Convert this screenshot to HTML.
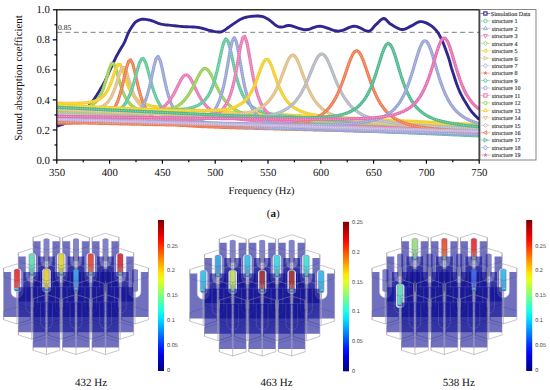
<!DOCTYPE html><html><head><meta charset="utf-8"><style>
html,body{margin:0;padding:0;background:#fff;text-rendering:geometricPrecision;-webkit-font-smoothing:antialiased;width:550px;height:390px;overflow:hidden;position:relative;font-family:"Liberation Serif",serif}
</style></head><body>
<svg width="550" height="390" viewBox="0 0 550 390" style="position:absolute;left:0;top:0">
<defs><clipPath id="cp"><rect x="56.8" y="9.8" width="422.4" height="150.2"/></clipPath></defs>
<line x1="57" y1="32.33" x2="479" y2="32.33" stroke="#808080" stroke-width="1" stroke-dasharray="5,3.4"/>
<text x="58" y="30" font-family="Liberation Serif" font-size="7.6" fill="#222">0.85</text>
<g clip-path="url(#cp)" fill="none" stroke-linejoin="round">
<path d="M56.80,126.20 L57.95,125.82 L59.54,125.31 L61.42,124.70 L63.45,124.01 L65.48,123.25 L67.36,122.45 L69.10,121.65 L70.82,120.84 L72.53,119.96 L74.27,118.97 L76.06,117.82 L77.92,116.44 L79.86,114.87 L81.86,113.16 L83.91,111.28 L85.98,109.21 L88.08,106.93 L90.17,104.43 L92.30,101.62 L94.50,98.53 L96.71,95.23 L98.89,91.80 L100.98,88.33 L102.95,84.90 L104.81,81.36 L106.61,77.61 L108.33,73.82 L109.94,70.16 L111.43,66.79 L112.77,63.87 L113.90,61.51 L114.83,59.59 L115.64,57.96 L116.39,56.47 L117.17,54.99 L118.05,53.36 L119.04,51.61 L120.09,49.85 L121.16,48.10 L122.23,46.35 L123.24,44.60 L124.17,42.84 L125.00,41.07 L125.75,39.26 L126.45,37.45 L127.14,35.67 L127.85,33.95 L128.61,32.33 L129.45,30.76 L130.35,29.21 L131.27,27.73 L132.17,26.35 L133.02,25.12 L133.78,24.07 L134.42,23.25 L134.96,22.63 L135.44,22.16 L135.92,21.78 L136.44,21.44 L137.06,21.06 L137.78,20.67 L138.57,20.30 L139.40,19.96 L140.25,19.66 L141.10,19.43 L141.91,19.26 L142.69,19.18 L143.45,19.17 L144.21,19.23 L144.97,19.32 L145.75,19.44 L146.56,19.56 L147.36,19.69 L148.13,19.82 L148.92,19.98 L149.77,20.17 L150.73,20.43 L151.84,20.76 L153.11,21.21 L154.51,21.78 L156.02,22.40 L157.62,23.02 L159.29,23.60 L161.03,24.07 L162.87,24.43 L164.85,24.72 L166.91,24.96 L168.98,25.17 L171.02,25.37 L172.96,25.57 L174.80,25.78 L176.58,25.98 L178.33,26.16 L180.05,26.33 L181.78,26.49 L183.52,26.62 L185.33,26.73 L187.20,26.81 L189.06,26.87 L190.87,26.92 L192.56,26.99 L194.08,27.07 L195.36,27.16 L196.43,27.24 L197.38,27.33 L198.30,27.44 L199.29,27.60 L200.42,27.82 L201.69,28.14 L203.04,28.52 L204.44,28.96 L205.89,29.41 L207.37,29.84 L208.86,30.23 L210.44,30.60 L212.11,30.99 L213.81,31.36 L215.47,31.68 L217.02,31.92 L218.37,32.03 L219.45,32.04 L220.30,32.00 L221.03,31.86 L221.76,31.61 L222.60,31.23 L223.65,30.68 L224.94,29.90 L226.40,28.91 L227.96,27.79 L229.58,26.60 L231.18,25.43 L232.73,24.37 L234.21,23.36 L235.68,22.34 L237.14,21.35 L238.60,20.40 L240.09,19.55 L241.60,18.81 L243.14,18.20 L244.68,17.69 L246.25,17.26 L247.83,16.92 L249.45,16.63 L251.10,16.41 L252.84,16.23 L254.66,16.10 L256.52,16.04 L258.34,16.06 L260.08,16.18 L261.66,16.41 L263.08,16.76 L264.36,17.22 L265.56,17.77 L266.71,18.41 L267.86,19.11 L269.06,19.86 L270.31,20.75 L271.60,21.80 L272.88,22.92 L274.14,24.01 L275.34,24.98 L276.45,25.72 L277.41,26.24 L278.25,26.61 L279.02,26.86 L279.81,27.00 L280.69,27.07 L281.73,27.07 L282.87,26.92 L284.06,26.57 L285.32,26.14 L286.73,25.75 L288.33,25.52 L290.18,25.57 L292.34,26.03 L294.80,26.84 L297.45,27.81 L300.18,28.74 L302.90,29.46 L305.49,29.78 L307.92,29.53 L310.27,28.84 L312.60,27.93 L314.96,27.03 L317.43,26.37 L320.06,26.17 L322.90,26.62 L325.92,27.56 L329.04,28.73 L332.18,29.89 L335.27,30.78 L338.22,31.13 L341.07,30.76 L343.88,29.84 L346.63,28.64 L349.32,27.45 L351.94,26.53 L354.49,26.17 L356.99,26.57 L359.48,27.56 L361.90,28.82 L364.19,30.06 L366.32,30.98 L368.21,31.28 L369.82,30.87 L371.16,29.98 L372.33,28.76 L373.41,27.39 L374.51,26.02 L375.71,24.82 L377.02,23.62 L378.36,22.27 L379.71,20.91 L381.05,19.73 L382.37,18.87 L383.63,18.51 L384.79,18.75 L385.83,19.49 L386.85,20.56 L387.92,21.79 L389.11,23.01 L390.50,24.07 L392.15,25.08 L394.02,26.21 L396.01,27.33 L398.03,28.32 L399.99,29.08 L401.80,29.48 L403.44,29.44 L404.98,29.06 L406.47,28.44 L407.92,27.68 L409.38,26.89 L410.88,26.17 L412.40,25.41 L413.94,24.49 L415.48,23.54 L417.01,22.68 L418.54,22.01 L420.06,21.67 L421.59,21.66 L423.13,21.90 L424.66,22.34 L426.17,22.93 L427.64,23.63 L429.04,24.37 L430.39,25.18 L431.70,26.10 L432.96,27.12 L434.18,28.23 L435.33,29.42 L436.43,30.68 L437.47,32.04 L438.44,33.53 L439.36,35.09 L440.23,36.69 L441.05,38.29 L441.82,39.84 L442.52,41.33 L443.14,42.80 L443.72,44.26 L444.27,45.74 L444.82,47.26 L445.41,48.85 L446.02,50.51 L446.65,52.22 L447.28,53.98 L447.91,55.76 L448.52,57.56 L449.10,59.37 L449.62,61.07 L450.05,62.68 L450.47,64.29 L450.94,66.05 L451.52,68.07 L452.27,70.48 L453.21,73.41 L454.29,76.79 L455.49,80.44 L456.76,84.16 L458.09,87.76 L459.45,91.06 L460.91,94.14 L462.51,97.18 L464.17,100.11 L465.79,102.84 L467.31,105.31 L468.64,107.43 L469.75,109.13 L470.69,110.45 L471.52,111.50 L472.30,112.40 L473.09,113.26 L473.92,114.19 L474.86,115.21 L475.88,116.25 L476.89,117.24 L477.83,118.14 L478.63,118.89 L479.20,119.45" stroke="#30268e" stroke-width="2.9"/>
<path d="M56.80,109.54 L58.91,109.56 L61.02,109.56 L63.14,109.56 L65.25,109.54 L67.36,109.50 L69.47,109.44 L71.58,109.36 L73.70,109.24 L75.81,109.09 L77.92,108.89 L80.03,108.62 L82.14,108.29 L84.26,107.86 L86.37,107.30 L88.48,106.58 L90.59,105.64 L92.70,104.41 L94.82,102.79 L96.93,100.63 L99.04,97.74 L101.15,93.88 L103.26,88.79 L105.38,82.37 L107.49,74.95 L109.60,67.86 L111.71,63.46 L113.82,63.81 L115.94,68.80 L118.05,76.21 L120.16,83.76 L122.27,90.25 L124.38,95.40 L126.50,99.34 L128.61,102.35 L130.72,104.64 L132.83,106.41 L134.94,107.80 L137.06,108.91 L139.17,109.81 L141.28,110.55 L143.39,111.17 L145.50,111.69 L147.62,112.14 L149.73,112.53 L151.84,112.88 L153.95,113.18 L156.06,113.46 L158.18,113.71 L160.29,113.94 L162.40,114.16 L164.51,114.36 L166.62,114.55 L168.74,114.72 L170.85,114.89 L172.96,115.05 L175.07,115.20 L177.18,115.35 L179.30,115.49 L181.41,115.63 L183.52,115.77 L185.63,115.90 L187.74,116.03 L189.86,116.15 L191.97,116.28 L194.08,116.40 L196.19,116.52 L198.30,116.63 L200.42,116.75 L202.53,116.86 L204.64,116.98 L206.75,117.09 L208.86,117.20 L210.98,117.31 L213.09,117.42 L215.20,117.53 L217.31,117.64 L219.42,117.74 L221.54,117.85 L223.65,117.96 L225.76,118.06 L227.87,118.17 L229.98,118.27 L232.10,118.38 L234.21,118.48 L236.32,118.58 L238.43,118.69 L240.54,118.79 L242.66,118.89 L244.77,119.00 L246.88,119.10 L248.99,119.20 L251.10,119.30 L253.22,119.40 L255.33,119.50 L257.44,119.61 L259.55,119.71 L261.66,119.81 L263.78,119.91 L265.89,120.01 L268.00,120.11 L270.11,120.21 L272.22,120.31 L274.34,120.41 L276.45,120.51 L278.56,120.61 L280.67,120.71 L282.78,120.81 L284.90,120.91 L287.01,121.01 L289.12,121.11 L291.23,121.21 L293.34,121.31 L295.46,121.41 L297.57,121.51 L299.68,121.60 L301.79,121.70 L303.90,121.80 L306.02,121.90 L308.13,122.00 L310.24,122.10 L312.35,122.20 L314.46,122.30 L316.58,122.40 L318.69,122.49 L320.80,122.59 L322.91,122.69 L325.02,122.79 L327.14,122.89 L329.25,122.99 L331.36,123.09 L333.47,123.18 L335.58,123.28 L337.70,123.38 L339.81,123.48 L341.92,123.58 L344.03,123.68 L346.14,123.77 L348.26,123.87 L350.37,123.97 L352.48,124.07 L354.59,124.17 L356.70,124.27 L358.82,124.36 L360.93,124.46 L363.04,124.56 L365.15,124.66 L367.26,124.76 L369.38,124.86 L371.49,124.95 L373.60,125.05 L375.71,125.15 L377.82,125.25 L379.94,125.35 L382.05,125.44 L384.16,125.54 L386.27,125.64 L388.38,125.74 L390.50,125.84 L392.61,125.93 L394.72,126.03 L396.83,126.13 L398.94,126.23 L401.06,126.33 L403.17,126.42 L405.28,126.52 L407.39,126.62 L409.50,126.72 L411.62,126.82 L413.73,126.91 L415.84,127.01 L417.95,127.11 L420.06,127.21 L422.18,127.31 L424.29,127.40 L426.40,127.50 L428.51,127.60 L430.62,127.70 L432.74,127.80 L434.85,127.89 L436.96,127.99 L439.07,128.09 L441.18,128.19 L443.30,128.28 L445.41,128.38 L447.52,128.48 L449.63,128.58 L451.74,128.68 L453.86,128.77 L455.97,128.87 L458.08,128.97 L460.19,129.07 L462.30,129.17 L464.42,129.26 L466.53,129.36 L468.64,129.46 L470.75,129.56 L472.86,129.65 L474.98,129.75 L477.09,129.85 L479.20,129.95" stroke="#9ccf5a" stroke-width="3.2"/>
<path d="M56.80,109.54 L58.91,109.56 L61.02,109.56 L63.14,109.56 L65.25,109.54 L67.36,109.50 L69.47,109.44 L71.58,109.36 L73.70,109.24 L75.81,109.09 L77.92,108.89 L80.03,108.62 L82.14,108.29 L84.26,107.86 L86.37,107.30 L88.48,106.58 L90.59,105.64 L92.70,104.41 L94.82,102.79 L96.93,100.63 L99.04,97.74 L101.15,93.88 L103.26,88.79 L105.38,82.37 L107.49,74.95 L109.60,67.86 L111.71,63.46 L113.82,63.81 L115.94,68.80 L118.05,76.21 L120.16,83.76 L122.27,90.25 L124.38,95.40 L126.50,99.34 L128.61,102.35 L130.72,104.64 L132.83,106.41 L134.94,107.80 L137.06,108.91 L139.17,109.81 L141.28,110.55 L143.39,111.17 L145.50,111.69 L147.62,112.14 L149.73,112.53 L151.84,112.88 L153.95,113.18 L156.06,113.46 L158.18,113.71 L160.29,113.94 L162.40,114.16 L164.51,114.36 L166.62,114.55 L168.74,114.72 L170.85,114.89 L172.96,115.05 L175.07,115.20 L177.18,115.35 L179.30,115.49 L181.41,115.63 L183.52,115.77 L185.63,115.90 L187.74,116.03 L189.86,116.15 L191.97,116.28 L194.08,116.40 L196.19,116.52 L198.30,116.63 L200.42,116.75 L202.53,116.86 L204.64,116.98 L206.75,117.09 L208.86,117.20 L210.98,117.31 L213.09,117.42 L215.20,117.53 L217.31,117.64 L219.42,117.74 L221.54,117.85 L223.65,117.96 L225.76,118.06 L227.87,118.17 L229.98,118.27 L232.10,118.38 L234.21,118.48 L236.32,118.58 L238.43,118.69 L240.54,118.79 L242.66,118.89 L244.77,119.00 L246.88,119.10 L248.99,119.20 L251.10,119.30 L253.22,119.40 L255.33,119.50 L257.44,119.61 L259.55,119.71 L261.66,119.81 L263.78,119.91 L265.89,120.01 L268.00,120.11 L270.11,120.21 L272.22,120.31 L274.34,120.41 L276.45,120.51 L278.56,120.61 L280.67,120.71 L282.78,120.81 L284.90,120.91 L287.01,121.01 L289.12,121.11 L291.23,121.21 L293.34,121.31 L295.46,121.41 L297.57,121.51 L299.68,121.60 L301.79,121.70 L303.90,121.80 L306.02,121.90 L308.13,122.00 L310.24,122.10 L312.35,122.20 L314.46,122.30 L316.58,122.40 L318.69,122.49 L320.80,122.59 L322.91,122.69 L325.02,122.79 L327.14,122.89 L329.25,122.99 L331.36,123.09 L333.47,123.18 L335.58,123.28 L337.70,123.38 L339.81,123.48 L341.92,123.58 L344.03,123.68 L346.14,123.77 L348.26,123.87 L350.37,123.97 L352.48,124.07 L354.59,124.17 L356.70,124.27 L358.82,124.36 L360.93,124.46 L363.04,124.56 L365.15,124.66 L367.26,124.76 L369.38,124.86 L371.49,124.95 L373.60,125.05 L375.71,125.15 L377.82,125.25 L379.94,125.35 L382.05,125.44 L384.16,125.54 L386.27,125.64 L388.38,125.74 L390.50,125.84 L392.61,125.93 L394.72,126.03 L396.83,126.13 L398.94,126.23 L401.06,126.33 L403.17,126.42 L405.28,126.52 L407.39,126.62 L409.50,126.72 L411.62,126.82 L413.73,126.91 L415.84,127.01 L417.95,127.11 L420.06,127.21 L422.18,127.31 L424.29,127.40 L426.40,127.50 L428.51,127.60 L430.62,127.70 L432.74,127.80 L434.85,127.89 L436.96,127.99 L439.07,128.09 L441.18,128.19 L443.30,128.28 L445.41,128.38 L447.52,128.48 L449.63,128.58 L451.74,128.68 L453.86,128.77 L455.97,128.87 L458.08,128.97 L460.19,129.07 L462.30,129.17 L464.42,129.26 L466.53,129.36 L468.64,129.46 L470.75,129.56 L472.86,129.65 L474.98,129.75 L477.09,129.85 L479.20,129.95" stroke="#fff" stroke-width="0.9" stroke-opacity="0.55" stroke-dasharray="1,1.3"/>
<path d="M56.80,103.07 L58.91,103.13 L61.02,103.18 L63.14,103.23 L65.25,103.26 L67.36,103.29 L69.47,103.31 L71.58,103.31 L73.70,103.30 L75.81,103.28 L77.92,103.23 L80.03,103.15 L82.14,103.04 L84.26,102.89 L86.37,102.69 L88.48,102.43 L90.59,102.08 L92.70,101.63 L94.82,101.04 L96.93,100.27 L99.04,99.25 L101.15,97.90 L103.26,96.10 L105.38,93.68 L107.49,90.44 L109.60,86.16 L111.71,80.73 L113.82,74.41 L115.94,68.30 L118.05,64.38 L120.16,64.48 L122.27,68.62 L124.38,74.94 L126.50,81.46 L128.61,87.11 L130.72,91.60 L132.83,95.05 L134.94,97.68 L137.06,99.69 L139.17,101.25 L141.28,102.48 L143.39,103.46 L145.50,104.26 L147.62,104.92 L149.73,105.48 L151.84,105.95 L153.95,106.36 L156.06,106.72 L158.18,107.04 L160.29,107.33 L162.40,107.59 L164.51,107.82 L166.62,108.05 L168.74,108.25 L170.85,108.44 L172.96,108.63 L175.07,108.80 L177.18,108.97 L179.30,109.12 L181.41,109.28 L183.52,109.43 L185.63,109.57 L187.74,109.71 L189.86,109.85 L191.97,109.98 L194.08,110.11 L196.19,110.24 L198.30,110.37 L200.42,110.50 L202.53,110.62 L204.64,110.74 L206.75,110.86 L208.86,110.98 L210.98,111.10 L213.09,111.22 L215.20,111.34 L217.31,111.45 L219.42,111.57 L221.54,111.68 L223.65,111.80 L225.76,111.91 L227.87,112.02 L229.98,112.13 L232.10,112.25 L234.21,112.36 L236.32,112.47 L238.43,112.58 L240.54,112.69 L242.66,112.80 L244.77,112.91 L246.88,113.02 L248.99,113.13 L251.10,113.24 L253.22,113.35 L255.33,113.46 L257.44,113.57 L259.55,113.67 L261.66,113.78 L263.78,113.89 L265.89,114.00 L268.00,114.11 L270.11,114.21 L272.22,114.32 L274.34,114.43 L276.45,114.54 L278.56,114.64 L280.67,114.75 L282.78,114.86 L284.90,114.97 L287.01,115.07 L289.12,115.18 L291.23,115.29 L293.34,115.39 L295.46,115.50 L297.57,115.61 L299.68,115.71 L301.79,115.82 L303.90,115.93 L306.02,116.03 L308.13,116.14 L310.24,116.25 L312.35,116.35 L314.46,116.46 L316.58,116.56 L318.69,116.67 L320.80,116.78 L322.91,116.88 L325.02,116.99 L327.14,117.09 L329.25,117.20 L331.36,117.31 L333.47,117.41 L335.58,117.52 L337.70,117.62 L339.81,117.73 L341.92,117.84 L344.03,117.94 L346.14,118.05 L348.26,118.15 L350.37,118.26 L352.48,118.37 L354.59,118.47 L356.70,118.58 L358.82,118.68 L360.93,118.79 L363.04,118.89 L365.15,119.00 L367.26,119.10 L369.38,119.21 L371.49,119.32 L373.60,119.42 L375.71,119.53 L377.82,119.63 L379.94,119.74 L382.05,119.84 L384.16,119.95 L386.27,120.06 L388.38,120.16 L390.50,120.27 L392.61,120.37 L394.72,120.48 L396.83,120.58 L398.94,120.69 L401.06,120.79 L403.17,120.90 L405.28,121.00 L407.39,121.11 L409.50,121.22 L411.62,121.32 L413.73,121.43 L415.84,121.53 L417.95,121.64 L420.06,121.74 L422.18,121.85 L424.29,121.95 L426.40,122.06 L428.51,122.16 L430.62,122.27 L432.74,122.37 L434.85,122.48 L436.96,122.59 L439.07,122.69 L441.18,122.80 L443.30,122.90 L445.41,123.01 L447.52,123.11 L449.63,123.22 L451.74,123.32 L453.86,123.43 L455.97,123.53 L458.08,123.64 L460.19,123.74 L462.30,123.85 L464.42,123.96 L466.53,124.06 L468.64,124.17 L470.75,124.27 L472.86,124.38 L474.98,124.48 L477.09,124.59 L479.20,124.69" stroke="#f2cf2c" stroke-width="3.2"/>
<path d="M56.80,103.07 L58.91,103.13 L61.02,103.18 L63.14,103.23 L65.25,103.26 L67.36,103.29 L69.47,103.31 L71.58,103.31 L73.70,103.30 L75.81,103.28 L77.92,103.23 L80.03,103.15 L82.14,103.04 L84.26,102.89 L86.37,102.69 L88.48,102.43 L90.59,102.08 L92.70,101.63 L94.82,101.04 L96.93,100.27 L99.04,99.25 L101.15,97.90 L103.26,96.10 L105.38,93.68 L107.49,90.44 L109.60,86.16 L111.71,80.73 L113.82,74.41 L115.94,68.30 L118.05,64.38 L120.16,64.48 L122.27,68.62 L124.38,74.94 L126.50,81.46 L128.61,87.11 L130.72,91.60 L132.83,95.05 L134.94,97.68 L137.06,99.69 L139.17,101.25 L141.28,102.48 L143.39,103.46 L145.50,104.26 L147.62,104.92 L149.73,105.48 L151.84,105.95 L153.95,106.36 L156.06,106.72 L158.18,107.04 L160.29,107.33 L162.40,107.59 L164.51,107.82 L166.62,108.05 L168.74,108.25 L170.85,108.44 L172.96,108.63 L175.07,108.80 L177.18,108.97 L179.30,109.12 L181.41,109.28 L183.52,109.43 L185.63,109.57 L187.74,109.71 L189.86,109.85 L191.97,109.98 L194.08,110.11 L196.19,110.24 L198.30,110.37 L200.42,110.50 L202.53,110.62 L204.64,110.74 L206.75,110.86 L208.86,110.98 L210.98,111.10 L213.09,111.22 L215.20,111.34 L217.31,111.45 L219.42,111.57 L221.54,111.68 L223.65,111.80 L225.76,111.91 L227.87,112.02 L229.98,112.13 L232.10,112.25 L234.21,112.36 L236.32,112.47 L238.43,112.58 L240.54,112.69 L242.66,112.80 L244.77,112.91 L246.88,113.02 L248.99,113.13 L251.10,113.24 L253.22,113.35 L255.33,113.46 L257.44,113.57 L259.55,113.67 L261.66,113.78 L263.78,113.89 L265.89,114.00 L268.00,114.11 L270.11,114.21 L272.22,114.32 L274.34,114.43 L276.45,114.54 L278.56,114.64 L280.67,114.75 L282.78,114.86 L284.90,114.97 L287.01,115.07 L289.12,115.18 L291.23,115.29 L293.34,115.39 L295.46,115.50 L297.57,115.61 L299.68,115.71 L301.79,115.82 L303.90,115.93 L306.02,116.03 L308.13,116.14 L310.24,116.25 L312.35,116.35 L314.46,116.46 L316.58,116.56 L318.69,116.67 L320.80,116.78 L322.91,116.88 L325.02,116.99 L327.14,117.09 L329.25,117.20 L331.36,117.31 L333.47,117.41 L335.58,117.52 L337.70,117.62 L339.81,117.73 L341.92,117.84 L344.03,117.94 L346.14,118.05 L348.26,118.15 L350.37,118.26 L352.48,118.37 L354.59,118.47 L356.70,118.58 L358.82,118.68 L360.93,118.79 L363.04,118.89 L365.15,119.00 L367.26,119.10 L369.38,119.21 L371.49,119.32 L373.60,119.42 L375.71,119.53 L377.82,119.63 L379.94,119.74 L382.05,119.84 L384.16,119.95 L386.27,120.06 L388.38,120.16 L390.50,120.27 L392.61,120.37 L394.72,120.48 L396.83,120.58 L398.94,120.69 L401.06,120.79 L403.17,120.90 L405.28,121.00 L407.39,121.11 L409.50,121.22 L411.62,121.32 L413.73,121.43 L415.84,121.53 L417.95,121.64 L420.06,121.74 L422.18,121.85 L424.29,121.95 L426.40,122.06 L428.51,122.16 L430.62,122.27 L432.74,122.37 L434.85,122.48 L436.96,122.59 L439.07,122.69 L441.18,122.80 L443.30,122.90 L445.41,123.01 L447.52,123.11 L449.63,123.22 L451.74,123.32 L453.86,123.43 L455.97,123.53 L458.08,123.64 L460.19,123.74 L462.30,123.85 L464.42,123.96 L466.53,124.06 L468.64,124.17 L470.75,124.27 L472.86,124.38 L474.98,124.48 L477.09,124.59 L479.20,124.69" stroke="#fff" stroke-width="0.9" stroke-opacity="0.55" stroke-dasharray="1,1.3"/>
<path d="M56.80,110.62 L58.91,110.66 L61.02,110.70 L63.14,110.73 L65.25,110.76 L67.36,110.78 L69.47,110.79 L71.58,110.79 L73.70,110.78 L75.81,110.76 L77.92,110.72 L80.03,110.66 L82.14,110.58 L84.26,110.46 L86.37,110.32 L88.48,110.12 L90.59,109.88 L92.70,109.56 L94.82,109.15 L96.93,108.63 L99.04,107.95 L101.15,107.08 L103.26,105.93 L105.38,104.42 L107.49,102.42 L109.60,99.74 L111.71,96.16 L113.82,91.44 L115.94,85.45 L118.05,78.50 L120.16,71.77 L122.27,67.45 L124.38,67.53 L126.50,72.03 L128.61,78.94 L130.72,86.06 L132.83,92.21 L134.94,97.11 L137.06,100.86 L139.17,103.71 L141.28,105.89 L143.39,107.58 L145.50,108.89 L147.62,109.94 L149.73,110.79 L151.84,111.48 L153.95,112.06 L156.06,112.55 L158.18,112.97 L160.29,113.34 L162.40,113.66 L164.51,113.94 L166.62,114.20 L168.74,114.43 L170.85,114.65 L172.96,114.84 L175.07,115.03 L177.18,115.20 L179.30,115.36 L181.41,115.51 L183.52,115.66 L185.63,115.80 L187.74,115.93 L189.86,116.06 L191.97,116.18 L194.08,116.30 L196.19,116.42 L198.30,116.54 L200.42,116.65 L202.53,116.76 L204.64,116.87 L206.75,116.98 L208.86,117.08 L210.98,117.19 L213.09,117.29 L215.20,117.39 L217.31,117.49 L219.42,117.59 L221.54,117.69 L223.65,117.78 L225.76,117.88 L227.87,117.98 L229.98,118.07 L232.10,118.17 L234.21,118.26 L236.32,118.36 L238.43,118.45 L240.54,118.54 L242.66,118.63 L244.77,118.73 L246.88,118.82 L248.99,118.91 L251.10,119.00 L253.22,119.09 L255.33,119.18 L257.44,119.27 L259.55,119.36 L261.66,119.45 L263.78,119.54 L265.89,119.63 L268.00,119.72 L270.11,119.81 L272.22,119.90 L274.34,119.99 L276.45,120.08 L278.56,120.17 L280.67,120.26 L282.78,120.35 L284.90,120.44 L287.01,120.53 L289.12,120.61 L291.23,120.70 L293.34,120.79 L295.46,120.88 L297.57,120.97 L299.68,121.06 L301.79,121.14 L303.90,121.23 L306.02,121.32 L308.13,121.41 L310.24,121.49 L312.35,121.58 L314.46,121.67 L316.58,121.76 L318.69,121.85 L320.80,121.93 L322.91,122.02 L325.02,122.11 L327.14,122.20 L329.25,122.28 L331.36,122.37 L333.47,122.46 L335.58,122.54 L337.70,122.63 L339.81,122.72 L341.92,122.81 L344.03,122.89 L346.14,122.98 L348.26,123.07 L350.37,123.16 L352.48,123.24 L354.59,123.33 L356.70,123.42 L358.82,123.50 L360.93,123.59 L363.04,123.68 L365.15,123.76 L367.26,123.85 L369.38,123.94 L371.49,124.03 L373.60,124.11 L375.71,124.20 L377.82,124.29 L379.94,124.37 L382.05,124.46 L384.16,124.55 L386.27,124.63 L388.38,124.72 L390.50,124.81 L392.61,124.89 L394.72,124.98 L396.83,125.07 L398.94,125.15 L401.06,125.24 L403.17,125.33 L405.28,125.41 L407.39,125.50 L409.50,125.59 L411.62,125.67 L413.73,125.76 L415.84,125.85 L417.95,125.93 L420.06,126.02 L422.18,126.11 L424.29,126.19 L426.40,126.28 L428.51,126.37 L430.62,126.45 L432.74,126.54 L434.85,126.63 L436.96,126.71 L439.07,126.80 L441.18,126.89 L443.30,126.97 L445.41,127.06 L447.52,127.15 L449.63,127.23 L451.74,127.32 L453.86,127.41 L455.97,127.49 L458.08,127.58 L460.19,127.67 L462.30,127.75 L464.42,127.84 L466.53,127.93 L468.64,128.01 L470.75,128.10 L472.86,128.19 L474.98,128.27 L477.09,128.36 L479.20,128.45" stroke="#dfc08a" stroke-width="3.2"/>
<path d="M56.80,110.62 L58.91,110.66 L61.02,110.70 L63.14,110.73 L65.25,110.76 L67.36,110.78 L69.47,110.79 L71.58,110.79 L73.70,110.78 L75.81,110.76 L77.92,110.72 L80.03,110.66 L82.14,110.58 L84.26,110.46 L86.37,110.32 L88.48,110.12 L90.59,109.88 L92.70,109.56 L94.82,109.15 L96.93,108.63 L99.04,107.95 L101.15,107.08 L103.26,105.93 L105.38,104.42 L107.49,102.42 L109.60,99.74 L111.71,96.16 L113.82,91.44 L115.94,85.45 L118.05,78.50 L120.16,71.77 L122.27,67.45 L124.38,67.53 L126.50,72.03 L128.61,78.94 L130.72,86.06 L132.83,92.21 L134.94,97.11 L137.06,100.86 L139.17,103.71 L141.28,105.89 L143.39,107.58 L145.50,108.89 L147.62,109.94 L149.73,110.79 L151.84,111.48 L153.95,112.06 L156.06,112.55 L158.18,112.97 L160.29,113.34 L162.40,113.66 L164.51,113.94 L166.62,114.20 L168.74,114.43 L170.85,114.65 L172.96,114.84 L175.07,115.03 L177.18,115.20 L179.30,115.36 L181.41,115.51 L183.52,115.66 L185.63,115.80 L187.74,115.93 L189.86,116.06 L191.97,116.18 L194.08,116.30 L196.19,116.42 L198.30,116.54 L200.42,116.65 L202.53,116.76 L204.64,116.87 L206.75,116.98 L208.86,117.08 L210.98,117.19 L213.09,117.29 L215.20,117.39 L217.31,117.49 L219.42,117.59 L221.54,117.69 L223.65,117.78 L225.76,117.88 L227.87,117.98 L229.98,118.07 L232.10,118.17 L234.21,118.26 L236.32,118.36 L238.43,118.45 L240.54,118.54 L242.66,118.63 L244.77,118.73 L246.88,118.82 L248.99,118.91 L251.10,119.00 L253.22,119.09 L255.33,119.18 L257.44,119.27 L259.55,119.36 L261.66,119.45 L263.78,119.54 L265.89,119.63 L268.00,119.72 L270.11,119.81 L272.22,119.90 L274.34,119.99 L276.45,120.08 L278.56,120.17 L280.67,120.26 L282.78,120.35 L284.90,120.44 L287.01,120.53 L289.12,120.61 L291.23,120.70 L293.34,120.79 L295.46,120.88 L297.57,120.97 L299.68,121.06 L301.79,121.14 L303.90,121.23 L306.02,121.32 L308.13,121.41 L310.24,121.49 L312.35,121.58 L314.46,121.67 L316.58,121.76 L318.69,121.85 L320.80,121.93 L322.91,122.02 L325.02,122.11 L327.14,122.20 L329.25,122.28 L331.36,122.37 L333.47,122.46 L335.58,122.54 L337.70,122.63 L339.81,122.72 L341.92,122.81 L344.03,122.89 L346.14,122.98 L348.26,123.07 L350.37,123.16 L352.48,123.24 L354.59,123.33 L356.70,123.42 L358.82,123.50 L360.93,123.59 L363.04,123.68 L365.15,123.76 L367.26,123.85 L369.38,123.94 L371.49,124.03 L373.60,124.11 L375.71,124.20 L377.82,124.29 L379.94,124.37 L382.05,124.46 L384.16,124.55 L386.27,124.63 L388.38,124.72 L390.50,124.81 L392.61,124.89 L394.72,124.98 L396.83,125.07 L398.94,125.15 L401.06,125.24 L403.17,125.33 L405.28,125.41 L407.39,125.50 L409.50,125.59 L411.62,125.67 L413.73,125.76 L415.84,125.85 L417.95,125.93 L420.06,126.02 L422.18,126.11 L424.29,126.19 L426.40,126.28 L428.51,126.37 L430.62,126.45 L432.74,126.54 L434.85,126.63 L436.96,126.71 L439.07,126.80 L441.18,126.89 L443.30,126.97 L445.41,127.06 L447.52,127.15 L449.63,127.23 L451.74,127.32 L453.86,127.41 L455.97,127.49 L458.08,127.58 L460.19,127.67 L462.30,127.75 L464.42,127.84 L466.53,127.93 L468.64,128.01 L470.75,128.10 L472.86,128.19 L474.98,128.27 L477.09,128.36 L479.20,128.45" stroke="#fff" stroke-width="0.9" stroke-opacity="0.55" stroke-dasharray="1,1.3"/>
<path d="M56.80,123.21 L58.91,123.20 L61.02,123.20 L63.14,123.18 L65.25,123.17 L67.36,123.14 L69.47,123.10 L71.58,123.06 L73.70,123.00 L75.81,122.93 L77.92,122.85 L80.03,122.75 L82.14,122.62 L84.26,122.47 L86.37,122.29 L88.48,122.08 L90.59,121.82 L92.70,121.50 L94.82,121.12 L96.93,120.66 L99.04,120.09 L101.15,119.39 L103.26,118.53 L105.38,117.44 L107.49,116.07 L109.60,114.31 L111.71,112.06 L113.82,109.13 L115.94,105.31 L118.05,100.33 L120.16,93.92 L122.27,85.97 L124.38,76.83 L126.50,67.79 L128.61,61.30 L130.72,59.87 L132.83,64.17 L134.94,72.38 L137.06,81.81 L139.17,90.55 L141.28,97.83 L143.39,103.59 L145.50,108.06 L147.62,111.50 L149.73,114.16 L151.84,116.25 L153.95,117.89 L156.06,119.21 L158.18,120.28 L160.29,121.15 L162.40,121.88 L164.51,122.49 L166.62,123.01 L168.74,123.45 L170.85,123.83 L172.96,124.17 L175.07,124.46 L177.18,124.72 L179.30,124.96 L181.41,125.17 L183.52,125.36 L185.63,125.53 L187.74,125.69 L189.86,125.84 L191.97,125.98 L194.08,126.11 L196.19,126.23 L198.30,126.34 L200.42,126.45 L202.53,126.55 L204.64,126.65 L206.75,126.74 L208.86,126.83 L210.98,126.91 L213.09,127.00 L215.20,127.08 L217.31,127.16 L219.42,127.23 L221.54,127.30 L223.65,127.38 L225.76,127.45 L227.87,127.52 L229.98,127.58 L232.10,127.65 L234.21,127.71 L236.32,127.78 L238.43,127.84 L240.54,127.90 L242.66,127.96 L244.77,128.03 L246.88,128.08 L248.99,128.14 L251.10,128.20 L253.22,128.26 L255.33,128.32 L257.44,128.38 L259.55,128.43 L261.66,128.49 L263.78,128.54 L265.89,128.60 L268.00,128.66 L270.11,128.71 L272.22,128.76 L274.34,128.82 L276.45,128.87 L278.56,128.93 L280.67,128.98 L282.78,129.03 L284.90,129.09 L287.01,129.14 L289.12,129.19 L291.23,129.25 L293.34,129.30 L295.46,129.35 L297.57,129.40 L299.68,129.45 L301.79,129.51 L303.90,129.56 L306.02,129.61 L308.13,129.66 L310.24,129.71 L312.35,129.76 L314.46,129.82 L316.58,129.87 L318.69,129.92 L320.80,129.97 L322.91,130.02 L325.02,130.07 L327.14,130.12 L329.25,130.17 L331.36,130.22 L333.47,130.27 L335.58,130.32 L337.70,130.37 L339.81,130.43 L341.92,130.48 L344.03,130.53 L346.14,130.58 L348.26,130.63 L350.37,130.68 L352.48,130.73 L354.59,130.78 L356.70,130.83 L358.82,130.88 L360.93,130.93 L363.04,130.98 L365.15,131.03 L367.26,131.08 L369.38,131.13 L371.49,131.18 L373.60,131.23 L375.71,131.28 L377.82,131.33 L379.94,131.38 L382.05,131.42 L384.16,131.47 L386.27,131.52 L388.38,131.57 L390.50,131.62 L392.61,131.67 L394.72,131.72 L396.83,131.77 L398.94,131.82 L401.06,131.87 L403.17,131.92 L405.28,131.97 L407.39,132.02 L409.50,132.07 L411.62,132.12 L413.73,132.17 L415.84,132.22 L417.95,132.27 L420.06,132.32 L422.18,132.37 L424.29,132.41 L426.40,132.46 L428.51,132.51 L430.62,132.56 L432.74,132.61 L434.85,132.66 L436.96,132.71 L439.07,132.76 L441.18,132.81 L443.30,132.86 L445.41,132.91 L447.52,132.96 L449.63,133.01 L451.74,133.05 L453.86,133.10 L455.97,133.15 L458.08,133.20 L460.19,133.25 L462.30,133.30 L464.42,133.35 L466.53,133.40 L468.64,133.45 L470.75,133.50 L472.86,133.55 L474.98,133.60 L477.09,133.64 L479.20,133.69" stroke="#ee7c52" stroke-width="3.2"/>
<path d="M56.80,123.21 L58.91,123.20 L61.02,123.20 L63.14,123.18 L65.25,123.17 L67.36,123.14 L69.47,123.10 L71.58,123.06 L73.70,123.00 L75.81,122.93 L77.92,122.85 L80.03,122.75 L82.14,122.62 L84.26,122.47 L86.37,122.29 L88.48,122.08 L90.59,121.82 L92.70,121.50 L94.82,121.12 L96.93,120.66 L99.04,120.09 L101.15,119.39 L103.26,118.53 L105.38,117.44 L107.49,116.07 L109.60,114.31 L111.71,112.06 L113.82,109.13 L115.94,105.31 L118.05,100.33 L120.16,93.92 L122.27,85.97 L124.38,76.83 L126.50,67.79 L128.61,61.30 L130.72,59.87 L132.83,64.17 L134.94,72.38 L137.06,81.81 L139.17,90.55 L141.28,97.83 L143.39,103.59 L145.50,108.06 L147.62,111.50 L149.73,114.16 L151.84,116.25 L153.95,117.89 L156.06,119.21 L158.18,120.28 L160.29,121.15 L162.40,121.88 L164.51,122.49 L166.62,123.01 L168.74,123.45 L170.85,123.83 L172.96,124.17 L175.07,124.46 L177.18,124.72 L179.30,124.96 L181.41,125.17 L183.52,125.36 L185.63,125.53 L187.74,125.69 L189.86,125.84 L191.97,125.98 L194.08,126.11 L196.19,126.23 L198.30,126.34 L200.42,126.45 L202.53,126.55 L204.64,126.65 L206.75,126.74 L208.86,126.83 L210.98,126.91 L213.09,127.00 L215.20,127.08 L217.31,127.16 L219.42,127.23 L221.54,127.30 L223.65,127.38 L225.76,127.45 L227.87,127.52 L229.98,127.58 L232.10,127.65 L234.21,127.71 L236.32,127.78 L238.43,127.84 L240.54,127.90 L242.66,127.96 L244.77,128.03 L246.88,128.08 L248.99,128.14 L251.10,128.20 L253.22,128.26 L255.33,128.32 L257.44,128.38 L259.55,128.43 L261.66,128.49 L263.78,128.54 L265.89,128.60 L268.00,128.66 L270.11,128.71 L272.22,128.76 L274.34,128.82 L276.45,128.87 L278.56,128.93 L280.67,128.98 L282.78,129.03 L284.90,129.09 L287.01,129.14 L289.12,129.19 L291.23,129.25 L293.34,129.30 L295.46,129.35 L297.57,129.40 L299.68,129.45 L301.79,129.51 L303.90,129.56 L306.02,129.61 L308.13,129.66 L310.24,129.71 L312.35,129.76 L314.46,129.82 L316.58,129.87 L318.69,129.92 L320.80,129.97 L322.91,130.02 L325.02,130.07 L327.14,130.12 L329.25,130.17 L331.36,130.22 L333.47,130.27 L335.58,130.32 L337.70,130.37 L339.81,130.43 L341.92,130.48 L344.03,130.53 L346.14,130.58 L348.26,130.63 L350.37,130.68 L352.48,130.73 L354.59,130.78 L356.70,130.83 L358.82,130.88 L360.93,130.93 L363.04,130.98 L365.15,131.03 L367.26,131.08 L369.38,131.13 L371.49,131.18 L373.60,131.23 L375.71,131.28 L377.82,131.33 L379.94,131.38 L382.05,131.42 L384.16,131.47 L386.27,131.52 L388.38,131.57 L390.50,131.62 L392.61,131.67 L394.72,131.72 L396.83,131.77 L398.94,131.82 L401.06,131.87 L403.17,131.92 L405.28,131.97 L407.39,132.02 L409.50,132.07 L411.62,132.12 L413.73,132.17 L415.84,132.22 L417.95,132.27 L420.06,132.32 L422.18,132.37 L424.29,132.41 L426.40,132.46 L428.51,132.51 L430.62,132.56 L432.74,132.61 L434.85,132.66 L436.96,132.71 L439.07,132.76 L441.18,132.81 L443.30,132.86 L445.41,132.91 L447.52,132.96 L449.63,133.01 L451.74,133.05 L453.86,133.10 L455.97,133.15 L458.08,133.20 L460.19,133.25 L462.30,133.30 L464.42,133.35 L466.53,133.40 L468.64,133.45 L470.75,133.50 L472.86,133.55 L474.98,133.60 L477.09,133.64 L479.20,133.69" stroke="#fff" stroke-width="0.9" stroke-opacity="0.55" stroke-dasharray="1,1.3"/>
<path d="M56.80,116.55 L58.91,116.61 L61.02,116.66 L63.14,116.71 L65.25,116.76 L67.36,116.80 L69.47,116.83 L71.58,116.87 L73.70,116.89 L75.81,116.91 L77.92,116.92 L80.03,116.92 L82.14,116.91 L84.26,116.89 L86.37,116.85 L88.48,116.80 L90.59,116.73 L92.70,116.64 L94.82,116.52 L96.93,116.38 L99.04,116.19 L101.15,115.96 L103.26,115.68 L105.38,115.34 L107.49,114.91 L109.60,114.39 L111.71,113.75 L113.82,112.96 L115.94,111.97 L118.05,110.74 L120.16,109.19 L122.27,107.23 L124.38,104.74 L126.50,101.57 L128.61,97.53 L130.72,92.45 L132.83,86.19 L134.94,78.84 L137.06,70.95 L139.17,63.75 L141.28,59.06 L143.39,58.48 L145.50,62.24 L147.62,69.08 L149.73,77.12 L151.84,84.90 L153.95,91.70 L156.06,97.32 L158.18,101.84 L160.29,105.44 L162.40,108.30 L164.51,110.59 L166.62,112.44 L168.74,113.95 L170.85,115.19 L172.96,116.22 L175.07,117.10 L177.18,117.84 L179.30,118.48 L181.41,119.03 L183.52,119.52 L185.63,119.95 L187.74,120.33 L189.86,120.68 L191.97,120.99 L194.08,121.28 L196.19,121.54 L198.30,121.79 L200.42,122.01 L202.53,122.23 L204.64,122.43 L206.75,122.62 L208.86,122.80 L210.98,122.97 L213.09,123.13 L215.20,123.29 L217.31,123.45 L219.42,123.59 L221.54,123.74 L223.65,123.87 L225.76,124.01 L227.87,124.14 L229.98,124.27 L232.10,124.40 L234.21,124.52 L236.32,124.64 L238.43,124.76 L240.54,124.88 L242.66,125.00 L244.77,125.11 L246.88,125.23 L248.99,125.34 L251.10,125.45 L253.22,125.56 L255.33,125.67 L257.44,125.78 L259.55,125.89 L261.66,125.99 L263.78,126.10 L265.89,126.20 L268.00,126.31 L270.11,126.41 L272.22,126.52 L274.34,126.62 L276.45,126.72 L278.56,126.82 L280.67,126.92 L282.78,127.03 L284.90,127.13 L287.01,127.23 L289.12,127.33 L291.23,127.43 L293.34,127.53 L295.46,127.63 L297.57,127.73 L299.68,127.83 L301.79,127.92 L303.90,128.02 L306.02,128.12 L308.13,128.22 L310.24,128.32 L312.35,128.42 L314.46,128.51 L316.58,128.61 L318.69,128.71 L320.80,128.81 L322.91,128.90 L325.02,129.00 L327.14,129.10 L329.25,129.19 L331.36,129.29 L333.47,129.39 L335.58,129.48 L337.70,129.58 L339.81,129.68 L341.92,129.77 L344.03,129.87 L346.14,129.96 L348.26,130.06 L350.37,130.16 L352.48,130.25 L354.59,130.35 L356.70,130.44 L358.82,130.54 L360.93,130.63 L363.04,130.73 L365.15,130.83 L367.26,130.92 L369.38,131.02 L371.49,131.11 L373.60,131.21 L375.71,131.30 L377.82,131.40 L379.94,131.49 L382.05,131.59 L384.16,131.68 L386.27,131.78 L388.38,131.87 L390.50,131.97 L392.61,132.06 L394.72,132.16 L396.83,132.25 L398.94,132.35 L401.06,132.44 L403.17,132.54 L405.28,132.63 L407.39,132.73 L409.50,132.82 L411.62,132.92 L413.73,133.01 L415.84,133.11 L417.95,133.20 L420.06,133.30 L422.18,133.39 L424.29,133.48 L426.40,133.58 L428.51,133.67 L430.62,133.77 L432.74,133.86 L434.85,133.96 L436.96,134.05 L439.07,134.15 L441.18,134.24 L443.30,134.34 L445.41,134.43 L447.52,134.52 L449.63,134.62 L451.74,134.71 L453.86,134.81 L455.97,134.90 L458.08,135.00 L460.19,135.09 L462.30,135.19 L464.42,135.28 L466.53,135.37 L468.64,135.47 L470.75,135.56 L472.86,135.66 L474.98,135.75 L477.09,135.85 L479.20,135.94" stroke="#62c79c" stroke-width="3.2"/>
<path d="M56.80,116.55 L58.91,116.61 L61.02,116.66 L63.14,116.71 L65.25,116.76 L67.36,116.80 L69.47,116.83 L71.58,116.87 L73.70,116.89 L75.81,116.91 L77.92,116.92 L80.03,116.92 L82.14,116.91 L84.26,116.89 L86.37,116.85 L88.48,116.80 L90.59,116.73 L92.70,116.64 L94.82,116.52 L96.93,116.38 L99.04,116.19 L101.15,115.96 L103.26,115.68 L105.38,115.34 L107.49,114.91 L109.60,114.39 L111.71,113.75 L113.82,112.96 L115.94,111.97 L118.05,110.74 L120.16,109.19 L122.27,107.23 L124.38,104.74 L126.50,101.57 L128.61,97.53 L130.72,92.45 L132.83,86.19 L134.94,78.84 L137.06,70.95 L139.17,63.75 L141.28,59.06 L143.39,58.48 L145.50,62.24 L147.62,69.08 L149.73,77.12 L151.84,84.90 L153.95,91.70 L156.06,97.32 L158.18,101.84 L160.29,105.44 L162.40,108.30 L164.51,110.59 L166.62,112.44 L168.74,113.95 L170.85,115.19 L172.96,116.22 L175.07,117.10 L177.18,117.84 L179.30,118.48 L181.41,119.03 L183.52,119.52 L185.63,119.95 L187.74,120.33 L189.86,120.68 L191.97,120.99 L194.08,121.28 L196.19,121.54 L198.30,121.79 L200.42,122.01 L202.53,122.23 L204.64,122.43 L206.75,122.62 L208.86,122.80 L210.98,122.97 L213.09,123.13 L215.20,123.29 L217.31,123.45 L219.42,123.59 L221.54,123.74 L223.65,123.87 L225.76,124.01 L227.87,124.14 L229.98,124.27 L232.10,124.40 L234.21,124.52 L236.32,124.64 L238.43,124.76 L240.54,124.88 L242.66,125.00 L244.77,125.11 L246.88,125.23 L248.99,125.34 L251.10,125.45 L253.22,125.56 L255.33,125.67 L257.44,125.78 L259.55,125.89 L261.66,125.99 L263.78,126.10 L265.89,126.20 L268.00,126.31 L270.11,126.41 L272.22,126.52 L274.34,126.62 L276.45,126.72 L278.56,126.82 L280.67,126.92 L282.78,127.03 L284.90,127.13 L287.01,127.23 L289.12,127.33 L291.23,127.43 L293.34,127.53 L295.46,127.63 L297.57,127.73 L299.68,127.83 L301.79,127.92 L303.90,128.02 L306.02,128.12 L308.13,128.22 L310.24,128.32 L312.35,128.42 L314.46,128.51 L316.58,128.61 L318.69,128.71 L320.80,128.81 L322.91,128.90 L325.02,129.00 L327.14,129.10 L329.25,129.19 L331.36,129.29 L333.47,129.39 L335.58,129.48 L337.70,129.58 L339.81,129.68 L341.92,129.77 L344.03,129.87 L346.14,129.96 L348.26,130.06 L350.37,130.16 L352.48,130.25 L354.59,130.35 L356.70,130.44 L358.82,130.54 L360.93,130.63 L363.04,130.73 L365.15,130.83 L367.26,130.92 L369.38,131.02 L371.49,131.11 L373.60,131.21 L375.71,131.30 L377.82,131.40 L379.94,131.49 L382.05,131.59 L384.16,131.68 L386.27,131.78 L388.38,131.87 L390.50,131.97 L392.61,132.06 L394.72,132.16 L396.83,132.25 L398.94,132.35 L401.06,132.44 L403.17,132.54 L405.28,132.63 L407.39,132.73 L409.50,132.82 L411.62,132.92 L413.73,133.01 L415.84,133.11 L417.95,133.20 L420.06,133.30 L422.18,133.39 L424.29,133.48 L426.40,133.58 L428.51,133.67 L430.62,133.77 L432.74,133.86 L434.85,133.96 L436.96,134.05 L439.07,134.15 L441.18,134.24 L443.30,134.34 L445.41,134.43 L447.52,134.52 L449.63,134.62 L451.74,134.71 L453.86,134.81 L455.97,134.90 L458.08,135.00 L460.19,135.09 L462.30,135.19 L464.42,135.28 L466.53,135.37 L468.64,135.47 L470.75,135.56 L472.86,135.66 L474.98,135.75 L477.09,135.85 L479.20,135.94" stroke="#fff" stroke-width="0.9" stroke-opacity="0.55" stroke-dasharray="1,1.3"/>
<path d="M56.80,121.36 L58.91,121.41 L61.02,121.45 L63.14,121.50 L65.25,121.54 L67.36,121.59 L69.47,121.63 L71.58,121.67 L73.70,121.70 L75.81,121.74 L77.92,121.77 L80.03,121.80 L82.14,121.83 L84.26,121.85 L86.37,121.86 L88.48,121.88 L90.59,121.89 L92.70,121.89 L94.82,121.88 L96.93,121.87 L99.04,121.85 L101.15,121.81 L103.26,121.77 L105.38,121.71 L107.49,121.63 L109.60,121.53 L111.71,121.41 L113.82,121.26 L115.94,121.08 L118.05,120.85 L120.16,120.58 L122.27,120.24 L124.38,119.82 L126.50,119.31 L128.61,118.67 L130.72,117.87 L132.83,116.86 L134.94,115.57 L137.06,113.93 L139.17,111.79 L141.28,108.99 L143.39,105.29 L145.50,100.41 L147.62,94.02 L149.73,85.90 L151.84,76.26 L153.95,66.32 L156.06,58.69 L158.18,56.45 L160.29,60.69 L162.40,69.49 L164.51,79.68 L166.62,89.07 L168.74,96.79 L170.85,102.82 L172.96,107.44 L175.07,110.97 L177.18,113.68 L179.30,115.79 L181.41,117.45 L183.52,118.77 L185.63,119.85 L187.74,120.72 L189.86,121.45 L191.97,122.07 L194.08,122.59 L196.19,123.04 L198.30,123.43 L200.42,123.77 L202.53,124.07 L204.64,124.34 L206.75,124.59 L208.86,124.81 L210.98,125.01 L213.09,125.20 L215.20,125.37 L217.31,125.53 L219.42,125.68 L221.54,125.82 L223.65,125.96 L225.76,126.08 L227.87,126.21 L229.98,126.32 L232.10,126.43 L234.21,126.54 L236.32,126.65 L238.43,126.75 L240.54,126.84 L242.66,126.94 L244.77,127.03 L246.88,127.12 L248.99,127.21 L251.10,127.30 L253.22,127.39 L255.33,127.47 L257.44,127.55 L259.55,127.63 L261.66,127.72 L263.78,127.80 L265.89,127.87 L268.00,127.95 L270.11,128.03 L272.22,128.11 L274.34,128.18 L276.45,128.26 L278.56,128.33 L280.67,128.41 L282.78,128.48 L284.90,128.55 L287.01,128.63 L289.12,128.70 L291.23,128.77 L293.34,128.84 L295.46,128.91 L297.57,128.98 L299.68,129.06 L301.79,129.13 L303.90,129.20 L306.02,129.27 L308.13,129.34 L310.24,129.41 L312.35,129.48 L314.46,129.54 L316.58,129.61 L318.69,129.68 L320.80,129.75 L322.91,129.82 L325.02,129.89 L327.14,129.96 L329.25,130.03 L331.36,130.09 L333.47,130.16 L335.58,130.23 L337.70,130.30 L339.81,130.37 L341.92,130.43 L344.03,130.50 L346.14,130.57 L348.26,130.64 L350.37,130.70 L352.48,130.77 L354.59,130.84 L356.70,130.90 L358.82,130.97 L360.93,131.04 L363.04,131.11 L365.15,131.17 L367.26,131.24 L369.38,131.31 L371.49,131.37 L373.60,131.44 L375.71,131.51 L377.82,131.57 L379.94,131.64 L382.05,131.71 L384.16,131.77 L386.27,131.84 L388.38,131.91 L390.50,131.97 L392.61,132.04 L394.72,132.10 L396.83,132.17 L398.94,132.24 L401.06,132.30 L403.17,132.37 L405.28,132.44 L407.39,132.50 L409.50,132.57 L411.62,132.63 L413.73,132.70 L415.84,132.77 L417.95,132.83 L420.06,132.90 L422.18,132.96 L424.29,133.03 L426.40,133.10 L428.51,133.16 L430.62,133.23 L432.74,133.29 L434.85,133.36 L436.96,133.43 L439.07,133.49 L441.18,133.56 L443.30,133.62 L445.41,133.69 L447.52,133.76 L449.63,133.82 L451.74,133.89 L453.86,133.95 L455.97,134.02 L458.08,134.08 L460.19,134.15 L462.30,134.22 L464.42,134.28 L466.53,134.35 L468.64,134.41 L470.75,134.48 L472.86,134.55 L474.98,134.61 L477.09,134.68 L479.20,134.74" stroke="#98a3d6" stroke-width="3.2"/>
<path d="M56.80,121.36 L58.91,121.41 L61.02,121.45 L63.14,121.50 L65.25,121.54 L67.36,121.59 L69.47,121.63 L71.58,121.67 L73.70,121.70 L75.81,121.74 L77.92,121.77 L80.03,121.80 L82.14,121.83 L84.26,121.85 L86.37,121.86 L88.48,121.88 L90.59,121.89 L92.70,121.89 L94.82,121.88 L96.93,121.87 L99.04,121.85 L101.15,121.81 L103.26,121.77 L105.38,121.71 L107.49,121.63 L109.60,121.53 L111.71,121.41 L113.82,121.26 L115.94,121.08 L118.05,120.85 L120.16,120.58 L122.27,120.24 L124.38,119.82 L126.50,119.31 L128.61,118.67 L130.72,117.87 L132.83,116.86 L134.94,115.57 L137.06,113.93 L139.17,111.79 L141.28,108.99 L143.39,105.29 L145.50,100.41 L147.62,94.02 L149.73,85.90 L151.84,76.26 L153.95,66.32 L156.06,58.69 L158.18,56.45 L160.29,60.69 L162.40,69.49 L164.51,79.68 L166.62,89.07 L168.74,96.79 L170.85,102.82 L172.96,107.44 L175.07,110.97 L177.18,113.68 L179.30,115.79 L181.41,117.45 L183.52,118.77 L185.63,119.85 L187.74,120.72 L189.86,121.45 L191.97,122.07 L194.08,122.59 L196.19,123.04 L198.30,123.43 L200.42,123.77 L202.53,124.07 L204.64,124.34 L206.75,124.59 L208.86,124.81 L210.98,125.01 L213.09,125.20 L215.20,125.37 L217.31,125.53 L219.42,125.68 L221.54,125.82 L223.65,125.96 L225.76,126.08 L227.87,126.21 L229.98,126.32 L232.10,126.43 L234.21,126.54 L236.32,126.65 L238.43,126.75 L240.54,126.84 L242.66,126.94 L244.77,127.03 L246.88,127.12 L248.99,127.21 L251.10,127.30 L253.22,127.39 L255.33,127.47 L257.44,127.55 L259.55,127.63 L261.66,127.72 L263.78,127.80 L265.89,127.87 L268.00,127.95 L270.11,128.03 L272.22,128.11 L274.34,128.18 L276.45,128.26 L278.56,128.33 L280.67,128.41 L282.78,128.48 L284.90,128.55 L287.01,128.63 L289.12,128.70 L291.23,128.77 L293.34,128.84 L295.46,128.91 L297.57,128.98 L299.68,129.06 L301.79,129.13 L303.90,129.20 L306.02,129.27 L308.13,129.34 L310.24,129.41 L312.35,129.48 L314.46,129.54 L316.58,129.61 L318.69,129.68 L320.80,129.75 L322.91,129.82 L325.02,129.89 L327.14,129.96 L329.25,130.03 L331.36,130.09 L333.47,130.16 L335.58,130.23 L337.70,130.30 L339.81,130.37 L341.92,130.43 L344.03,130.50 L346.14,130.57 L348.26,130.64 L350.37,130.70 L352.48,130.77 L354.59,130.84 L356.70,130.90 L358.82,130.97 L360.93,131.04 L363.04,131.11 L365.15,131.17 L367.26,131.24 L369.38,131.31 L371.49,131.37 L373.60,131.44 L375.71,131.51 L377.82,131.57 L379.94,131.64 L382.05,131.71 L384.16,131.77 L386.27,131.84 L388.38,131.91 L390.50,131.97 L392.61,132.04 L394.72,132.10 L396.83,132.17 L398.94,132.24 L401.06,132.30 L403.17,132.37 L405.28,132.44 L407.39,132.50 L409.50,132.57 L411.62,132.63 L413.73,132.70 L415.84,132.77 L417.95,132.83 L420.06,132.90 L422.18,132.96 L424.29,133.03 L426.40,133.10 L428.51,133.16 L430.62,133.23 L432.74,133.29 L434.85,133.36 L436.96,133.43 L439.07,133.49 L441.18,133.56 L443.30,133.62 L445.41,133.69 L447.52,133.76 L449.63,133.82 L451.74,133.89 L453.86,133.95 L455.97,134.02 L458.08,134.08 L460.19,134.15 L462.30,134.22 L464.42,134.28 L466.53,134.35 L468.64,134.41 L470.75,134.48 L472.86,134.55 L474.98,134.61 L477.09,134.68 L479.20,134.74" stroke="#fff" stroke-width="0.9" stroke-opacity="0.55" stroke-dasharray="1,1.3"/>
<path d="M56.80,114.61 L58.91,114.67 L61.02,114.74 L63.14,114.80 L65.25,114.86 L67.36,114.92 L69.47,114.98 L71.58,115.03 L73.70,115.09 L75.81,115.15 L77.92,115.20 L80.03,115.25 L82.14,115.30 L84.26,115.35 L86.37,115.40 L88.48,115.45 L90.59,115.49 L92.70,115.53 L94.82,115.57 L96.93,115.61 L99.04,115.64 L101.15,115.67 L103.26,115.70 L105.38,115.72 L107.49,115.74 L109.60,115.75 L111.71,115.76 L113.82,115.76 L115.94,115.76 L118.05,115.74 L120.16,115.72 L122.27,115.69 L124.38,115.64 L126.50,115.58 L128.61,115.51 L130.72,115.42 L132.83,115.31 L134.94,115.18 L137.06,115.02 L139.17,114.83 L141.28,114.60 L143.39,114.32 L145.50,114.00 L147.62,113.61 L149.73,113.16 L151.84,112.61 L153.95,111.95 L156.06,111.16 L158.18,110.22 L160.29,109.08 L162.40,107.70 L164.51,106.04 L166.62,104.03 L168.74,101.61 L170.85,98.73 L172.96,95.34 L175.07,91.47 L177.18,87.24 L179.30,82.93 L181.41,79.00 L183.52,76.07 L185.63,74.73 L187.74,75.29 L189.86,77.63 L191.97,81.29 L194.08,85.63 L196.19,90.10 L198.30,94.33 L200.42,98.11 L202.53,101.40 L204.64,104.19 L206.75,106.55 L208.86,108.53 L210.98,110.19 L213.09,111.59 L215.20,112.78 L217.31,113.79 L219.42,114.66 L221.54,115.41 L223.65,116.06 L225.76,116.63 L227.87,117.14 L229.98,117.58 L232.10,117.98 L234.21,118.34 L236.32,118.67 L238.43,118.96 L240.54,119.24 L242.66,119.49 L244.77,119.72 L246.88,119.93 L248.99,120.13 L251.10,120.32 L253.22,120.50 L255.33,120.67 L257.44,120.83 L259.55,120.98 L261.66,121.13 L263.78,121.27 L265.89,121.40 L268.00,121.53 L270.11,121.66 L272.22,121.78 L274.34,121.90 L276.45,122.01 L278.56,122.13 L280.67,122.24 L282.78,122.34 L284.90,122.45 L287.01,122.55 L289.12,122.65 L291.23,122.75 L293.34,122.85 L295.46,122.95 L297.57,123.04 L299.68,123.14 L301.79,123.23 L303.90,123.32 L306.02,123.41 L308.13,123.50 L310.24,123.59 L312.35,123.68 L314.46,123.77 L316.58,123.86 L318.69,123.94 L320.80,124.03 L322.91,124.11 L325.02,124.20 L327.14,124.28 L329.25,124.37 L331.36,124.45 L333.47,124.53 L335.58,124.62 L337.70,124.70 L339.81,124.78 L341.92,124.86 L344.03,124.95 L346.14,125.03 L348.26,125.11 L350.37,125.19 L352.48,125.27 L354.59,125.35 L356.70,125.43 L358.82,125.51 L360.93,125.59 L363.04,125.67 L365.15,125.75 L367.26,125.83 L369.38,125.91 L371.49,125.99 L373.60,126.06 L375.71,126.14 L377.82,126.22 L379.94,126.30 L382.05,126.38 L384.16,126.46 L386.27,126.53 L388.38,126.61 L390.50,126.69 L392.61,126.77 L394.72,126.85 L396.83,126.92 L398.94,127.00 L401.06,127.08 L403.17,127.16 L405.28,127.23 L407.39,127.31 L409.50,127.39 L411.62,127.46 L413.73,127.54 L415.84,127.62 L417.95,127.70 L420.06,127.77 L422.18,127.85 L424.29,127.93 L426.40,128.00 L428.51,128.08 L430.62,128.16 L432.74,128.23 L434.85,128.31 L436.96,128.39 L439.07,128.46 L441.18,128.54 L443.30,128.61 L445.41,128.69 L447.52,128.77 L449.63,128.84 L451.74,128.92 L453.86,129.00 L455.97,129.07 L458.08,129.15 L460.19,129.23 L462.30,129.30 L464.42,129.38 L466.53,129.45 L468.64,129.53 L470.75,129.61 L472.86,129.68 L474.98,129.76 L477.09,129.83 L479.20,129.91" stroke="#e87bb6" stroke-width="3.2"/>
<path d="M56.80,114.61 L58.91,114.67 L61.02,114.74 L63.14,114.80 L65.25,114.86 L67.36,114.92 L69.47,114.98 L71.58,115.03 L73.70,115.09 L75.81,115.15 L77.92,115.20 L80.03,115.25 L82.14,115.30 L84.26,115.35 L86.37,115.40 L88.48,115.45 L90.59,115.49 L92.70,115.53 L94.82,115.57 L96.93,115.61 L99.04,115.64 L101.15,115.67 L103.26,115.70 L105.38,115.72 L107.49,115.74 L109.60,115.75 L111.71,115.76 L113.82,115.76 L115.94,115.76 L118.05,115.74 L120.16,115.72 L122.27,115.69 L124.38,115.64 L126.50,115.58 L128.61,115.51 L130.72,115.42 L132.83,115.31 L134.94,115.18 L137.06,115.02 L139.17,114.83 L141.28,114.60 L143.39,114.32 L145.50,114.00 L147.62,113.61 L149.73,113.16 L151.84,112.61 L153.95,111.95 L156.06,111.16 L158.18,110.22 L160.29,109.08 L162.40,107.70 L164.51,106.04 L166.62,104.03 L168.74,101.61 L170.85,98.73 L172.96,95.34 L175.07,91.47 L177.18,87.24 L179.30,82.93 L181.41,79.00 L183.52,76.07 L185.63,74.73 L187.74,75.29 L189.86,77.63 L191.97,81.29 L194.08,85.63 L196.19,90.10 L198.30,94.33 L200.42,98.11 L202.53,101.40 L204.64,104.19 L206.75,106.55 L208.86,108.53 L210.98,110.19 L213.09,111.59 L215.20,112.78 L217.31,113.79 L219.42,114.66 L221.54,115.41 L223.65,116.06 L225.76,116.63 L227.87,117.14 L229.98,117.58 L232.10,117.98 L234.21,118.34 L236.32,118.67 L238.43,118.96 L240.54,119.24 L242.66,119.49 L244.77,119.72 L246.88,119.93 L248.99,120.13 L251.10,120.32 L253.22,120.50 L255.33,120.67 L257.44,120.83 L259.55,120.98 L261.66,121.13 L263.78,121.27 L265.89,121.40 L268.00,121.53 L270.11,121.66 L272.22,121.78 L274.34,121.90 L276.45,122.01 L278.56,122.13 L280.67,122.24 L282.78,122.34 L284.90,122.45 L287.01,122.55 L289.12,122.65 L291.23,122.75 L293.34,122.85 L295.46,122.95 L297.57,123.04 L299.68,123.14 L301.79,123.23 L303.90,123.32 L306.02,123.41 L308.13,123.50 L310.24,123.59 L312.35,123.68 L314.46,123.77 L316.58,123.86 L318.69,123.94 L320.80,124.03 L322.91,124.11 L325.02,124.20 L327.14,124.28 L329.25,124.37 L331.36,124.45 L333.47,124.53 L335.58,124.62 L337.70,124.70 L339.81,124.78 L341.92,124.86 L344.03,124.95 L346.14,125.03 L348.26,125.11 L350.37,125.19 L352.48,125.27 L354.59,125.35 L356.70,125.43 L358.82,125.51 L360.93,125.59 L363.04,125.67 L365.15,125.75 L367.26,125.83 L369.38,125.91 L371.49,125.99 L373.60,126.06 L375.71,126.14 L377.82,126.22 L379.94,126.30 L382.05,126.38 L384.16,126.46 L386.27,126.53 L388.38,126.61 L390.50,126.69 L392.61,126.77 L394.72,126.85 L396.83,126.92 L398.94,127.00 L401.06,127.08 L403.17,127.16 L405.28,127.23 L407.39,127.31 L409.50,127.39 L411.62,127.46 L413.73,127.54 L415.84,127.62 L417.95,127.70 L420.06,127.77 L422.18,127.85 L424.29,127.93 L426.40,128.00 L428.51,128.08 L430.62,128.16 L432.74,128.23 L434.85,128.31 L436.96,128.39 L439.07,128.46 L441.18,128.54 L443.30,128.61 L445.41,128.69 L447.52,128.77 L449.63,128.84 L451.74,128.92 L453.86,129.00 L455.97,129.07 L458.08,129.15 L460.19,129.23 L462.30,129.30 L464.42,129.38 L466.53,129.45 L468.64,129.53 L470.75,129.61 L472.86,129.68 L474.98,129.76 L477.09,129.83 L479.20,129.91" stroke="#fff" stroke-width="0.9" stroke-opacity="0.55" stroke-dasharray="1,1.3"/>
<path d="M56.80,112.36 L58.91,112.42 L61.02,112.49 L63.14,112.56 L65.25,112.62 L67.36,112.69 L69.47,112.75 L71.58,112.82 L73.70,112.88 L75.81,112.94 L77.92,113.01 L80.03,113.07 L82.14,113.13 L84.26,113.18 L86.37,113.24 L88.48,113.30 L90.59,113.35 L92.70,113.41 L94.82,113.46 L96.93,113.51 L99.04,113.56 L101.15,113.60 L103.26,113.65 L105.38,113.69 L107.49,113.73 L109.60,113.76 L111.71,113.80 L113.82,113.83 L115.94,113.85 L118.05,113.88 L120.16,113.89 L122.27,113.91 L124.38,113.91 L126.50,113.91 L128.61,113.91 L130.72,113.89 L132.83,113.87 L134.94,113.84 L137.06,113.80 L139.17,113.74 L141.28,113.68 L143.39,113.59 L145.50,113.49 L147.62,113.37 L149.73,113.23 L151.84,113.06 L153.95,112.86 L156.06,112.63 L158.18,112.35 L160.29,112.03 L162.40,111.65 L164.51,111.20 L166.62,110.68 L168.74,110.06 L170.85,109.33 L172.96,108.48 L175.07,107.46 L177.18,106.26 L179.30,104.83 L181.41,103.13 L183.52,101.11 L185.63,98.72 L187.74,95.91 L189.86,92.64 L191.97,88.91 L194.08,84.79 L196.19,80.44 L198.30,76.15 L200.42,72.38 L202.53,69.64 L204.64,68.41 L206.75,68.94 L208.86,71.12 L210.98,74.60 L213.09,78.85 L215.20,83.38 L217.31,87.80 L219.42,91.90 L221.54,95.55 L223.65,98.75 L225.76,101.50 L227.87,103.85 L229.98,105.87 L232.10,107.58 L234.21,109.05 L236.32,110.32 L238.43,111.41 L240.54,112.35 L242.66,113.18 L244.77,113.91 L246.88,114.55 L248.99,115.12 L251.10,115.62 L253.22,116.08 L255.33,116.49 L257.44,116.87 L259.55,117.21 L261.66,117.52 L263.78,117.81 L265.89,118.08 L268.00,118.33 L270.11,118.56 L272.22,118.78 L274.34,118.99 L276.45,119.18 L278.56,119.36 L280.67,119.54 L282.78,119.71 L284.90,119.87 L287.01,120.02 L289.12,120.17 L291.23,120.31 L293.34,120.45 L295.46,120.58 L297.57,120.71 L299.68,120.84 L301.79,120.96 L303.90,121.08 L306.02,121.20 L308.13,121.31 L310.24,121.43 L312.35,121.54 L314.46,121.65 L316.58,121.75 L318.69,121.86 L320.80,121.96 L322.91,122.06 L325.02,122.16 L327.14,122.26 L329.25,122.36 L331.36,122.46 L333.47,122.56 L335.58,122.65 L337.70,122.75 L339.81,122.84 L341.92,122.93 L344.03,123.03 L346.14,123.12 L348.26,123.21 L350.37,123.30 L352.48,123.39 L354.59,123.48 L356.70,123.57 L358.82,123.66 L360.93,123.74 L363.04,123.83 L365.15,123.92 L367.26,124.01 L369.38,124.09 L371.49,124.18 L373.60,124.27 L375.71,124.35 L377.82,124.44 L379.94,124.52 L382.05,124.61 L384.16,124.69 L386.27,124.78 L388.38,124.86 L390.50,124.95 L392.61,125.03 L394.72,125.11 L396.83,125.20 L398.94,125.28 L401.06,125.36 L403.17,125.45 L405.28,125.53 L407.39,125.61 L409.50,125.70 L411.62,125.78 L413.73,125.86 L415.84,125.94 L417.95,126.03 L420.06,126.11 L422.18,126.19 L424.29,126.27 L426.40,126.35 L428.51,126.43 L430.62,126.52 L432.74,126.60 L434.85,126.68 L436.96,126.76 L439.07,126.84 L441.18,126.92 L443.30,127.00 L445.41,127.09 L447.52,127.17 L449.63,127.25 L451.74,127.33 L453.86,127.41 L455.97,127.49 L458.08,127.57 L460.19,127.65 L462.30,127.73 L464.42,127.81 L466.53,127.89 L468.64,127.97 L470.75,128.05 L472.86,128.14 L474.98,128.22 L477.09,128.30 L479.20,128.38" stroke="#9ccf5a" stroke-width="3.2"/>
<path d="M56.80,112.36 L58.91,112.42 L61.02,112.49 L63.14,112.56 L65.25,112.62 L67.36,112.69 L69.47,112.75 L71.58,112.82 L73.70,112.88 L75.81,112.94 L77.92,113.01 L80.03,113.07 L82.14,113.13 L84.26,113.18 L86.37,113.24 L88.48,113.30 L90.59,113.35 L92.70,113.41 L94.82,113.46 L96.93,113.51 L99.04,113.56 L101.15,113.60 L103.26,113.65 L105.38,113.69 L107.49,113.73 L109.60,113.76 L111.71,113.80 L113.82,113.83 L115.94,113.85 L118.05,113.88 L120.16,113.89 L122.27,113.91 L124.38,113.91 L126.50,113.91 L128.61,113.91 L130.72,113.89 L132.83,113.87 L134.94,113.84 L137.06,113.80 L139.17,113.74 L141.28,113.68 L143.39,113.59 L145.50,113.49 L147.62,113.37 L149.73,113.23 L151.84,113.06 L153.95,112.86 L156.06,112.63 L158.18,112.35 L160.29,112.03 L162.40,111.65 L164.51,111.20 L166.62,110.68 L168.74,110.06 L170.85,109.33 L172.96,108.48 L175.07,107.46 L177.18,106.26 L179.30,104.83 L181.41,103.13 L183.52,101.11 L185.63,98.72 L187.74,95.91 L189.86,92.64 L191.97,88.91 L194.08,84.79 L196.19,80.44 L198.30,76.15 L200.42,72.38 L202.53,69.64 L204.64,68.41 L206.75,68.94 L208.86,71.12 L210.98,74.60 L213.09,78.85 L215.20,83.38 L217.31,87.80 L219.42,91.90 L221.54,95.55 L223.65,98.75 L225.76,101.50 L227.87,103.85 L229.98,105.87 L232.10,107.58 L234.21,109.05 L236.32,110.32 L238.43,111.41 L240.54,112.35 L242.66,113.18 L244.77,113.91 L246.88,114.55 L248.99,115.12 L251.10,115.62 L253.22,116.08 L255.33,116.49 L257.44,116.87 L259.55,117.21 L261.66,117.52 L263.78,117.81 L265.89,118.08 L268.00,118.33 L270.11,118.56 L272.22,118.78 L274.34,118.99 L276.45,119.18 L278.56,119.36 L280.67,119.54 L282.78,119.71 L284.90,119.87 L287.01,120.02 L289.12,120.17 L291.23,120.31 L293.34,120.45 L295.46,120.58 L297.57,120.71 L299.68,120.84 L301.79,120.96 L303.90,121.08 L306.02,121.20 L308.13,121.31 L310.24,121.43 L312.35,121.54 L314.46,121.65 L316.58,121.75 L318.69,121.86 L320.80,121.96 L322.91,122.06 L325.02,122.16 L327.14,122.26 L329.25,122.36 L331.36,122.46 L333.47,122.56 L335.58,122.65 L337.70,122.75 L339.81,122.84 L341.92,122.93 L344.03,123.03 L346.14,123.12 L348.26,123.21 L350.37,123.30 L352.48,123.39 L354.59,123.48 L356.70,123.57 L358.82,123.66 L360.93,123.74 L363.04,123.83 L365.15,123.92 L367.26,124.01 L369.38,124.09 L371.49,124.18 L373.60,124.27 L375.71,124.35 L377.82,124.44 L379.94,124.52 L382.05,124.61 L384.16,124.69 L386.27,124.78 L388.38,124.86 L390.50,124.95 L392.61,125.03 L394.72,125.11 L396.83,125.20 L398.94,125.28 L401.06,125.36 L403.17,125.45 L405.28,125.53 L407.39,125.61 L409.50,125.70 L411.62,125.78 L413.73,125.86 L415.84,125.94 L417.95,126.03 L420.06,126.11 L422.18,126.19 L424.29,126.27 L426.40,126.35 L428.51,126.43 L430.62,126.52 L432.74,126.60 L434.85,126.68 L436.96,126.76 L439.07,126.84 L441.18,126.92 L443.30,127.00 L445.41,127.09 L447.52,127.17 L449.63,127.25 L451.74,127.33 L453.86,127.41 L455.97,127.49 L458.08,127.57 L460.19,127.65 L462.30,127.73 L464.42,127.81 L466.53,127.89 L468.64,127.97 L470.75,128.05 L472.86,128.14 L474.98,128.22 L477.09,128.30 L479.20,128.38" stroke="#fff" stroke-width="0.9" stroke-opacity="0.55" stroke-dasharray="1,1.3"/>
<path d="M56.80,105.78 L58.91,105.88 L61.02,105.98 L63.14,106.09 L65.25,106.19 L67.36,106.30 L69.47,106.40 L71.58,106.50 L73.70,106.61 L75.81,106.71 L77.92,106.81 L80.03,106.91 L82.14,107.01 L84.26,107.12 L86.37,107.22 L88.48,107.32 L90.59,107.42 L92.70,107.52 L94.82,107.62 L96.93,107.71 L99.04,107.81 L101.15,107.91 L103.26,108.01 L105.38,108.10 L107.49,108.20 L109.60,108.29 L111.71,108.39 L113.82,108.48 L115.94,108.57 L118.05,108.66 L120.16,108.75 L122.27,108.84 L124.38,108.93 L126.50,109.01 L128.61,109.09 L130.72,109.18 L132.83,109.26 L134.94,109.33 L137.06,109.41 L139.17,109.48 L141.28,109.55 L143.39,109.62 L145.50,109.68 L147.62,109.74 L149.73,109.79 L151.84,109.84 L153.95,109.88 L156.06,109.92 L158.18,109.95 L160.29,109.97 L162.40,109.98 L164.51,109.98 L166.62,109.96 L168.74,109.94 L170.85,109.90 L172.96,109.83 L175.07,109.75 L177.18,109.64 L179.30,109.49 L181.41,109.31 L183.52,109.09 L185.63,108.81 L187.74,108.47 L189.86,108.05 L191.97,107.53 L194.08,106.88 L196.19,106.09 L198.30,105.10 L200.42,103.86 L202.53,102.30 L204.64,100.33 L206.75,97.81 L208.86,94.59 L210.98,90.44 L213.09,85.14 L215.20,78.42 L217.31,70.17 L219.42,60.64 L221.54,50.83 L223.65,42.75 L225.76,38.89 L227.87,40.75 L229.98,47.64 L232.10,57.27 L234.21,67.30 L236.32,76.34 L238.43,83.89 L240.54,89.96 L242.66,94.75 L244.77,98.53 L246.88,101.53 L248.99,103.92 L251.10,105.85 L253.22,107.42 L255.33,108.72 L257.44,109.81 L259.55,110.73 L261.66,111.51 L263.78,112.19 L265.89,112.78 L268.00,113.30 L270.11,113.76 L272.22,114.18 L274.34,114.55 L276.45,114.89 L278.56,115.20 L280.67,115.49 L282.78,115.76 L284.90,116.01 L287.01,116.25 L289.12,116.47 L291.23,116.68 L293.34,116.88 L295.46,117.07 L297.57,117.26 L299.68,117.43 L301.79,117.61 L303.90,117.77 L306.02,117.93 L308.13,118.09 L310.24,118.24 L312.35,118.39 L314.46,118.54 L316.58,118.68 L318.69,118.83 L320.80,118.97 L322.91,119.10 L325.02,119.24 L327.14,119.37 L329.25,119.50 L331.36,119.63 L333.47,119.76 L335.58,119.89 L337.70,120.02 L339.81,120.14 L341.92,120.27 L344.03,120.39 L346.14,120.51 L348.26,120.63 L350.37,120.75 L352.48,120.88 L354.59,121.00 L356.70,121.11 L358.82,121.23 L360.93,121.35 L363.04,121.47 L365.15,121.59 L367.26,121.70 L369.38,121.82 L371.49,121.94 L373.60,122.05 L375.71,122.17 L377.82,122.28 L379.94,122.40 L382.05,122.51 L384.16,122.63 L386.27,122.74 L388.38,122.86 L390.50,122.97 L392.61,123.08 L394.72,123.20 L396.83,123.31 L398.94,123.42 L401.06,123.54 L403.17,123.65 L405.28,123.76 L407.39,123.87 L409.50,123.99 L411.62,124.10 L413.73,124.21 L415.84,124.32 L417.95,124.43 L420.06,124.55 L422.18,124.66 L424.29,124.77 L426.40,124.88 L428.51,124.99 L430.62,125.10 L432.74,125.21 L434.85,125.33 L436.96,125.44 L439.07,125.55 L441.18,125.66 L443.30,125.77 L445.41,125.88 L447.52,125.99 L449.63,126.10 L451.74,126.21 L453.86,126.32 L455.97,126.43 L458.08,126.54 L460.19,126.65 L462.30,126.76 L464.42,126.88 L466.53,126.99 L468.64,127.10 L470.75,127.21 L472.86,127.32 L474.98,127.43 L477.09,127.54 L479.20,127.65" stroke="#62c79c" stroke-width="3.2"/>
<path d="M56.80,105.78 L58.91,105.88 L61.02,105.98 L63.14,106.09 L65.25,106.19 L67.36,106.30 L69.47,106.40 L71.58,106.50 L73.70,106.61 L75.81,106.71 L77.92,106.81 L80.03,106.91 L82.14,107.01 L84.26,107.12 L86.37,107.22 L88.48,107.32 L90.59,107.42 L92.70,107.52 L94.82,107.62 L96.93,107.71 L99.04,107.81 L101.15,107.91 L103.26,108.01 L105.38,108.10 L107.49,108.20 L109.60,108.29 L111.71,108.39 L113.82,108.48 L115.94,108.57 L118.05,108.66 L120.16,108.75 L122.27,108.84 L124.38,108.93 L126.50,109.01 L128.61,109.09 L130.72,109.18 L132.83,109.26 L134.94,109.33 L137.06,109.41 L139.17,109.48 L141.28,109.55 L143.39,109.62 L145.50,109.68 L147.62,109.74 L149.73,109.79 L151.84,109.84 L153.95,109.88 L156.06,109.92 L158.18,109.95 L160.29,109.97 L162.40,109.98 L164.51,109.98 L166.62,109.96 L168.74,109.94 L170.85,109.90 L172.96,109.83 L175.07,109.75 L177.18,109.64 L179.30,109.49 L181.41,109.31 L183.52,109.09 L185.63,108.81 L187.74,108.47 L189.86,108.05 L191.97,107.53 L194.08,106.88 L196.19,106.09 L198.30,105.10 L200.42,103.86 L202.53,102.30 L204.64,100.33 L206.75,97.81 L208.86,94.59 L210.98,90.44 L213.09,85.14 L215.20,78.42 L217.31,70.17 L219.42,60.64 L221.54,50.83 L223.65,42.75 L225.76,38.89 L227.87,40.75 L229.98,47.64 L232.10,57.27 L234.21,67.30 L236.32,76.34 L238.43,83.89 L240.54,89.96 L242.66,94.75 L244.77,98.53 L246.88,101.53 L248.99,103.92 L251.10,105.85 L253.22,107.42 L255.33,108.72 L257.44,109.81 L259.55,110.73 L261.66,111.51 L263.78,112.19 L265.89,112.78 L268.00,113.30 L270.11,113.76 L272.22,114.18 L274.34,114.55 L276.45,114.89 L278.56,115.20 L280.67,115.49 L282.78,115.76 L284.90,116.01 L287.01,116.25 L289.12,116.47 L291.23,116.68 L293.34,116.88 L295.46,117.07 L297.57,117.26 L299.68,117.43 L301.79,117.61 L303.90,117.77 L306.02,117.93 L308.13,118.09 L310.24,118.24 L312.35,118.39 L314.46,118.54 L316.58,118.68 L318.69,118.83 L320.80,118.97 L322.91,119.10 L325.02,119.24 L327.14,119.37 L329.25,119.50 L331.36,119.63 L333.47,119.76 L335.58,119.89 L337.70,120.02 L339.81,120.14 L341.92,120.27 L344.03,120.39 L346.14,120.51 L348.26,120.63 L350.37,120.75 L352.48,120.88 L354.59,121.00 L356.70,121.11 L358.82,121.23 L360.93,121.35 L363.04,121.47 L365.15,121.59 L367.26,121.70 L369.38,121.82 L371.49,121.94 L373.60,122.05 L375.71,122.17 L377.82,122.28 L379.94,122.40 L382.05,122.51 L384.16,122.63 L386.27,122.74 L388.38,122.86 L390.50,122.97 L392.61,123.08 L394.72,123.20 L396.83,123.31 L398.94,123.42 L401.06,123.54 L403.17,123.65 L405.28,123.76 L407.39,123.87 L409.50,123.99 L411.62,124.10 L413.73,124.21 L415.84,124.32 L417.95,124.43 L420.06,124.55 L422.18,124.66 L424.29,124.77 L426.40,124.88 L428.51,124.99 L430.62,125.10 L432.74,125.21 L434.85,125.33 L436.96,125.44 L439.07,125.55 L441.18,125.66 L443.30,125.77 L445.41,125.88 L447.52,125.99 L449.63,126.10 L451.74,126.21 L453.86,126.32 L455.97,126.43 L458.08,126.54 L460.19,126.65 L462.30,126.76 L464.42,126.88 L466.53,126.99 L468.64,127.10 L470.75,127.21 L472.86,127.32 L474.98,127.43 L477.09,127.54 L479.20,127.65" stroke="#fff" stroke-width="0.9" stroke-opacity="0.55" stroke-dasharray="1,1.3"/>
<path d="M56.80,120.81 L58.91,120.88 L61.02,120.94 L63.14,121.00 L65.25,121.07 L67.36,121.13 L69.47,121.19 L71.58,121.26 L73.70,121.32 L75.81,121.38 L77.92,121.44 L80.03,121.51 L82.14,121.57 L84.26,121.63 L86.37,121.69 L88.48,121.75 L90.59,121.81 L92.70,121.87 L94.82,121.93 L96.93,121.99 L99.04,122.05 L101.15,122.11 L103.26,122.16 L105.38,122.22 L107.49,122.28 L109.60,122.34 L111.71,122.39 L113.82,122.45 L115.94,122.50 L118.05,122.55 L120.16,122.61 L122.27,122.66 L124.38,122.71 L126.50,122.76 L128.61,122.80 L130.72,122.85 L132.83,122.90 L134.94,122.94 L137.06,122.98 L139.17,123.02 L141.28,123.06 L143.39,123.10 L145.50,123.13 L147.62,123.16 L149.73,123.19 L151.84,123.21 L153.95,123.23 L156.06,123.25 L158.18,123.26 L160.29,123.27 L162.40,123.27 L164.51,123.26 L166.62,123.25 L168.74,123.23 L170.85,123.20 L172.96,123.16 L175.07,123.10 L177.18,123.03 L179.30,122.94 L181.41,122.84 L183.52,122.70 L185.63,122.55 L187.74,122.36 L189.86,122.13 L191.97,121.85 L194.08,121.52 L196.19,121.11 L198.30,120.63 L200.42,120.03 L202.53,119.31 L204.64,118.42 L206.75,117.31 L208.86,115.93 L210.98,114.18 L213.09,111.96 L215.20,109.11 L217.31,105.41 L219.42,100.59 L221.54,94.30 L223.65,86.16 L225.76,75.95 L227.87,63.90 L229.98,51.42 L232.10,41.45 L234.21,37.59 L236.32,41.58 L238.43,51.69 L240.54,64.31 L242.66,76.49 L244.77,86.84 L246.88,95.11 L248.99,101.54 L251.10,106.49 L253.22,110.33 L255.33,113.31 L257.44,115.67 L259.55,117.55 L261.66,119.07 L263.78,120.31 L265.89,121.34 L268.00,122.20 L270.11,122.92 L272.22,123.55 L274.34,124.08 L276.45,124.55 L278.56,124.96 L280.67,125.33 L282.78,125.66 L284.90,125.95 L287.01,126.21 L289.12,126.46 L291.23,126.68 L293.34,126.88 L295.46,127.08 L297.57,127.25 L299.68,127.42 L301.79,127.58 L303.90,127.73 L306.02,127.87 L308.13,128.00 L310.24,128.13 L312.35,128.25 L314.46,128.37 L316.58,128.49 L318.69,128.60 L320.80,128.70 L322.91,128.81 L325.02,128.91 L327.14,129.01 L329.25,129.11 L331.36,129.20 L333.47,129.29 L335.58,129.39 L337.70,129.48 L339.81,129.56 L341.92,129.65 L344.03,129.74 L346.14,129.82 L348.26,129.91 L350.37,129.99 L352.48,130.07 L354.59,130.15 L356.70,130.23 L358.82,130.31 L360.93,130.39 L363.04,130.47 L365.15,130.55 L367.26,130.62 L369.38,130.70 L371.49,130.78 L373.60,130.85 L375.71,130.93 L377.82,131.00 L379.94,131.08 L382.05,131.15 L384.16,131.23 L386.27,131.30 L388.38,131.37 L390.50,131.45 L392.61,131.52 L394.72,131.59 L396.83,131.67 L398.94,131.74 L401.06,131.81 L403.17,131.88 L405.28,131.95 L407.39,132.03 L409.50,132.10 L411.62,132.17 L413.73,132.24 L415.84,132.31 L417.95,132.38 L420.06,132.45 L422.18,132.52 L424.29,132.59 L426.40,132.66 L428.51,132.73 L430.62,132.80 L432.74,132.87 L434.85,132.94 L436.96,133.01 L439.07,133.08 L441.18,133.15 L443.30,133.22 L445.41,133.29 L447.52,133.36 L449.63,133.43 L451.74,133.50 L453.86,133.57 L455.97,133.64 L458.08,133.71 L460.19,133.78 L462.30,133.85 L464.42,133.92 L466.53,133.99 L468.64,134.06 L470.75,134.13 L472.86,134.19 L474.98,134.26 L477.09,134.33 L479.20,134.40" stroke="#98a3d6" stroke-width="3.2"/>
<path d="M56.80,120.81 L58.91,120.88 L61.02,120.94 L63.14,121.00 L65.25,121.07 L67.36,121.13 L69.47,121.19 L71.58,121.26 L73.70,121.32 L75.81,121.38 L77.92,121.44 L80.03,121.51 L82.14,121.57 L84.26,121.63 L86.37,121.69 L88.48,121.75 L90.59,121.81 L92.70,121.87 L94.82,121.93 L96.93,121.99 L99.04,122.05 L101.15,122.11 L103.26,122.16 L105.38,122.22 L107.49,122.28 L109.60,122.34 L111.71,122.39 L113.82,122.45 L115.94,122.50 L118.05,122.55 L120.16,122.61 L122.27,122.66 L124.38,122.71 L126.50,122.76 L128.61,122.80 L130.72,122.85 L132.83,122.90 L134.94,122.94 L137.06,122.98 L139.17,123.02 L141.28,123.06 L143.39,123.10 L145.50,123.13 L147.62,123.16 L149.73,123.19 L151.84,123.21 L153.95,123.23 L156.06,123.25 L158.18,123.26 L160.29,123.27 L162.40,123.27 L164.51,123.26 L166.62,123.25 L168.74,123.23 L170.85,123.20 L172.96,123.16 L175.07,123.10 L177.18,123.03 L179.30,122.94 L181.41,122.84 L183.52,122.70 L185.63,122.55 L187.74,122.36 L189.86,122.13 L191.97,121.85 L194.08,121.52 L196.19,121.11 L198.30,120.63 L200.42,120.03 L202.53,119.31 L204.64,118.42 L206.75,117.31 L208.86,115.93 L210.98,114.18 L213.09,111.96 L215.20,109.11 L217.31,105.41 L219.42,100.59 L221.54,94.30 L223.65,86.16 L225.76,75.95 L227.87,63.90 L229.98,51.42 L232.10,41.45 L234.21,37.59 L236.32,41.58 L238.43,51.69 L240.54,64.31 L242.66,76.49 L244.77,86.84 L246.88,95.11 L248.99,101.54 L251.10,106.49 L253.22,110.33 L255.33,113.31 L257.44,115.67 L259.55,117.55 L261.66,119.07 L263.78,120.31 L265.89,121.34 L268.00,122.20 L270.11,122.92 L272.22,123.55 L274.34,124.08 L276.45,124.55 L278.56,124.96 L280.67,125.33 L282.78,125.66 L284.90,125.95 L287.01,126.21 L289.12,126.46 L291.23,126.68 L293.34,126.88 L295.46,127.08 L297.57,127.25 L299.68,127.42 L301.79,127.58 L303.90,127.73 L306.02,127.87 L308.13,128.00 L310.24,128.13 L312.35,128.25 L314.46,128.37 L316.58,128.49 L318.69,128.60 L320.80,128.70 L322.91,128.81 L325.02,128.91 L327.14,129.01 L329.25,129.11 L331.36,129.20 L333.47,129.29 L335.58,129.39 L337.70,129.48 L339.81,129.56 L341.92,129.65 L344.03,129.74 L346.14,129.82 L348.26,129.91 L350.37,129.99 L352.48,130.07 L354.59,130.15 L356.70,130.23 L358.82,130.31 L360.93,130.39 L363.04,130.47 L365.15,130.55 L367.26,130.62 L369.38,130.70 L371.49,130.78 L373.60,130.85 L375.71,130.93 L377.82,131.00 L379.94,131.08 L382.05,131.15 L384.16,131.23 L386.27,131.30 L388.38,131.37 L390.50,131.45 L392.61,131.52 L394.72,131.59 L396.83,131.67 L398.94,131.74 L401.06,131.81 L403.17,131.88 L405.28,131.95 L407.39,132.03 L409.50,132.10 L411.62,132.17 L413.73,132.24 L415.84,132.31 L417.95,132.38 L420.06,132.45 L422.18,132.52 L424.29,132.59 L426.40,132.66 L428.51,132.73 L430.62,132.80 L432.74,132.87 L434.85,132.94 L436.96,133.01 L439.07,133.08 L441.18,133.15 L443.30,133.22 L445.41,133.29 L447.52,133.36 L449.63,133.43 L451.74,133.50 L453.86,133.57 L455.97,133.64 L458.08,133.71 L460.19,133.78 L462.30,133.85 L464.42,133.92 L466.53,133.99 L468.64,134.06 L470.75,134.13 L472.86,134.19 L474.98,134.26 L477.09,134.33 L479.20,134.40" stroke="#fff" stroke-width="0.9" stroke-opacity="0.55" stroke-dasharray="1,1.3"/>
<path d="M56.80,117.08 L58.91,117.14 L61.02,117.21 L63.14,117.27 L65.25,117.33 L67.36,117.40 L69.47,117.46 L71.58,117.53 L73.70,117.59 L75.81,117.65 L77.92,117.72 L80.03,117.78 L82.14,117.84 L84.26,117.90 L86.37,117.97 L88.48,118.03 L90.59,118.09 L92.70,118.15 L94.82,118.21 L96.93,118.27 L99.04,118.34 L101.15,118.40 L103.26,118.46 L105.38,118.52 L107.49,118.58 L109.60,118.63 L111.71,118.69 L113.82,118.75 L115.94,118.81 L118.05,118.86 L120.16,118.92 L122.27,118.98 L124.38,119.03 L126.50,119.09 L128.61,119.14 L130.72,119.19 L132.83,119.24 L134.94,119.29 L137.06,119.34 L139.17,119.39 L141.28,119.44 L143.39,119.48 L145.50,119.53 L147.62,119.57 L149.73,119.61 L151.84,119.65 L153.95,119.68 L156.06,119.72 L158.18,119.75 L160.29,119.77 L162.40,119.80 L164.51,119.82 L166.62,119.84 L168.74,119.85 L170.85,119.85 L172.96,119.85 L175.07,119.85 L177.18,119.83 L179.30,119.81 L181.41,119.78 L183.52,119.73 L185.63,119.68 L187.74,119.60 L189.86,119.51 L191.97,119.40 L194.08,119.27 L196.19,119.11 L198.30,118.91 L200.42,118.67 L202.53,118.39 L204.64,118.05 L206.75,117.63 L208.86,117.12 L210.98,116.51 L213.09,115.75 L215.20,114.82 L217.31,113.67 L219.42,112.22 L221.54,110.38 L223.65,108.04 L225.76,105.02 L227.87,101.10 L229.98,95.98 L232.10,89.32 L234.21,80.75 L236.32,70.13 L238.43,57.99 L240.54,46.13 L242.66,37.81 L244.77,36.31 L246.88,42.35 L248.99,53.37 L251.10,65.84 L253.22,77.32 L255.33,86.85 L257.44,94.38 L259.55,100.20 L261.66,104.70 L263.78,108.18 L265.89,110.91 L268.00,113.06 L270.11,114.79 L272.22,116.19 L274.34,117.34 L276.45,118.29 L278.56,119.10 L280.67,119.78 L282.78,120.36 L284.90,120.87 L287.01,121.31 L289.12,121.70 L291.23,122.05 L293.34,122.36 L295.46,122.64 L297.57,122.89 L299.68,123.13 L301.79,123.34 L303.90,123.54 L306.02,123.72 L308.13,123.89 L310.24,124.06 L312.35,124.21 L314.46,124.35 L316.58,124.49 L318.69,124.62 L320.80,124.75 L322.91,124.87 L325.02,124.99 L327.14,125.10 L329.25,125.21 L331.36,125.31 L333.47,125.42 L335.58,125.52 L337.70,125.61 L339.81,125.71 L341.92,125.80 L344.03,125.89 L346.14,125.99 L348.26,126.07 L350.37,126.16 L352.48,126.25 L354.59,126.33 L356.70,126.42 L358.82,126.50 L360.93,126.58 L363.04,126.66 L365.15,126.74 L367.26,126.82 L369.38,126.90 L371.49,126.98 L373.60,127.06 L375.71,127.14 L377.82,127.21 L379.94,127.29 L382.05,127.37 L384.16,127.44 L386.27,127.52 L388.38,127.59 L390.50,127.67 L392.61,127.74 L394.72,127.82 L396.83,127.89 L398.94,127.96 L401.06,128.04 L403.17,128.11 L405.28,128.18 L407.39,128.25 L409.50,128.33 L411.62,128.40 L413.73,128.47 L415.84,128.54 L417.95,128.61 L420.06,128.68 L422.18,128.76 L424.29,128.83 L426.40,128.90 L428.51,128.97 L430.62,129.04 L432.74,129.11 L434.85,129.18 L436.96,129.25 L439.07,129.32 L441.18,129.39 L443.30,129.46 L445.41,129.53 L447.52,129.60 L449.63,129.67 L451.74,129.74 L453.86,129.81 L455.97,129.88 L458.08,129.95 L460.19,130.02 L462.30,130.09 L464.42,130.16 L466.53,130.23 L468.64,130.30 L470.75,130.37 L472.86,130.43 L474.98,130.50 L477.09,130.57 L479.20,130.64" stroke="#e87bb6" stroke-width="3.2"/>
<path d="M56.80,117.08 L58.91,117.14 L61.02,117.21 L63.14,117.27 L65.25,117.33 L67.36,117.40 L69.47,117.46 L71.58,117.53 L73.70,117.59 L75.81,117.65 L77.92,117.72 L80.03,117.78 L82.14,117.84 L84.26,117.90 L86.37,117.97 L88.48,118.03 L90.59,118.09 L92.70,118.15 L94.82,118.21 L96.93,118.27 L99.04,118.34 L101.15,118.40 L103.26,118.46 L105.38,118.52 L107.49,118.58 L109.60,118.63 L111.71,118.69 L113.82,118.75 L115.94,118.81 L118.05,118.86 L120.16,118.92 L122.27,118.98 L124.38,119.03 L126.50,119.09 L128.61,119.14 L130.72,119.19 L132.83,119.24 L134.94,119.29 L137.06,119.34 L139.17,119.39 L141.28,119.44 L143.39,119.48 L145.50,119.53 L147.62,119.57 L149.73,119.61 L151.84,119.65 L153.95,119.68 L156.06,119.72 L158.18,119.75 L160.29,119.77 L162.40,119.80 L164.51,119.82 L166.62,119.84 L168.74,119.85 L170.85,119.85 L172.96,119.85 L175.07,119.85 L177.18,119.83 L179.30,119.81 L181.41,119.78 L183.52,119.73 L185.63,119.68 L187.74,119.60 L189.86,119.51 L191.97,119.40 L194.08,119.27 L196.19,119.11 L198.30,118.91 L200.42,118.67 L202.53,118.39 L204.64,118.05 L206.75,117.63 L208.86,117.12 L210.98,116.51 L213.09,115.75 L215.20,114.82 L217.31,113.67 L219.42,112.22 L221.54,110.38 L223.65,108.04 L225.76,105.02 L227.87,101.10 L229.98,95.98 L232.10,89.32 L234.21,80.75 L236.32,70.13 L238.43,57.99 L240.54,46.13 L242.66,37.81 L244.77,36.31 L246.88,42.35 L248.99,53.37 L251.10,65.84 L253.22,77.32 L255.33,86.85 L257.44,94.38 L259.55,100.20 L261.66,104.70 L263.78,108.18 L265.89,110.91 L268.00,113.06 L270.11,114.79 L272.22,116.19 L274.34,117.34 L276.45,118.29 L278.56,119.10 L280.67,119.78 L282.78,120.36 L284.90,120.87 L287.01,121.31 L289.12,121.70 L291.23,122.05 L293.34,122.36 L295.46,122.64 L297.57,122.89 L299.68,123.13 L301.79,123.34 L303.90,123.54 L306.02,123.72 L308.13,123.89 L310.24,124.06 L312.35,124.21 L314.46,124.35 L316.58,124.49 L318.69,124.62 L320.80,124.75 L322.91,124.87 L325.02,124.99 L327.14,125.10 L329.25,125.21 L331.36,125.31 L333.47,125.42 L335.58,125.52 L337.70,125.61 L339.81,125.71 L341.92,125.80 L344.03,125.89 L346.14,125.99 L348.26,126.07 L350.37,126.16 L352.48,126.25 L354.59,126.33 L356.70,126.42 L358.82,126.50 L360.93,126.58 L363.04,126.66 L365.15,126.74 L367.26,126.82 L369.38,126.90 L371.49,126.98 L373.60,127.06 L375.71,127.14 L377.82,127.21 L379.94,127.29 L382.05,127.37 L384.16,127.44 L386.27,127.52 L388.38,127.59 L390.50,127.67 L392.61,127.74 L394.72,127.82 L396.83,127.89 L398.94,127.96 L401.06,128.04 L403.17,128.11 L405.28,128.18 L407.39,128.25 L409.50,128.33 L411.62,128.40 L413.73,128.47 L415.84,128.54 L417.95,128.61 L420.06,128.68 L422.18,128.76 L424.29,128.83 L426.40,128.90 L428.51,128.97 L430.62,129.04 L432.74,129.11 L434.85,129.18 L436.96,129.25 L439.07,129.32 L441.18,129.39 L443.30,129.46 L445.41,129.53 L447.52,129.60 L449.63,129.67 L451.74,129.74 L453.86,129.81 L455.97,129.88 L458.08,129.95 L460.19,130.02 L462.30,130.09 L464.42,130.16 L466.53,130.23 L468.64,130.30 L470.75,130.37 L472.86,130.43 L474.98,130.50 L477.09,130.57 L479.20,130.64" stroke="#fff" stroke-width="0.9" stroke-opacity="0.55" stroke-dasharray="1,1.3"/>
<path d="M56.80,105.06 L58.91,105.17 L61.02,105.27 L63.14,105.37 L65.25,105.47 L67.36,105.58 L69.47,105.68 L71.58,105.78 L73.70,105.88 L75.81,105.98 L77.92,106.08 L80.03,106.19 L82.14,106.29 L84.26,106.39 L86.37,106.49 L88.48,106.59 L90.59,106.69 L92.70,106.79 L94.82,106.89 L96.93,106.99 L99.04,107.09 L101.15,107.19 L103.26,107.29 L105.38,107.39 L107.49,107.49 L109.60,107.59 L111.71,107.69 L113.82,107.78 L115.94,107.88 L118.05,107.98 L120.16,108.08 L122.27,108.17 L124.38,108.27 L126.50,108.36 L128.61,108.46 L130.72,108.55 L132.83,108.65 L134.94,108.74 L137.06,108.83 L139.17,108.93 L141.28,109.02 L143.39,109.11 L145.50,109.20 L147.62,109.29 L149.73,109.38 L151.84,109.46 L153.95,109.55 L156.06,109.63 L158.18,109.72 L160.29,109.80 L162.40,109.88 L164.51,109.96 L166.62,110.04 L168.74,110.11 L170.85,110.19 L172.96,110.26 L175.07,110.32 L177.18,110.39 L179.30,110.45 L181.41,110.51 L183.52,110.57 L185.63,110.62 L187.74,110.66 L189.86,110.70 L191.97,110.74 L194.08,110.77 L196.19,110.79 L198.30,110.80 L200.42,110.80 L202.53,110.80 L204.64,110.78 L206.75,110.74 L208.86,110.70 L210.98,110.63 L213.09,110.54 L215.20,110.43 L217.31,110.29 L219.42,110.11 L221.54,109.90 L223.65,109.64 L225.76,109.32 L227.87,108.94 L229.98,108.48 L232.10,107.92 L234.21,107.24 L236.32,106.42 L238.43,105.41 L240.54,104.19 L242.66,102.69 L244.77,100.84 L246.88,98.58 L248.99,95.79 L251.10,92.38 L253.22,88.27 L255.33,83.40 L257.44,77.85 L259.55,71.91 L261.66,66.21 L263.78,61.66 L265.89,59.26 L268.00,59.65 L270.11,62.76 L272.22,67.84 L274.34,73.86 L276.45,79.97 L278.56,85.61 L280.67,90.54 L282.78,94.72 L284.90,98.20 L287.01,101.09 L289.12,103.47 L291.23,105.45 L293.34,107.10 L295.46,108.49 L297.57,109.67 L299.68,110.67 L301.79,111.53 L303.90,112.28 L306.02,112.94 L308.13,113.51 L310.24,114.03 L312.35,114.49 L314.46,114.90 L316.58,115.28 L318.69,115.63 L320.80,115.94 L322.91,116.24 L325.02,116.51 L327.14,116.77 L329.25,117.01 L331.36,117.23 L333.47,117.45 L335.58,117.65 L337.70,117.85 L339.81,118.04 L341.92,118.22 L344.03,118.39 L346.14,118.56 L348.26,118.72 L350.37,118.88 L352.48,119.04 L354.59,119.19 L356.70,119.33 L358.82,119.48 L360.93,119.62 L363.04,119.76 L365.15,119.90 L367.26,120.03 L369.38,120.16 L371.49,120.29 L373.60,120.42 L375.71,120.55 L377.82,120.68 L379.94,120.80 L382.05,120.93 L384.16,121.05 L386.27,121.17 L388.38,121.29 L390.50,121.41 L392.61,121.53 L394.72,121.65 L396.83,121.77 L398.94,121.89 L401.06,122.00 L403.17,122.12 L405.28,122.23 L407.39,122.35 L409.50,122.46 L411.62,122.58 L413.73,122.69 L415.84,122.80 L417.95,122.92 L420.06,123.03 L422.18,123.14 L424.29,123.25 L426.40,123.37 L428.51,123.48 L430.62,123.59 L432.74,123.70 L434.85,123.81 L436.96,123.92 L439.07,124.03 L441.18,124.14 L443.30,124.25 L445.41,124.36 L447.52,124.47 L449.63,124.58 L451.74,124.69 L453.86,124.80 L455.97,124.91 L458.08,125.01 L460.19,125.12 L462.30,125.23 L464.42,125.34 L466.53,125.45 L468.64,125.56 L470.75,125.66 L472.86,125.77 L474.98,125.88 L477.09,125.99 L479.20,126.10" stroke="#f2cf2c" stroke-width="3.2"/>
<path d="M56.80,105.06 L58.91,105.17 L61.02,105.27 L63.14,105.37 L65.25,105.47 L67.36,105.58 L69.47,105.68 L71.58,105.78 L73.70,105.88 L75.81,105.98 L77.92,106.08 L80.03,106.19 L82.14,106.29 L84.26,106.39 L86.37,106.49 L88.48,106.59 L90.59,106.69 L92.70,106.79 L94.82,106.89 L96.93,106.99 L99.04,107.09 L101.15,107.19 L103.26,107.29 L105.38,107.39 L107.49,107.49 L109.60,107.59 L111.71,107.69 L113.82,107.78 L115.94,107.88 L118.05,107.98 L120.16,108.08 L122.27,108.17 L124.38,108.27 L126.50,108.36 L128.61,108.46 L130.72,108.55 L132.83,108.65 L134.94,108.74 L137.06,108.83 L139.17,108.93 L141.28,109.02 L143.39,109.11 L145.50,109.20 L147.62,109.29 L149.73,109.38 L151.84,109.46 L153.95,109.55 L156.06,109.63 L158.18,109.72 L160.29,109.80 L162.40,109.88 L164.51,109.96 L166.62,110.04 L168.74,110.11 L170.85,110.19 L172.96,110.26 L175.07,110.32 L177.18,110.39 L179.30,110.45 L181.41,110.51 L183.52,110.57 L185.63,110.62 L187.74,110.66 L189.86,110.70 L191.97,110.74 L194.08,110.77 L196.19,110.79 L198.30,110.80 L200.42,110.80 L202.53,110.80 L204.64,110.78 L206.75,110.74 L208.86,110.70 L210.98,110.63 L213.09,110.54 L215.20,110.43 L217.31,110.29 L219.42,110.11 L221.54,109.90 L223.65,109.64 L225.76,109.32 L227.87,108.94 L229.98,108.48 L232.10,107.92 L234.21,107.24 L236.32,106.42 L238.43,105.41 L240.54,104.19 L242.66,102.69 L244.77,100.84 L246.88,98.58 L248.99,95.79 L251.10,92.38 L253.22,88.27 L255.33,83.40 L257.44,77.85 L259.55,71.91 L261.66,66.21 L263.78,61.66 L265.89,59.26 L268.00,59.65 L270.11,62.76 L272.22,67.84 L274.34,73.86 L276.45,79.97 L278.56,85.61 L280.67,90.54 L282.78,94.72 L284.90,98.20 L287.01,101.09 L289.12,103.47 L291.23,105.45 L293.34,107.10 L295.46,108.49 L297.57,109.67 L299.68,110.67 L301.79,111.53 L303.90,112.28 L306.02,112.94 L308.13,113.51 L310.24,114.03 L312.35,114.49 L314.46,114.90 L316.58,115.28 L318.69,115.63 L320.80,115.94 L322.91,116.24 L325.02,116.51 L327.14,116.77 L329.25,117.01 L331.36,117.23 L333.47,117.45 L335.58,117.65 L337.70,117.85 L339.81,118.04 L341.92,118.22 L344.03,118.39 L346.14,118.56 L348.26,118.72 L350.37,118.88 L352.48,119.04 L354.59,119.19 L356.70,119.33 L358.82,119.48 L360.93,119.62 L363.04,119.76 L365.15,119.90 L367.26,120.03 L369.38,120.16 L371.49,120.29 L373.60,120.42 L375.71,120.55 L377.82,120.68 L379.94,120.80 L382.05,120.93 L384.16,121.05 L386.27,121.17 L388.38,121.29 L390.50,121.41 L392.61,121.53 L394.72,121.65 L396.83,121.77 L398.94,121.89 L401.06,122.00 L403.17,122.12 L405.28,122.23 L407.39,122.35 L409.50,122.46 L411.62,122.58 L413.73,122.69 L415.84,122.80 L417.95,122.92 L420.06,123.03 L422.18,123.14 L424.29,123.25 L426.40,123.37 L428.51,123.48 L430.62,123.59 L432.74,123.70 L434.85,123.81 L436.96,123.92 L439.07,124.03 L441.18,124.14 L443.30,124.25 L445.41,124.36 L447.52,124.47 L449.63,124.58 L451.74,124.69 L453.86,124.80 L455.97,124.91 L458.08,125.01 L460.19,125.12 L462.30,125.23 L464.42,125.34 L466.53,125.45 L468.64,125.56 L470.75,125.66 L472.86,125.77 L474.98,125.88 L477.09,125.99 L479.20,126.10" stroke="#fff" stroke-width="0.9" stroke-opacity="0.55" stroke-dasharray="1,1.3"/>
<path d="M56.80,109.53 L58.91,109.63 L61.02,109.72 L63.14,109.81 L65.25,109.91 L67.36,110.00 L69.47,110.10 L71.58,110.19 L73.70,110.28 L75.81,110.38 L77.92,110.47 L80.03,110.56 L82.14,110.66 L84.26,110.75 L86.37,110.84 L88.48,110.94 L90.59,111.03 L92.70,111.12 L94.82,111.21 L96.93,111.31 L99.04,111.40 L101.15,111.49 L103.26,111.58 L105.38,111.67 L107.49,111.76 L109.60,111.85 L111.71,111.94 L113.82,112.03 L115.94,112.12 L118.05,112.21 L120.16,112.30 L122.27,112.39 L124.38,112.48 L126.50,112.57 L128.61,112.65 L130.72,112.74 L132.83,112.83 L134.94,112.92 L137.06,113.00 L139.17,113.09 L141.28,113.17 L143.39,113.26 L145.50,113.34 L147.62,113.42 L149.73,113.50 L151.84,113.58 L153.95,113.67 L156.06,113.75 L158.18,113.82 L160.29,113.90 L162.40,113.98 L164.51,114.05 L166.62,114.13 L168.74,114.20 L170.85,114.27 L172.96,114.34 L175.07,114.41 L177.18,114.48 L179.30,114.54 L181.41,114.61 L183.52,114.67 L185.63,114.73 L187.74,114.78 L189.86,114.84 L191.97,114.89 L194.08,114.93 L196.19,114.98 L198.30,115.02 L200.42,115.05 L202.53,115.08 L204.64,115.11 L206.75,115.13 L208.86,115.14 L210.98,115.15 L213.09,115.15 L215.20,115.14 L217.31,115.12 L219.42,115.09 L221.54,115.05 L223.65,114.99 L225.76,114.92 L227.87,114.84 L229.98,114.73 L232.10,114.60 L234.21,114.45 L236.32,114.27 L238.43,114.06 L240.54,113.81 L242.66,113.52 L244.77,113.18 L246.88,112.78 L248.99,112.31 L251.10,111.76 L253.22,111.12 L255.33,110.36 L257.44,109.47 L259.55,108.43 L261.66,107.19 L263.78,105.72 L265.89,103.99 L268.00,101.92 L270.11,99.47 L272.22,96.57 L274.34,93.14 L276.45,89.13 L278.56,84.51 L280.67,79.31 L282.78,73.68 L284.90,67.92 L287.01,62.51 L289.12,58.13 L291.23,55.44 L293.34,54.96 L295.46,56.78 L297.57,60.59 L299.68,65.77 L301.79,71.62 L303.90,77.56 L306.02,83.20 L308.13,88.31 L310.24,92.82 L312.35,96.73 L314.46,100.08 L316.58,102.95 L318.69,105.39 L320.80,107.48 L322.91,109.27 L325.02,110.81 L327.14,112.14 L329.25,113.30 L331.36,114.32 L333.47,115.21 L335.58,116.00 L337.70,116.70 L339.81,117.33 L341.92,117.89 L344.03,118.41 L346.14,118.87 L348.26,119.30 L350.37,119.69 L352.48,120.05 L354.59,120.38 L356.70,120.69 L358.82,120.98 L360.93,121.26 L363.04,121.51 L365.15,121.76 L367.26,121.99 L369.38,122.21 L371.49,122.42 L373.60,122.62 L375.71,122.81 L377.82,122.99 L379.94,123.17 L382.05,123.34 L384.16,123.51 L386.27,123.67 L388.38,123.83 L390.50,123.99 L392.61,124.14 L394.72,124.28 L396.83,124.43 L398.94,124.57 L401.06,124.70 L403.17,124.84 L405.28,124.97 L407.39,125.10 L409.50,125.23 L411.62,125.36 L413.73,125.49 L415.84,125.61 L417.95,125.73 L420.06,125.86 L422.18,125.98 L424.29,126.09 L426.40,126.21 L428.51,126.33 L430.62,126.45 L432.74,126.56 L434.85,126.68 L436.96,126.79 L439.07,126.90 L441.18,127.01 L443.30,127.13 L445.41,127.24 L447.52,127.35 L449.63,127.46 L451.74,127.57 L453.86,127.67 L455.97,127.78 L458.08,127.89 L460.19,128.00 L462.30,128.10 L464.42,128.21 L466.53,128.32 L468.64,128.42 L470.75,128.53 L472.86,128.63 L474.98,128.74 L477.09,128.84 L479.20,128.95" stroke="#dfc08a" stroke-width="3.2"/>
<path d="M56.80,109.53 L58.91,109.63 L61.02,109.72 L63.14,109.81 L65.25,109.91 L67.36,110.00 L69.47,110.10 L71.58,110.19 L73.70,110.28 L75.81,110.38 L77.92,110.47 L80.03,110.56 L82.14,110.66 L84.26,110.75 L86.37,110.84 L88.48,110.94 L90.59,111.03 L92.70,111.12 L94.82,111.21 L96.93,111.31 L99.04,111.40 L101.15,111.49 L103.26,111.58 L105.38,111.67 L107.49,111.76 L109.60,111.85 L111.71,111.94 L113.82,112.03 L115.94,112.12 L118.05,112.21 L120.16,112.30 L122.27,112.39 L124.38,112.48 L126.50,112.57 L128.61,112.65 L130.72,112.74 L132.83,112.83 L134.94,112.92 L137.06,113.00 L139.17,113.09 L141.28,113.17 L143.39,113.26 L145.50,113.34 L147.62,113.42 L149.73,113.50 L151.84,113.58 L153.95,113.67 L156.06,113.75 L158.18,113.82 L160.29,113.90 L162.40,113.98 L164.51,114.05 L166.62,114.13 L168.74,114.20 L170.85,114.27 L172.96,114.34 L175.07,114.41 L177.18,114.48 L179.30,114.54 L181.41,114.61 L183.52,114.67 L185.63,114.73 L187.74,114.78 L189.86,114.84 L191.97,114.89 L194.08,114.93 L196.19,114.98 L198.30,115.02 L200.42,115.05 L202.53,115.08 L204.64,115.11 L206.75,115.13 L208.86,115.14 L210.98,115.15 L213.09,115.15 L215.20,115.14 L217.31,115.12 L219.42,115.09 L221.54,115.05 L223.65,114.99 L225.76,114.92 L227.87,114.84 L229.98,114.73 L232.10,114.60 L234.21,114.45 L236.32,114.27 L238.43,114.06 L240.54,113.81 L242.66,113.52 L244.77,113.18 L246.88,112.78 L248.99,112.31 L251.10,111.76 L253.22,111.12 L255.33,110.36 L257.44,109.47 L259.55,108.43 L261.66,107.19 L263.78,105.72 L265.89,103.99 L268.00,101.92 L270.11,99.47 L272.22,96.57 L274.34,93.14 L276.45,89.13 L278.56,84.51 L280.67,79.31 L282.78,73.68 L284.90,67.92 L287.01,62.51 L289.12,58.13 L291.23,55.44 L293.34,54.96 L295.46,56.78 L297.57,60.59 L299.68,65.77 L301.79,71.62 L303.90,77.56 L306.02,83.20 L308.13,88.31 L310.24,92.82 L312.35,96.73 L314.46,100.08 L316.58,102.95 L318.69,105.39 L320.80,107.48 L322.91,109.27 L325.02,110.81 L327.14,112.14 L329.25,113.30 L331.36,114.32 L333.47,115.21 L335.58,116.00 L337.70,116.70 L339.81,117.33 L341.92,117.89 L344.03,118.41 L346.14,118.87 L348.26,119.30 L350.37,119.69 L352.48,120.05 L354.59,120.38 L356.70,120.69 L358.82,120.98 L360.93,121.26 L363.04,121.51 L365.15,121.76 L367.26,121.99 L369.38,122.21 L371.49,122.42 L373.60,122.62 L375.71,122.81 L377.82,122.99 L379.94,123.17 L382.05,123.34 L384.16,123.51 L386.27,123.67 L388.38,123.83 L390.50,123.99 L392.61,124.14 L394.72,124.28 L396.83,124.43 L398.94,124.57 L401.06,124.70 L403.17,124.84 L405.28,124.97 L407.39,125.10 L409.50,125.23 L411.62,125.36 L413.73,125.49 L415.84,125.61 L417.95,125.73 L420.06,125.86 L422.18,125.98 L424.29,126.09 L426.40,126.21 L428.51,126.33 L430.62,126.45 L432.74,126.56 L434.85,126.68 L436.96,126.79 L439.07,126.90 L441.18,127.01 L443.30,127.13 L445.41,127.24 L447.52,127.35 L449.63,127.46 L451.74,127.57 L453.86,127.67 L455.97,127.78 L458.08,127.89 L460.19,128.00 L462.30,128.10 L464.42,128.21 L466.53,128.32 L468.64,128.42 L470.75,128.53 L472.86,128.63 L474.98,128.74 L477.09,128.84 L479.20,128.95" stroke="#fff" stroke-width="0.9" stroke-opacity="0.55" stroke-dasharray="1,1.3"/>
<path d="M56.80,114.01 L58.91,114.08 L61.02,114.16 L63.14,114.23 L65.25,114.30 L67.36,114.37 L69.47,114.44 L71.58,114.51 L73.70,114.59 L75.81,114.66 L77.92,114.73 L80.03,114.80 L82.14,114.87 L84.26,114.94 L86.37,115.01 L88.48,115.08 L90.59,115.15 L92.70,115.22 L94.82,115.29 L96.93,115.36 L99.04,115.43 L101.15,115.50 L103.26,115.57 L105.38,115.64 L107.49,115.71 L109.60,115.77 L111.71,115.84 L113.82,115.91 L115.94,115.98 L118.05,116.05 L120.16,116.11 L122.27,116.18 L124.38,116.25 L126.50,116.31 L128.61,116.38 L130.72,116.45 L132.83,116.51 L134.94,116.58 L137.06,116.64 L139.17,116.71 L141.28,116.77 L143.39,116.83 L145.50,116.90 L147.62,116.96 L149.73,117.02 L151.84,117.08 L153.95,117.15 L156.06,117.21 L158.18,117.27 L160.29,117.33 L162.40,117.38 L164.51,117.44 L166.62,117.50 L168.74,117.56 L170.85,117.61 L172.96,117.67 L175.07,117.72 L177.18,117.77 L179.30,117.82 L181.41,117.87 L183.52,117.92 L185.63,117.97 L187.74,118.02 L189.86,118.06 L191.97,118.11 L194.08,118.15 L196.19,118.19 L198.30,118.23 L200.42,118.26 L202.53,118.29 L204.64,118.33 L206.75,118.35 L208.86,118.38 L210.98,118.40 L213.09,118.42 L215.20,118.44 L217.31,118.45 L219.42,118.46 L221.54,118.46 L223.65,118.46 L225.76,118.46 L227.87,118.44 L229.98,118.42 L232.10,118.40 L234.21,118.37 L236.32,118.32 L238.43,118.27 L240.54,118.21 L242.66,118.14 L244.77,118.05 L246.88,117.96 L248.99,117.84 L251.10,117.71 L253.22,117.56 L255.33,117.39 L257.44,117.19 L259.55,116.97 L261.66,116.71 L263.78,116.42 L265.89,116.09 L268.00,115.71 L270.11,115.28 L272.22,114.80 L274.34,114.24 L276.45,113.60 L278.56,112.87 L280.67,112.04 L282.78,111.08 L284.90,109.97 L287.01,108.69 L289.12,107.22 L291.23,105.52 L293.34,103.54 L295.46,101.26 L297.57,98.62 L299.68,95.57 L301.79,92.08 L303.90,88.12 L306.02,83.69 L308.13,78.83 L310.24,73.65 L312.35,68.39 L314.46,63.35 L316.58,58.97 L318.69,55.71 L320.80,54.00 L322.91,54.08 L325.02,55.94 L327.14,59.34 L329.25,63.87 L331.36,69.06 L333.47,74.48 L335.58,79.80 L337.70,84.82 L339.81,89.40 L341.92,93.51 L344.03,97.15 L346.14,100.34 L348.26,103.13 L350.37,105.57 L352.48,107.69 L354.59,109.55 L356.70,111.17 L358.82,112.60 L360.93,113.85 L363.04,114.97 L365.15,115.95 L367.26,116.83 L369.38,117.62 L371.49,118.33 L373.60,118.96 L375.71,119.54 L377.82,120.07 L379.94,120.55 L382.05,120.99 L384.16,121.40 L386.27,121.77 L388.38,122.12 L390.50,122.44 L392.61,122.74 L394.72,123.02 L396.83,123.29 L398.94,123.54 L401.06,123.77 L403.17,123.99 L405.28,124.21 L407.39,124.41 L409.50,124.60 L411.62,124.78 L413.73,124.96 L415.84,125.13 L417.95,125.29 L420.06,125.45 L422.18,125.60 L424.29,125.74 L426.40,125.89 L428.51,126.02 L430.62,126.16 L432.74,126.29 L434.85,126.42 L436.96,126.54 L439.07,126.66 L441.18,126.78 L443.30,126.90 L445.41,127.01 L447.52,127.12 L449.63,127.23 L451.74,127.34 L453.86,127.45 L455.97,127.56 L458.08,127.66 L460.19,127.76 L462.30,127.86 L464.42,127.96 L466.53,128.06 L468.64,128.16 L470.75,128.25 L472.86,128.35 L474.98,128.45 L477.09,128.54 L479.20,128.63" stroke="#b4b8c0" stroke-width="3.2"/>
<path d="M56.80,114.01 L58.91,114.08 L61.02,114.16 L63.14,114.23 L65.25,114.30 L67.36,114.37 L69.47,114.44 L71.58,114.51 L73.70,114.59 L75.81,114.66 L77.92,114.73 L80.03,114.80 L82.14,114.87 L84.26,114.94 L86.37,115.01 L88.48,115.08 L90.59,115.15 L92.70,115.22 L94.82,115.29 L96.93,115.36 L99.04,115.43 L101.15,115.50 L103.26,115.57 L105.38,115.64 L107.49,115.71 L109.60,115.77 L111.71,115.84 L113.82,115.91 L115.94,115.98 L118.05,116.05 L120.16,116.11 L122.27,116.18 L124.38,116.25 L126.50,116.31 L128.61,116.38 L130.72,116.45 L132.83,116.51 L134.94,116.58 L137.06,116.64 L139.17,116.71 L141.28,116.77 L143.39,116.83 L145.50,116.90 L147.62,116.96 L149.73,117.02 L151.84,117.08 L153.95,117.15 L156.06,117.21 L158.18,117.27 L160.29,117.33 L162.40,117.38 L164.51,117.44 L166.62,117.50 L168.74,117.56 L170.85,117.61 L172.96,117.67 L175.07,117.72 L177.18,117.77 L179.30,117.82 L181.41,117.87 L183.52,117.92 L185.63,117.97 L187.74,118.02 L189.86,118.06 L191.97,118.11 L194.08,118.15 L196.19,118.19 L198.30,118.23 L200.42,118.26 L202.53,118.29 L204.64,118.33 L206.75,118.35 L208.86,118.38 L210.98,118.40 L213.09,118.42 L215.20,118.44 L217.31,118.45 L219.42,118.46 L221.54,118.46 L223.65,118.46 L225.76,118.46 L227.87,118.44 L229.98,118.42 L232.10,118.40 L234.21,118.37 L236.32,118.32 L238.43,118.27 L240.54,118.21 L242.66,118.14 L244.77,118.05 L246.88,117.96 L248.99,117.84 L251.10,117.71 L253.22,117.56 L255.33,117.39 L257.44,117.19 L259.55,116.97 L261.66,116.71 L263.78,116.42 L265.89,116.09 L268.00,115.71 L270.11,115.28 L272.22,114.80 L274.34,114.24 L276.45,113.60 L278.56,112.87 L280.67,112.04 L282.78,111.08 L284.90,109.97 L287.01,108.69 L289.12,107.22 L291.23,105.52 L293.34,103.54 L295.46,101.26 L297.57,98.62 L299.68,95.57 L301.79,92.08 L303.90,88.12 L306.02,83.69 L308.13,78.83 L310.24,73.65 L312.35,68.39 L314.46,63.35 L316.58,58.97 L318.69,55.71 L320.80,54.00 L322.91,54.08 L325.02,55.94 L327.14,59.34 L329.25,63.87 L331.36,69.06 L333.47,74.48 L335.58,79.80 L337.70,84.82 L339.81,89.40 L341.92,93.51 L344.03,97.15 L346.14,100.34 L348.26,103.13 L350.37,105.57 L352.48,107.69 L354.59,109.55 L356.70,111.17 L358.82,112.60 L360.93,113.85 L363.04,114.97 L365.15,115.95 L367.26,116.83 L369.38,117.62 L371.49,118.33 L373.60,118.96 L375.71,119.54 L377.82,120.07 L379.94,120.55 L382.05,120.99 L384.16,121.40 L386.27,121.77 L388.38,122.12 L390.50,122.44 L392.61,122.74 L394.72,123.02 L396.83,123.29 L398.94,123.54 L401.06,123.77 L403.17,123.99 L405.28,124.21 L407.39,124.41 L409.50,124.60 L411.62,124.78 L413.73,124.96 L415.84,125.13 L417.95,125.29 L420.06,125.45 L422.18,125.60 L424.29,125.74 L426.40,125.89 L428.51,126.02 L430.62,126.16 L432.74,126.29 L434.85,126.42 L436.96,126.54 L439.07,126.66 L441.18,126.78 L443.30,126.90 L445.41,127.01 L447.52,127.12 L449.63,127.23 L451.74,127.34 L453.86,127.45 L455.97,127.56 L458.08,127.66 L460.19,127.76 L462.30,127.86 L464.42,127.96 L466.53,128.06 L468.64,128.16 L470.75,128.25 L472.86,128.35 L474.98,128.45 L477.09,128.54 L479.20,128.63" stroke="#fff" stroke-width="0.9" stroke-opacity="0.55" stroke-dasharray="1,1.3"/>
<path d="M56.80,122.31 L58.91,122.36 L61.02,122.41 L63.14,122.46 L65.25,122.51 L67.36,122.56 L69.47,122.61 L71.58,122.66 L73.70,122.71 L75.81,122.76 L77.92,122.81 L80.03,122.86 L82.14,122.91 L84.26,122.96 L86.37,123.01 L88.48,123.06 L90.59,123.11 L92.70,123.16 L94.82,123.21 L96.93,123.26 L99.04,123.31 L101.15,123.35 L103.26,123.40 L105.38,123.45 L107.49,123.50 L109.60,123.55 L111.71,123.60 L113.82,123.64 L115.94,123.69 L118.05,123.74 L120.16,123.79 L122.27,123.84 L124.38,123.88 L126.50,123.93 L128.61,123.98 L130.72,124.03 L132.83,124.07 L134.94,124.12 L137.06,124.17 L139.17,124.21 L141.28,124.26 L143.39,124.30 L145.50,124.35 L147.62,124.39 L149.73,124.44 L151.84,124.48 L153.95,124.53 L156.06,124.57 L158.18,124.62 L160.29,124.66 L162.40,124.70 L164.51,124.75 L166.62,124.79 L168.74,124.83 L170.85,124.88 L172.96,124.92 L175.07,124.96 L177.18,125.00 L179.30,125.04 L181.41,125.08 L183.52,125.12 L185.63,125.16 L187.74,125.20 L189.86,125.23 L191.97,125.27 L194.08,125.31 L196.19,125.34 L198.30,125.38 L200.42,125.41 L202.53,125.45 L204.64,125.48 L206.75,125.51 L208.86,125.54 L210.98,125.57 L213.09,125.60 L215.20,125.63 L217.31,125.65 L219.42,125.68 L221.54,125.70 L223.65,125.72 L225.76,125.74 L227.87,125.76 L229.98,125.78 L232.10,125.79 L234.21,125.80 L236.32,125.81 L238.43,125.82 L240.54,125.83 L242.66,125.83 L244.77,125.83 L246.88,125.83 L248.99,125.82 L251.10,125.81 L253.22,125.79 L255.33,125.77 L257.44,125.75 L259.55,125.72 L261.66,125.68 L263.78,125.64 L265.89,125.59 L268.00,125.53 L270.11,125.46 L272.22,125.39 L274.34,125.30 L276.45,125.21 L278.56,125.10 L280.67,124.97 L282.78,124.84 L284.90,124.68 L287.01,124.50 L289.12,124.31 L291.23,124.09 L293.34,123.84 L295.46,123.56 L297.57,123.24 L299.68,122.88 L301.79,122.48 L303.90,122.03 L306.02,121.51 L308.13,120.93 L310.24,120.27 L312.35,119.51 L314.46,118.65 L316.58,117.66 L318.69,116.52 L320.80,115.21 L322.91,113.69 L325.02,111.94 L327.14,109.91 L329.25,107.55 L331.36,104.80 L333.47,101.63 L335.58,97.95 L337.70,93.73 L339.81,88.92 L341.92,83.54 L344.03,77.67 L346.14,71.48 L348.26,65.28 L350.37,59.54 L352.48,54.82 L354.59,51.71 L356.70,50.65 L358.82,51.82 L360.93,55.03 L363.04,59.86 L365.15,65.70 L367.26,72.01 L369.38,78.30 L371.49,84.28 L373.60,89.76 L375.71,94.67 L377.82,99.00 L379.94,102.78 L382.05,106.07 L384.16,108.91 L386.27,111.38 L388.38,113.52 L390.50,115.37 L392.61,116.99 L394.72,118.41 L396.83,119.65 L398.94,120.75 L401.06,121.72 L403.17,122.58 L405.28,123.35 L407.39,124.04 L409.50,124.66 L411.62,125.22 L413.73,125.72 L415.84,126.18 L417.95,126.60 L420.06,126.99 L422.18,127.34 L424.29,127.67 L426.40,127.97 L428.51,128.25 L430.62,128.52 L432.74,128.76 L434.85,128.99 L436.96,129.20 L439.07,129.40 L441.18,129.59 L443.30,129.77 L445.41,129.95 L447.52,130.11 L449.63,130.26 L451.74,130.41 L453.86,130.55 L455.97,130.69 L458.08,130.82 L460.19,130.94 L462.30,131.06 L464.42,131.18 L466.53,131.29 L468.64,131.40 L470.75,131.51 L472.86,131.61 L474.98,131.71 L477.09,131.81 L479.20,131.90" stroke="#ee7c52" stroke-width="3.2"/>
<path d="M56.80,122.31 L58.91,122.36 L61.02,122.41 L63.14,122.46 L65.25,122.51 L67.36,122.56 L69.47,122.61 L71.58,122.66 L73.70,122.71 L75.81,122.76 L77.92,122.81 L80.03,122.86 L82.14,122.91 L84.26,122.96 L86.37,123.01 L88.48,123.06 L90.59,123.11 L92.70,123.16 L94.82,123.21 L96.93,123.26 L99.04,123.31 L101.15,123.35 L103.26,123.40 L105.38,123.45 L107.49,123.50 L109.60,123.55 L111.71,123.60 L113.82,123.64 L115.94,123.69 L118.05,123.74 L120.16,123.79 L122.27,123.84 L124.38,123.88 L126.50,123.93 L128.61,123.98 L130.72,124.03 L132.83,124.07 L134.94,124.12 L137.06,124.17 L139.17,124.21 L141.28,124.26 L143.39,124.30 L145.50,124.35 L147.62,124.39 L149.73,124.44 L151.84,124.48 L153.95,124.53 L156.06,124.57 L158.18,124.62 L160.29,124.66 L162.40,124.70 L164.51,124.75 L166.62,124.79 L168.74,124.83 L170.85,124.88 L172.96,124.92 L175.07,124.96 L177.18,125.00 L179.30,125.04 L181.41,125.08 L183.52,125.12 L185.63,125.16 L187.74,125.20 L189.86,125.23 L191.97,125.27 L194.08,125.31 L196.19,125.34 L198.30,125.38 L200.42,125.41 L202.53,125.45 L204.64,125.48 L206.75,125.51 L208.86,125.54 L210.98,125.57 L213.09,125.60 L215.20,125.63 L217.31,125.65 L219.42,125.68 L221.54,125.70 L223.65,125.72 L225.76,125.74 L227.87,125.76 L229.98,125.78 L232.10,125.79 L234.21,125.80 L236.32,125.81 L238.43,125.82 L240.54,125.83 L242.66,125.83 L244.77,125.83 L246.88,125.83 L248.99,125.82 L251.10,125.81 L253.22,125.79 L255.33,125.77 L257.44,125.75 L259.55,125.72 L261.66,125.68 L263.78,125.64 L265.89,125.59 L268.00,125.53 L270.11,125.46 L272.22,125.39 L274.34,125.30 L276.45,125.21 L278.56,125.10 L280.67,124.97 L282.78,124.84 L284.90,124.68 L287.01,124.50 L289.12,124.31 L291.23,124.09 L293.34,123.84 L295.46,123.56 L297.57,123.24 L299.68,122.88 L301.79,122.48 L303.90,122.03 L306.02,121.51 L308.13,120.93 L310.24,120.27 L312.35,119.51 L314.46,118.65 L316.58,117.66 L318.69,116.52 L320.80,115.21 L322.91,113.69 L325.02,111.94 L327.14,109.91 L329.25,107.55 L331.36,104.80 L333.47,101.63 L335.58,97.95 L337.70,93.73 L339.81,88.92 L341.92,83.54 L344.03,77.67 L346.14,71.48 L348.26,65.28 L350.37,59.54 L352.48,54.82 L354.59,51.71 L356.70,50.65 L358.82,51.82 L360.93,55.03 L363.04,59.86 L365.15,65.70 L367.26,72.01 L369.38,78.30 L371.49,84.28 L373.60,89.76 L375.71,94.67 L377.82,99.00 L379.94,102.78 L382.05,106.07 L384.16,108.91 L386.27,111.38 L388.38,113.52 L390.50,115.37 L392.61,116.99 L394.72,118.41 L396.83,119.65 L398.94,120.75 L401.06,121.72 L403.17,122.58 L405.28,123.35 L407.39,124.04 L409.50,124.66 L411.62,125.22 L413.73,125.72 L415.84,126.18 L417.95,126.60 L420.06,126.99 L422.18,127.34 L424.29,127.67 L426.40,127.97 L428.51,128.25 L430.62,128.52 L432.74,128.76 L434.85,128.99 L436.96,129.20 L439.07,129.40 L441.18,129.59 L443.30,129.77 L445.41,129.95 L447.52,130.11 L449.63,130.26 L451.74,130.41 L453.86,130.55 L455.97,130.69 L458.08,130.82 L460.19,130.94 L462.30,131.06 L464.42,131.18 L466.53,131.29 L468.64,131.40 L470.75,131.51 L472.86,131.61 L474.98,131.71 L477.09,131.81 L479.20,131.90" stroke="#fff" stroke-width="0.9" stroke-opacity="0.55" stroke-dasharray="1,1.3"/>
<path d="M56.80,107.34 L58.91,107.45 L61.02,107.55 L63.14,107.65 L65.25,107.76 L67.36,107.86 L69.47,107.96 L71.58,108.07 L73.70,108.17 L75.81,108.27 L77.92,108.38 L80.03,108.48 L82.14,108.59 L84.26,108.69 L86.37,108.79 L88.48,108.90 L90.59,109.00 L92.70,109.10 L94.82,109.21 L96.93,109.31 L99.04,109.41 L101.15,109.51 L103.26,109.62 L105.38,109.72 L107.49,109.82 L109.60,109.93 L111.71,110.03 L113.82,110.13 L115.94,110.23 L118.05,110.34 L120.16,110.44 L122.27,110.54 L124.38,110.64 L126.50,110.75 L128.61,110.85 L130.72,110.95 L132.83,111.05 L134.94,111.16 L137.06,111.26 L139.17,111.36 L141.28,111.46 L143.39,111.56 L145.50,111.66 L147.62,111.77 L149.73,111.87 L151.84,111.97 L153.95,112.07 L156.06,112.17 L158.18,112.27 L160.29,112.37 L162.40,112.47 L164.51,112.57 L166.62,112.67 L168.74,112.77 L170.85,112.87 L172.96,112.97 L175.07,113.07 L177.18,113.17 L179.30,113.27 L181.41,113.37 L183.52,113.47 L185.63,113.57 L187.74,113.67 L189.86,113.77 L191.97,113.86 L194.08,113.96 L196.19,114.06 L198.30,114.16 L200.42,114.25 L202.53,114.35 L204.64,114.45 L206.75,114.54 L208.86,114.64 L210.98,114.73 L213.09,114.83 L215.20,114.92 L217.31,115.02 L219.42,115.11 L221.54,115.20 L223.65,115.30 L225.76,115.39 L227.87,115.48 L229.98,115.57 L232.10,115.66 L234.21,115.75 L236.32,115.84 L238.43,115.93 L240.54,116.02 L242.66,116.10 L244.77,116.19 L246.88,116.27 L248.99,116.36 L251.10,116.44 L253.22,116.52 L255.33,116.60 L257.44,116.68 L259.55,116.76 L261.66,116.83 L263.78,116.91 L265.89,116.98 L268.00,117.05 L270.11,117.12 L272.22,117.18 L274.34,117.25 L276.45,117.31 L278.56,117.37 L280.67,117.43 L282.78,117.48 L284.90,117.53 L287.01,117.57 L289.12,117.62 L291.23,117.65 L293.34,117.69 L295.46,117.71 L297.57,117.73 L299.68,117.75 L301.79,117.76 L303.90,117.76 L306.02,117.75 L308.13,117.73 L310.24,117.70 L312.35,117.66 L314.46,117.61 L316.58,117.54 L318.69,117.46 L320.80,117.36 L322.91,117.24 L325.02,117.09 L327.14,116.92 L329.25,116.71 L331.36,116.48 L333.47,116.20 L335.58,115.88 L337.70,115.51 L339.81,115.07 L341.92,114.57 L344.03,113.98 L346.14,113.30 L348.26,112.50 L350.37,111.57 L352.48,110.48 L354.59,109.20 L356.70,107.69 L358.82,105.91 L360.93,103.81 L363.04,101.33 L365.15,98.39 L367.26,94.92 L369.38,90.84 L371.49,86.06 L373.60,80.57 L375.71,74.38 L377.82,67.63 L379.94,60.66 L382.05,53.98 L384.16,48.35 L386.27,44.57 L388.38,43.29 L390.50,44.78 L392.61,48.77 L394.72,54.61 L396.83,61.50 L398.94,68.69 L401.06,75.64 L403.17,82.04 L405.28,87.75 L407.39,92.73 L409.50,97.02 L411.62,100.71 L413.73,103.85 L415.84,106.55 L417.95,108.86 L420.06,110.84 L422.18,112.56 L424.29,114.05 L426.40,115.35 L428.51,116.49 L430.62,117.50 L432.74,118.40 L434.85,119.19 L436.96,119.91 L439.07,120.55 L441.18,121.14 L443.30,121.67 L445.41,122.16 L447.52,122.60 L449.63,123.02 L451.74,123.40 L453.86,123.75 L455.97,124.09 L458.08,124.40 L460.19,124.69 L462.30,124.97 L464.42,125.23 L466.53,125.48 L468.64,125.72 L470.75,125.95 L472.86,126.17 L474.98,126.38 L477.09,126.58 L479.20,126.78" stroke="#4fb98f" stroke-width="3.2"/>
<path d="M56.80,107.34 L58.91,107.45 L61.02,107.55 L63.14,107.65 L65.25,107.76 L67.36,107.86 L69.47,107.96 L71.58,108.07 L73.70,108.17 L75.81,108.27 L77.92,108.38 L80.03,108.48 L82.14,108.59 L84.26,108.69 L86.37,108.79 L88.48,108.90 L90.59,109.00 L92.70,109.10 L94.82,109.21 L96.93,109.31 L99.04,109.41 L101.15,109.51 L103.26,109.62 L105.38,109.72 L107.49,109.82 L109.60,109.93 L111.71,110.03 L113.82,110.13 L115.94,110.23 L118.05,110.34 L120.16,110.44 L122.27,110.54 L124.38,110.64 L126.50,110.75 L128.61,110.85 L130.72,110.95 L132.83,111.05 L134.94,111.16 L137.06,111.26 L139.17,111.36 L141.28,111.46 L143.39,111.56 L145.50,111.66 L147.62,111.77 L149.73,111.87 L151.84,111.97 L153.95,112.07 L156.06,112.17 L158.18,112.27 L160.29,112.37 L162.40,112.47 L164.51,112.57 L166.62,112.67 L168.74,112.77 L170.85,112.87 L172.96,112.97 L175.07,113.07 L177.18,113.17 L179.30,113.27 L181.41,113.37 L183.52,113.47 L185.63,113.57 L187.74,113.67 L189.86,113.77 L191.97,113.86 L194.08,113.96 L196.19,114.06 L198.30,114.16 L200.42,114.25 L202.53,114.35 L204.64,114.45 L206.75,114.54 L208.86,114.64 L210.98,114.73 L213.09,114.83 L215.20,114.92 L217.31,115.02 L219.42,115.11 L221.54,115.20 L223.65,115.30 L225.76,115.39 L227.87,115.48 L229.98,115.57 L232.10,115.66 L234.21,115.75 L236.32,115.84 L238.43,115.93 L240.54,116.02 L242.66,116.10 L244.77,116.19 L246.88,116.27 L248.99,116.36 L251.10,116.44 L253.22,116.52 L255.33,116.60 L257.44,116.68 L259.55,116.76 L261.66,116.83 L263.78,116.91 L265.89,116.98 L268.00,117.05 L270.11,117.12 L272.22,117.18 L274.34,117.25 L276.45,117.31 L278.56,117.37 L280.67,117.43 L282.78,117.48 L284.90,117.53 L287.01,117.57 L289.12,117.62 L291.23,117.65 L293.34,117.69 L295.46,117.71 L297.57,117.73 L299.68,117.75 L301.79,117.76 L303.90,117.76 L306.02,117.75 L308.13,117.73 L310.24,117.70 L312.35,117.66 L314.46,117.61 L316.58,117.54 L318.69,117.46 L320.80,117.36 L322.91,117.24 L325.02,117.09 L327.14,116.92 L329.25,116.71 L331.36,116.48 L333.47,116.20 L335.58,115.88 L337.70,115.51 L339.81,115.07 L341.92,114.57 L344.03,113.98 L346.14,113.30 L348.26,112.50 L350.37,111.57 L352.48,110.48 L354.59,109.20 L356.70,107.69 L358.82,105.91 L360.93,103.81 L363.04,101.33 L365.15,98.39 L367.26,94.92 L369.38,90.84 L371.49,86.06 L373.60,80.57 L375.71,74.38 L377.82,67.63 L379.94,60.66 L382.05,53.98 L384.16,48.35 L386.27,44.57 L388.38,43.29 L390.50,44.78 L392.61,48.77 L394.72,54.61 L396.83,61.50 L398.94,68.69 L401.06,75.64 L403.17,82.04 L405.28,87.75 L407.39,92.73 L409.50,97.02 L411.62,100.71 L413.73,103.85 L415.84,106.55 L417.95,108.86 L420.06,110.84 L422.18,112.56 L424.29,114.05 L426.40,115.35 L428.51,116.49 L430.62,117.50 L432.74,118.40 L434.85,119.19 L436.96,119.91 L439.07,120.55 L441.18,121.14 L443.30,121.67 L445.41,122.16 L447.52,122.60 L449.63,123.02 L451.74,123.40 L453.86,123.75 L455.97,124.09 L458.08,124.40 L460.19,124.69 L462.30,124.97 L464.42,125.23 L466.53,125.48 L468.64,125.72 L470.75,125.95 L472.86,126.17 L474.98,126.38 L477.09,126.58 L479.20,126.78" stroke="#fff" stroke-width="0.9" stroke-opacity="0.55" stroke-dasharray="1,1.3"/>
<path d="M56.80,119.36 L58.91,119.41 L61.02,119.46 L63.14,119.51 L65.25,119.56 L67.36,119.61 L69.47,119.67 L71.58,119.72 L73.70,119.77 L75.81,119.82 L77.92,119.87 L80.03,119.92 L82.14,119.97 L84.26,120.02 L86.37,120.08 L88.48,120.13 L90.59,120.18 L92.70,120.23 L94.82,120.28 L96.93,120.33 L99.04,120.38 L101.15,120.43 L103.26,120.48 L105.38,120.53 L107.49,120.58 L109.60,120.63 L111.71,120.69 L113.82,120.74 L115.94,120.79 L118.05,120.84 L120.16,120.89 L122.27,120.94 L124.38,120.99 L126.50,121.04 L128.61,121.09 L130.72,121.14 L132.83,121.19 L134.94,121.24 L137.06,121.29 L139.17,121.34 L141.28,121.39 L143.39,121.44 L145.50,121.49 L147.62,121.54 L149.73,121.59 L151.84,121.64 L153.95,121.69 L156.06,121.74 L158.18,121.78 L160.29,121.83 L162.40,121.88 L164.51,121.93 L166.62,121.98 L168.74,122.03 L170.85,122.08 L172.96,122.13 L175.07,122.18 L177.18,122.22 L179.30,122.27 L181.41,122.32 L183.52,122.37 L185.63,122.42 L187.74,122.46 L189.86,122.51 L191.97,122.56 L194.08,122.61 L196.19,122.65 L198.30,122.70 L200.42,122.75 L202.53,122.79 L204.64,122.84 L206.75,122.89 L208.86,122.93 L210.98,122.98 L213.09,123.02 L215.20,123.07 L217.31,123.11 L219.42,123.16 L221.54,123.20 L223.65,123.25 L225.76,123.29 L227.87,123.34 L229.98,123.38 L232.10,123.42 L234.21,123.47 L236.32,123.51 L238.43,123.55 L240.54,123.59 L242.66,123.63 L244.77,123.67 L246.88,123.71 L248.99,123.75 L251.10,123.79 L253.22,123.83 L255.33,123.87 L257.44,123.91 L259.55,123.94 L261.66,123.98 L263.78,124.02 L265.89,124.05 L268.00,124.09 L270.11,124.12 L272.22,124.15 L274.34,124.18 L276.45,124.21 L278.56,124.24 L280.67,124.27 L282.78,124.30 L284.90,124.32 L287.01,124.35 L289.12,124.37 L291.23,124.39 L293.34,124.41 L295.46,124.43 L297.57,124.45 L299.68,124.46 L301.79,124.48 L303.90,124.49 L306.02,124.49 L308.13,124.50 L310.24,124.50 L312.35,124.50 L314.46,124.50 L316.58,124.49 L318.69,124.48 L320.80,124.46 L322.91,124.44 L325.02,124.42 L327.14,124.39 L329.25,124.35 L331.36,124.31 L333.47,124.26 L335.58,124.20 L337.70,124.13 L339.81,124.06 L341.92,123.97 L344.03,123.88 L346.14,123.77 L348.26,123.65 L350.37,123.51 L352.48,123.35 L354.59,123.18 L356.70,122.98 L358.82,122.76 L360.93,122.51 L363.04,122.23 L365.15,121.92 L367.26,121.57 L369.38,121.17 L371.49,120.71 L373.60,120.20 L375.71,119.62 L377.82,118.96 L379.94,118.20 L382.05,117.34 L384.16,116.35 L386.27,115.21 L388.38,113.90 L390.50,112.37 L392.61,110.61 L394.72,108.56 L396.83,106.16 L398.94,103.37 L401.06,100.11 L403.17,96.30 L405.28,91.89 L407.39,86.81 L409.50,81.02 L411.62,74.58 L413.73,67.61 L415.84,60.40 L417.95,53.44 L420.06,47.36 L422.18,42.91 L424.29,40.74 L426.40,41.19 L428.51,44.21 L430.62,49.33 L432.74,55.85 L434.85,63.06 L436.96,70.34 L439.07,77.28 L441.18,83.64 L443.30,89.31 L445.41,94.30 L447.52,98.63 L449.63,102.36 L451.74,105.58 L453.86,108.36 L455.97,110.75 L458.08,112.81 L460.19,114.61 L462.30,116.17 L464.42,117.53 L466.53,118.73 L468.64,119.78 L470.75,120.72 L472.86,121.55 L474.98,122.29 L477.09,122.95 L479.20,123.55" stroke="#98a3d6" stroke-width="3.2"/>
<path d="M56.80,119.36 L58.91,119.41 L61.02,119.46 L63.14,119.51 L65.25,119.56 L67.36,119.61 L69.47,119.67 L71.58,119.72 L73.70,119.77 L75.81,119.82 L77.92,119.87 L80.03,119.92 L82.14,119.97 L84.26,120.02 L86.37,120.08 L88.48,120.13 L90.59,120.18 L92.70,120.23 L94.82,120.28 L96.93,120.33 L99.04,120.38 L101.15,120.43 L103.26,120.48 L105.38,120.53 L107.49,120.58 L109.60,120.63 L111.71,120.69 L113.82,120.74 L115.94,120.79 L118.05,120.84 L120.16,120.89 L122.27,120.94 L124.38,120.99 L126.50,121.04 L128.61,121.09 L130.72,121.14 L132.83,121.19 L134.94,121.24 L137.06,121.29 L139.17,121.34 L141.28,121.39 L143.39,121.44 L145.50,121.49 L147.62,121.54 L149.73,121.59 L151.84,121.64 L153.95,121.69 L156.06,121.74 L158.18,121.78 L160.29,121.83 L162.40,121.88 L164.51,121.93 L166.62,121.98 L168.74,122.03 L170.85,122.08 L172.96,122.13 L175.07,122.18 L177.18,122.22 L179.30,122.27 L181.41,122.32 L183.52,122.37 L185.63,122.42 L187.74,122.46 L189.86,122.51 L191.97,122.56 L194.08,122.61 L196.19,122.65 L198.30,122.70 L200.42,122.75 L202.53,122.79 L204.64,122.84 L206.75,122.89 L208.86,122.93 L210.98,122.98 L213.09,123.02 L215.20,123.07 L217.31,123.11 L219.42,123.16 L221.54,123.20 L223.65,123.25 L225.76,123.29 L227.87,123.34 L229.98,123.38 L232.10,123.42 L234.21,123.47 L236.32,123.51 L238.43,123.55 L240.54,123.59 L242.66,123.63 L244.77,123.67 L246.88,123.71 L248.99,123.75 L251.10,123.79 L253.22,123.83 L255.33,123.87 L257.44,123.91 L259.55,123.94 L261.66,123.98 L263.78,124.02 L265.89,124.05 L268.00,124.09 L270.11,124.12 L272.22,124.15 L274.34,124.18 L276.45,124.21 L278.56,124.24 L280.67,124.27 L282.78,124.30 L284.90,124.32 L287.01,124.35 L289.12,124.37 L291.23,124.39 L293.34,124.41 L295.46,124.43 L297.57,124.45 L299.68,124.46 L301.79,124.48 L303.90,124.49 L306.02,124.49 L308.13,124.50 L310.24,124.50 L312.35,124.50 L314.46,124.50 L316.58,124.49 L318.69,124.48 L320.80,124.46 L322.91,124.44 L325.02,124.42 L327.14,124.39 L329.25,124.35 L331.36,124.31 L333.47,124.26 L335.58,124.20 L337.70,124.13 L339.81,124.06 L341.92,123.97 L344.03,123.88 L346.14,123.77 L348.26,123.65 L350.37,123.51 L352.48,123.35 L354.59,123.18 L356.70,122.98 L358.82,122.76 L360.93,122.51 L363.04,122.23 L365.15,121.92 L367.26,121.57 L369.38,121.17 L371.49,120.71 L373.60,120.20 L375.71,119.62 L377.82,118.96 L379.94,118.20 L382.05,117.34 L384.16,116.35 L386.27,115.21 L388.38,113.90 L390.50,112.37 L392.61,110.61 L394.72,108.56 L396.83,106.16 L398.94,103.37 L401.06,100.11 L403.17,96.30 L405.28,91.89 L407.39,86.81 L409.50,81.02 L411.62,74.58 L413.73,67.61 L415.84,60.40 L417.95,53.44 L420.06,47.36 L422.18,42.91 L424.29,40.74 L426.40,41.19 L428.51,44.21 L430.62,49.33 L432.74,55.85 L434.85,63.06 L436.96,70.34 L439.07,77.28 L441.18,83.64 L443.30,89.31 L445.41,94.30 L447.52,98.63 L449.63,102.36 L451.74,105.58 L453.86,108.36 L455.97,110.75 L458.08,112.81 L460.19,114.61 L462.30,116.17 L464.42,117.53 L466.53,118.73 L468.64,119.78 L470.75,120.72 L472.86,121.55 L474.98,122.29 L477.09,122.95 L479.20,123.55" stroke="#fff" stroke-width="0.9" stroke-opacity="0.55" stroke-dasharray="1,1.3"/>
<path d="M56.80,116.37 L58.91,116.40 L61.02,116.43 L63.14,116.46 L65.25,116.49 L67.36,116.52 L69.47,116.55 L71.58,116.58 L73.70,116.61 L75.81,116.64 L77.92,116.66 L80.03,116.69 L82.14,116.72 L84.26,116.75 L86.37,116.78 L88.48,116.81 L90.59,116.84 L92.70,116.87 L94.82,116.90 L96.93,116.92 L99.04,116.95 L101.15,116.98 L103.26,117.01 L105.38,117.04 L107.49,117.07 L109.60,117.10 L111.71,117.13 L113.82,117.15 L115.94,117.18 L118.05,117.21 L120.16,117.24 L122.27,117.27 L124.38,117.30 L126.50,117.33 L128.61,117.35 L130.72,117.38 L132.83,117.41 L134.94,117.44 L137.06,117.47 L139.17,117.50 L141.28,117.52 L143.39,117.55 L145.50,117.58 L147.62,117.61 L149.73,117.64 L151.84,117.66 L153.95,117.69 L156.06,117.72 L158.18,117.75 L160.29,117.77 L162.40,117.80 L164.51,117.83 L166.62,117.86 L168.74,117.88 L170.85,117.91 L172.96,117.94 L175.07,117.97 L177.18,117.99 L179.30,118.02 L181.41,118.05 L183.52,118.07 L185.63,118.10 L187.74,118.13 L189.86,118.15 L191.97,118.18 L194.08,118.21 L196.19,118.23 L198.30,118.26 L200.42,118.29 L202.53,118.31 L204.64,118.34 L206.75,118.36 L208.86,118.39 L210.98,118.42 L213.09,118.44 L215.20,118.47 L217.31,118.49 L219.42,118.52 L221.54,118.54 L223.65,118.57 L225.76,118.59 L227.87,118.61 L229.98,118.64 L232.10,118.66 L234.21,118.69 L236.32,118.71 L238.43,118.73 L240.54,118.76 L242.66,118.78 L244.77,118.80 L246.88,118.82 L248.99,118.85 L251.10,118.87 L253.22,118.89 L255.33,118.91 L257.44,118.93 L259.55,118.95 L261.66,118.97 L263.78,118.99 L265.89,119.01 L268.00,119.03 L270.11,119.05 L272.22,119.07 L274.34,119.08 L276.45,119.10 L278.56,119.12 L280.67,119.13 L282.78,119.15 L284.90,119.16 L287.01,119.18 L289.12,119.19 L291.23,119.20 L293.34,119.21 L295.46,119.23 L297.57,119.24 L299.68,119.24 L301.79,119.25 L303.90,119.26 L306.02,119.26 L308.13,119.27 L310.24,119.27 L312.35,119.27 L314.46,119.27 L316.58,119.27 L318.69,119.27 L320.80,119.26 L322.91,119.26 L325.02,119.25 L327.14,119.24 L329.25,119.22 L331.36,119.21 L333.47,119.19 L335.58,119.16 L337.70,119.14 L339.81,119.11 L341.92,119.08 L344.03,119.04 L346.14,119.00 L348.26,118.95 L350.37,118.89 L352.48,118.84 L354.59,118.77 L356.70,118.70 L358.82,118.61 L360.93,118.52 L363.04,118.42 L365.15,118.31 L367.26,118.19 L369.38,118.05 L371.49,117.90 L373.60,117.73 L375.71,117.54 L377.82,117.33 L379.94,117.10 L382.05,116.83 L384.16,116.54 L386.27,116.21 L388.38,115.84 L390.50,115.43 L392.61,114.96 L394.72,114.43 L396.83,113.83 L398.94,113.14 L401.06,112.36 L403.17,111.46 L405.28,110.43 L407.39,109.24 L409.50,107.86 L411.62,106.25 L413.73,104.38 L415.84,102.19 L417.95,99.63 L420.06,96.62 L422.18,93.09 L424.29,88.96 L426.40,84.16 L428.51,78.65 L430.62,72.44 L432.74,65.62 L434.85,58.46 L436.96,51.43 L439.07,45.18 L441.18,40.49 L443.30,38.10 L445.41,38.40 L447.52,41.36 L449.63,46.48 L451.74,53.01 L453.86,60.18 L455.97,67.36 L458.08,74.13 L460.19,80.27 L462.30,85.70 L464.42,90.41 L466.53,94.48 L468.64,97.95 L470.75,100.93 L472.86,103.47 L474.98,105.65 L477.09,107.53 L479.20,109.15" stroke="#e46fb0" stroke-width="3.2"/>
<path d="M56.80,116.37 L58.91,116.40 L61.02,116.43 L63.14,116.46 L65.25,116.49 L67.36,116.52 L69.47,116.55 L71.58,116.58 L73.70,116.61 L75.81,116.64 L77.92,116.66 L80.03,116.69 L82.14,116.72 L84.26,116.75 L86.37,116.78 L88.48,116.81 L90.59,116.84 L92.70,116.87 L94.82,116.90 L96.93,116.92 L99.04,116.95 L101.15,116.98 L103.26,117.01 L105.38,117.04 L107.49,117.07 L109.60,117.10 L111.71,117.13 L113.82,117.15 L115.94,117.18 L118.05,117.21 L120.16,117.24 L122.27,117.27 L124.38,117.30 L126.50,117.33 L128.61,117.35 L130.72,117.38 L132.83,117.41 L134.94,117.44 L137.06,117.47 L139.17,117.50 L141.28,117.52 L143.39,117.55 L145.50,117.58 L147.62,117.61 L149.73,117.64 L151.84,117.66 L153.95,117.69 L156.06,117.72 L158.18,117.75 L160.29,117.77 L162.40,117.80 L164.51,117.83 L166.62,117.86 L168.74,117.88 L170.85,117.91 L172.96,117.94 L175.07,117.97 L177.18,117.99 L179.30,118.02 L181.41,118.05 L183.52,118.07 L185.63,118.10 L187.74,118.13 L189.86,118.15 L191.97,118.18 L194.08,118.21 L196.19,118.23 L198.30,118.26 L200.42,118.29 L202.53,118.31 L204.64,118.34 L206.75,118.36 L208.86,118.39 L210.98,118.42 L213.09,118.44 L215.20,118.47 L217.31,118.49 L219.42,118.52 L221.54,118.54 L223.65,118.57 L225.76,118.59 L227.87,118.61 L229.98,118.64 L232.10,118.66 L234.21,118.69 L236.32,118.71 L238.43,118.73 L240.54,118.76 L242.66,118.78 L244.77,118.80 L246.88,118.82 L248.99,118.85 L251.10,118.87 L253.22,118.89 L255.33,118.91 L257.44,118.93 L259.55,118.95 L261.66,118.97 L263.78,118.99 L265.89,119.01 L268.00,119.03 L270.11,119.05 L272.22,119.07 L274.34,119.08 L276.45,119.10 L278.56,119.12 L280.67,119.13 L282.78,119.15 L284.90,119.16 L287.01,119.18 L289.12,119.19 L291.23,119.20 L293.34,119.21 L295.46,119.23 L297.57,119.24 L299.68,119.24 L301.79,119.25 L303.90,119.26 L306.02,119.26 L308.13,119.27 L310.24,119.27 L312.35,119.27 L314.46,119.27 L316.58,119.27 L318.69,119.27 L320.80,119.26 L322.91,119.26 L325.02,119.25 L327.14,119.24 L329.25,119.22 L331.36,119.21 L333.47,119.19 L335.58,119.16 L337.70,119.14 L339.81,119.11 L341.92,119.08 L344.03,119.04 L346.14,119.00 L348.26,118.95 L350.37,118.89 L352.48,118.84 L354.59,118.77 L356.70,118.70 L358.82,118.61 L360.93,118.52 L363.04,118.42 L365.15,118.31 L367.26,118.19 L369.38,118.05 L371.49,117.90 L373.60,117.73 L375.71,117.54 L377.82,117.33 L379.94,117.10 L382.05,116.83 L384.16,116.54 L386.27,116.21 L388.38,115.84 L390.50,115.43 L392.61,114.96 L394.72,114.43 L396.83,113.83 L398.94,113.14 L401.06,112.36 L403.17,111.46 L405.28,110.43 L407.39,109.24 L409.50,107.86 L411.62,106.25 L413.73,104.38 L415.84,102.19 L417.95,99.63 L420.06,96.62 L422.18,93.09 L424.29,88.96 L426.40,84.16 L428.51,78.65 L430.62,72.44 L432.74,65.62 L434.85,58.46 L436.96,51.43 L439.07,45.18 L441.18,40.49 L443.30,38.10 L445.41,38.40 L447.52,41.36 L449.63,46.48 L451.74,53.01 L453.86,60.18 L455.97,67.36 L458.08,74.13 L460.19,80.27 L462.30,85.70 L464.42,90.41 L466.53,94.48 L468.64,97.95 L470.75,100.93 L472.86,103.47 L474.98,105.65 L477.09,107.53 L479.20,109.15" stroke="#fff" stroke-width="0.9" stroke-opacity="0.55" stroke-dasharray="1,1.3"/>
<path d="M56.80,119.45 L58.91,119.51 L61.02,119.57 L63.14,119.63 L65.25,119.69 L67.36,119.75 L69.47,119.81 L71.58,119.87 L73.70,119.93 L75.81,119.99 L77.92,120.05 L80.03,120.11 L82.14,120.17 L84.26,120.23 L86.37,120.29 L88.48,120.35 L90.59,120.41 L92.70,120.47 L94.82,120.53 L96.93,120.59 L99.04,120.65 L101.15,120.71 L103.26,120.77 L105.38,120.83 L107.49,120.89 L109.60,120.95 L111.71,121.01 L113.82,121.07 L115.94,121.13 L118.05,121.19 L120.16,121.25 L122.27,121.31 L124.38,121.37 L126.50,121.43 L128.61,121.49 L130.72,121.55 L132.83,121.61 L134.94,121.67 L137.06,121.73 L139.17,121.79 L141.28,121.85 L143.39,121.91 L145.50,121.97 L147.62,122.03 L149.73,122.09 L151.84,122.15 L153.95,122.21 L156.06,122.27 L158.18,122.33 L160.29,122.39 L162.40,122.45 L164.51,122.51 L166.62,122.57 L168.74,122.63 L170.85,122.69 L172.96,122.75 L175.07,122.81 L177.18,122.87 L179.30,122.93 L181.41,122.99 L183.52,123.05 L185.63,123.11 L187.74,123.17 L189.86,123.23 L191.97,123.29 L194.08,123.35 L196.19,123.41 L198.30,123.47 L200.42,123.53 L202.53,123.59 L204.64,123.65 L206.75,123.71 L208.86,123.77 L210.98,123.83 L213.09,123.89 L215.20,123.95 L217.31,124.01 L219.42,124.07 L221.54,124.13 L223.65,124.19 L225.76,124.25 L227.87,124.31 L229.98,124.37 L232.10,124.43 L234.21,124.49 L236.32,124.55 L238.43,124.61 L240.54,124.67 L242.66,124.73 L244.77,124.79 L246.88,124.85 L248.99,124.91 L251.10,124.97 L253.22,125.03 L255.33,125.09 L257.44,125.15 L259.55,125.21 L261.66,125.27 L263.78,125.33 L265.89,125.39 L268.00,125.45 L270.11,125.51 L272.22,125.57 L274.34,125.63 L276.45,125.69 L278.56,125.75 L280.67,125.81 L282.78,125.87 L284.90,125.93 L287.01,125.99 L289.12,126.05 L291.23,126.11 L293.34,126.17 L295.46,126.24 L297.57,126.30 L299.68,126.36 L301.79,126.42 L303.90,126.48 L306.02,126.54 L308.13,126.60 L310.24,126.66 L312.35,126.72 L314.46,126.78 L316.58,126.84 L318.69,126.90 L320.80,126.96 L322.91,127.02 L325.02,127.08 L327.14,127.14 L329.25,127.20 L331.36,127.26 L333.47,127.32 L335.58,127.38 L337.70,127.44 L339.81,127.50 L341.92,127.56 L344.03,127.62 L346.14,127.68 L348.26,127.74 L350.37,127.80 L352.48,127.86 L354.59,127.92 L356.70,127.98 L358.82,128.04 L360.93,128.10 L363.04,128.16 L365.15,128.22 L367.26,128.28 L369.38,128.34 L371.49,128.40 L373.60,128.46 L375.71,128.52 L377.82,128.58 L379.94,128.64 L382.05,128.70 L384.16,128.76 L386.27,128.82 L388.38,128.88 L390.50,128.94 L392.61,129.00 L394.72,129.06 L396.83,129.12 L398.94,129.18 L401.06,129.24 L403.17,129.30 L405.28,129.36 L407.39,129.42 L409.50,129.48 L411.62,129.54 L413.73,129.60 L415.84,129.66 L417.95,129.72 L420.06,129.78 L422.18,129.84 L424.29,129.90 L426.40,129.96 L428.51,130.02 L430.62,130.08 L432.74,130.14 L434.85,130.20 L436.96,130.26 L439.07,130.32 L441.18,130.38 L443.30,130.44 L445.41,130.50 L447.52,130.56 L449.63,130.62 L451.74,130.68 L453.86,130.74 L455.97,130.80 L458.08,130.86 L460.19,130.92 L462.30,130.98 L464.42,131.04 L466.53,131.10 L468.64,131.16 L470.75,131.22 L472.86,131.28 L474.98,131.34 L477.09,131.40 L479.20,131.46" stroke="#c3b3dc" stroke-width="3.2"/>
<path d="M56.80,119.45 L58.91,119.51 L61.02,119.57 L63.14,119.63 L65.25,119.69 L67.36,119.75 L69.47,119.81 L71.58,119.87 L73.70,119.93 L75.81,119.99 L77.92,120.05 L80.03,120.11 L82.14,120.17 L84.26,120.23 L86.37,120.29 L88.48,120.35 L90.59,120.41 L92.70,120.47 L94.82,120.53 L96.93,120.59 L99.04,120.65 L101.15,120.71 L103.26,120.77 L105.38,120.83 L107.49,120.89 L109.60,120.95 L111.71,121.01 L113.82,121.07 L115.94,121.13 L118.05,121.19 L120.16,121.25 L122.27,121.31 L124.38,121.37 L126.50,121.43 L128.61,121.49 L130.72,121.55 L132.83,121.61 L134.94,121.67 L137.06,121.73 L139.17,121.79 L141.28,121.85 L143.39,121.91 L145.50,121.97 L147.62,122.03 L149.73,122.09 L151.84,122.15 L153.95,122.21 L156.06,122.27 L158.18,122.33 L160.29,122.39 L162.40,122.45 L164.51,122.51 L166.62,122.57 L168.74,122.63 L170.85,122.69 L172.96,122.75 L175.07,122.81 L177.18,122.87 L179.30,122.93 L181.41,122.99 L183.52,123.05 L185.63,123.11 L187.74,123.17 L189.86,123.23 L191.97,123.29 L194.08,123.35 L196.19,123.41 L198.30,123.47 L200.42,123.53 L202.53,123.59 L204.64,123.65 L206.75,123.71 L208.86,123.77 L210.98,123.83 L213.09,123.89 L215.20,123.95 L217.31,124.01 L219.42,124.07 L221.54,124.13 L223.65,124.19 L225.76,124.25 L227.87,124.31 L229.98,124.37 L232.10,124.43 L234.21,124.49 L236.32,124.55 L238.43,124.61 L240.54,124.67 L242.66,124.73 L244.77,124.79 L246.88,124.85 L248.99,124.91 L251.10,124.97 L253.22,125.03 L255.33,125.09 L257.44,125.15 L259.55,125.21 L261.66,125.27 L263.78,125.33 L265.89,125.39 L268.00,125.45 L270.11,125.51 L272.22,125.57 L274.34,125.63 L276.45,125.69 L278.56,125.75 L280.67,125.81 L282.78,125.87 L284.90,125.93 L287.01,125.99 L289.12,126.05 L291.23,126.11 L293.34,126.17 L295.46,126.24 L297.57,126.30 L299.68,126.36 L301.79,126.42 L303.90,126.48 L306.02,126.54 L308.13,126.60 L310.24,126.66 L312.35,126.72 L314.46,126.78 L316.58,126.84 L318.69,126.90 L320.80,126.96 L322.91,127.02 L325.02,127.08 L327.14,127.14 L329.25,127.20 L331.36,127.26 L333.47,127.32 L335.58,127.38 L337.70,127.44 L339.81,127.50 L341.92,127.56 L344.03,127.62 L346.14,127.68 L348.26,127.74 L350.37,127.80 L352.48,127.86 L354.59,127.92 L356.70,127.98 L358.82,128.04 L360.93,128.10 L363.04,128.16 L365.15,128.22 L367.26,128.28 L369.38,128.34 L371.49,128.40 L373.60,128.46 L375.71,128.52 L377.82,128.58 L379.94,128.64 L382.05,128.70 L384.16,128.76 L386.27,128.82 L388.38,128.88 L390.50,128.94 L392.61,129.00 L394.72,129.06 L396.83,129.12 L398.94,129.18 L401.06,129.24 L403.17,129.30 L405.28,129.36 L407.39,129.42 L409.50,129.48 L411.62,129.54 L413.73,129.60 L415.84,129.66 L417.95,129.72 L420.06,129.78 L422.18,129.84 L424.29,129.90 L426.40,129.96 L428.51,130.02 L430.62,130.08 L432.74,130.14 L434.85,130.20 L436.96,130.26 L439.07,130.32 L441.18,130.38 L443.30,130.44 L445.41,130.50 L447.52,130.56 L449.63,130.62 L451.74,130.68 L453.86,130.74 L455.97,130.80 L458.08,130.86 L460.19,130.92 L462.30,130.98 L464.42,131.04 L466.53,131.10 L468.64,131.16 L470.75,131.22 L472.86,131.28 L474.98,131.34 L477.09,131.40 L479.20,131.46" stroke="#fff" stroke-width="0.9" stroke-opacity="0.55" stroke-dasharray="1,1.3"/>
</g>
<g stroke="#000" stroke-width="1.2" fill="none">
<rect x="56.8" y="9.8" width="422.4" height="150.2"/>
<line x1="56.80" y1="160" x2="56.80" y2="163.8"/>
<line x1="109.60" y1="160" x2="109.60" y2="163.8"/>
<line x1="162.40" y1="160" x2="162.40" y2="163.8"/>
<line x1="215.20" y1="160" x2="215.20" y2="163.8"/>
<line x1="268.00" y1="160" x2="268.00" y2="163.8"/>
<line x1="320.80" y1="160" x2="320.80" y2="163.8"/>
<line x1="373.60" y1="160" x2="373.60" y2="163.8"/>
<line x1="426.40" y1="160" x2="426.40" y2="163.8"/>
<line x1="479.20" y1="160" x2="479.20" y2="163.8"/>
<line x1="83.20" y1="160" x2="83.20" y2="162.3"/>
<line x1="136.00" y1="160" x2="136.00" y2="162.3"/>
<line x1="188.80" y1="160" x2="188.80" y2="162.3"/>
<line x1="241.60" y1="160" x2="241.60" y2="162.3"/>
<line x1="294.40" y1="160" x2="294.40" y2="162.3"/>
<line x1="347.20" y1="160" x2="347.20" y2="162.3"/>
<line x1="400.00" y1="160" x2="400.00" y2="162.3"/>
<line x1="452.80" y1="160" x2="452.80" y2="162.3"/>
<line x1="52.8" y1="160.00" x2="56.8" y2="160.00"/>
<line x1="52.8" y1="129.96" x2="56.8" y2="129.96"/>
<line x1="52.8" y1="99.92" x2="56.8" y2="99.92"/>
<line x1="52.8" y1="69.88" x2="56.8" y2="69.88"/>
<line x1="52.8" y1="39.84" x2="56.8" y2="39.84"/>
<line x1="52.8" y1="9.80" x2="56.8" y2="9.80"/>
<line x1="54.5" y1="144.98" x2="56.8" y2="144.98"/>
<line x1="54.5" y1="114.94" x2="56.8" y2="114.94"/>
<line x1="54.5" y1="84.90" x2="56.8" y2="84.90"/>
<line x1="54.5" y1="54.86" x2="56.8" y2="54.86"/>
<line x1="54.5" y1="24.82" x2="56.8" y2="24.82"/>
</g>
<g font-family="Liberation Serif" font-size="10.8" fill="#111">
<text x="57.00" y="176.4" text-anchor="middle">350</text>
<text x="109.80" y="176.4" text-anchor="middle">400</text>
<text x="162.60" y="176.4" text-anchor="middle">450</text>
<text x="215.40" y="176.4" text-anchor="middle">500</text>
<text x="268.20" y="176.4" text-anchor="middle">550</text>
<text x="321.00" y="176.4" text-anchor="middle">600</text>
<text x="373.80" y="176.4" text-anchor="middle">650</text>
<text x="426.60" y="176.4" text-anchor="middle">700</text>
<text x="479.40" y="176.4" text-anchor="middle">750</text>
<text x="49.9" y="163.60" text-anchor="end">0.0</text>
<text x="49.9" y="133.56" text-anchor="end">0.2</text>
<text x="49.9" y="103.52" text-anchor="end">0.4</text>
<text x="49.9" y="73.48" text-anchor="end">0.6</text>
<text x="49.9" y="43.44" text-anchor="end">0.8</text>
<text x="49.9" y="13.40" text-anchor="end">1.0</text>
</g>
<text x="261.5" y="194.4" text-anchor="middle" font-family="Liberation Serif" font-size="10.5" fill="#111">Frequency (Hz)</text>
<text transform="translate(21.5,78) rotate(-90)" text-anchor="middle" font-family="Liberation Serif" font-size="10.9" fill="#111">Sound absorption coefficient</text>
<text x="273.2" y="216.5" text-anchor="middle" font-family="Liberation Serif" font-size="11" fill="#111">(<tspan font-weight="bold">a</tspan>)</text>
<rect x="480" y="9.6" width="56" height="150.4" fill="#fff" stroke="#666" stroke-width="0.8"/>
<line x1="480.5" y1="13.50" x2="490.3" y2="13.50" stroke="#30268e" stroke-width="0.7" stroke-opacity="0.8"/>
<rect x="483.78" y="11.88" width="3.23" height="3.23" fill="#fff" stroke="#30268e" stroke-width="1.1"/>
<text x="490.8" y="15.80" font-family="Liberation Serif" font-size="6.05" fill="#333" stroke="#333" stroke-width="0.15">Simulation Data</text>
<line x1="480.5" y1="20.95" x2="490.3" y2="20.95" stroke="#62c79c" stroke-width="0.7" stroke-opacity="0.8"/>
<circle cx="485.40" cy="20.95" r="1.71" fill="#fff" fill-opacity="0.6" stroke="#62c79c" stroke-width="0.9"/>
<text x="491.8" y="23.25" font-family="Liberation Serif" font-size="6.05" fill="#333" stroke="#333" stroke-width="0.15">structure 1</text>
<line x1="480.5" y1="28.40" x2="490.3" y2="28.40" stroke="#98a3d6" stroke-width="0.7" stroke-opacity="0.8"/>
<polygon points="485.40,26.31 487.30,29.73 483.50,29.73" fill="#fff" fill-opacity="0.6" stroke="#98a3d6" stroke-width="0.9"/>
<text x="491.8" y="30.70" font-family="Liberation Serif" font-size="6.05" fill="#333" stroke="#333" stroke-width="0.15">structure 2</text>
<line x1="480.5" y1="35.85" x2="490.3" y2="35.85" stroke="#e87bb6" stroke-width="0.7" stroke-opacity="0.8"/>
<polygon points="485.40,37.94 487.30,34.52 483.50,34.52" fill="#fff" fill-opacity="0.6" stroke="#e87bb6" stroke-width="0.9"/>
<text x="491.8" y="38.15" font-family="Liberation Serif" font-size="6.05" fill="#333" stroke="#333" stroke-width="0.15">structure 3</text>
<line x1="480.5" y1="43.30" x2="490.3" y2="43.30" stroke="#9ccf5a" stroke-width="0.7" stroke-opacity="0.8"/>
<polygon points="485.40,41.21 487.49,43.30 485.40,45.39 483.31,43.30" fill="#fff" fill-opacity="0.6" stroke="#9ccf5a" stroke-width="0.9"/>
<text x="491.8" y="45.60" font-family="Liberation Serif" font-size="6.05" fill="#333" stroke="#333" stroke-width="0.15">structure 4</text>
<line x1="480.5" y1="50.75" x2="490.3" y2="50.75" stroke="#f2cf2c" stroke-width="0.7" stroke-opacity="0.8"/>
<polygon points="483.31,50.75 486.73,48.85 486.73,52.65" fill="#fff" fill-opacity="0.6" stroke="#f2cf2c" stroke-width="0.9"/>
<text x="491.8" y="53.05" font-family="Liberation Serif" font-size="6.05" fill="#333" stroke="#333" stroke-width="0.15">structure 5</text>
<line x1="480.5" y1="58.20" x2="490.3" y2="58.20" stroke="#dfc08a" stroke-width="0.7" stroke-opacity="0.8"/>
<polygon points="487.49,58.20 484.07,56.30 484.07,60.10" fill="#fff" fill-opacity="0.6" stroke="#dfc08a" stroke-width="0.9"/>
<text x="491.8" y="60.50" font-family="Liberation Serif" font-size="6.05" fill="#333" stroke="#333" stroke-width="0.15">structure 6</text>
<line x1="480.5" y1="65.65" x2="490.3" y2="65.65" stroke="#c3b3dc" stroke-width="0.7" stroke-opacity="0.8"/>
<polygon points="487.30,65.65 486.35,67.30 484.45,67.30 483.50,65.65 484.45,64.00 486.35,64.00" fill="#fff" fill-opacity="0.6" stroke="#c3b3dc" stroke-width="0.9"/>
<text x="491.8" y="67.95" font-family="Liberation Serif" font-size="6.05" fill="#333" stroke="#333" stroke-width="0.15">structure 7</text>
<line x1="480.5" y1="73.10" x2="490.3" y2="73.10" stroke="#ee7c52" stroke-width="0.7" stroke-opacity="0.8"/>
<polygon points="485.40,70.82 485.96,72.33 487.57,72.40 486.30,73.39 486.74,74.94 485.40,74.05 484.06,74.94 484.50,73.39 483.23,72.40 484.84,72.33" fill="#ee7c52" stroke="none"/>
<text x="491.8" y="75.40" font-family="Liberation Serif" font-size="6.05" fill="#333" stroke="#333" stroke-width="0.15">structure 8</text>
<line x1="480.5" y1="80.55" x2="490.3" y2="80.55" stroke="#62c79c" stroke-width="0.7" stroke-opacity="0.8"/>
<polygon points="485.40,78.65 487.21,79.96 486.52,82.09 484.28,82.09 483.59,79.96" fill="#fff" fill-opacity="0.6" stroke="#62c79c" stroke-width="0.9"/>
<text x="491.8" y="82.85" font-family="Liberation Serif" font-size="6.05" fill="#333" stroke="#333" stroke-width="0.15">structure 9</text>
<line x1="480.5" y1="88.00" x2="490.3" y2="88.00" stroke="#98a3d6" stroke-width="0.7" stroke-opacity="0.8"/>
<circle cx="485.40" cy="88.00" r="1.71" fill="#fff" fill-opacity="0.6" stroke="#98a3d6" stroke-width="0.9"/>
<text x="491.8" y="90.30" font-family="Liberation Serif" font-size="6.05" fill="#333" stroke="#333" stroke-width="0.15">structure 10</text>
<line x1="480.5" y1="95.45" x2="490.3" y2="95.45" stroke="#e87bb6" stroke-width="0.7" stroke-opacity="0.8"/>
<rect x="483.78" y="93.84" width="3.23" height="3.23" fill="#fff" stroke="#e87bb6" stroke-width="1.1"/>
<text x="491.8" y="97.75" font-family="Liberation Serif" font-size="6.05" fill="#333" stroke="#333" stroke-width="0.15">structure 11</text>
<line x1="480.5" y1="102.90" x2="490.3" y2="102.90" stroke="#9ccf5a" stroke-width="0.7" stroke-opacity="0.8"/>
<circle cx="485.40" cy="102.90" r="1.71" fill="#fff" fill-opacity="0.6" stroke="#9ccf5a" stroke-width="0.9"/>
<text x="491.8" y="105.20" font-family="Liberation Serif" font-size="6.05" fill="#333" stroke="#333" stroke-width="0.15">structure 12</text>
<line x1="480.5" y1="110.35" x2="490.3" y2="110.35" stroke="#f2cf2c" stroke-width="0.7" stroke-opacity="0.8"/>
<polygon points="485.40,108.26 487.30,111.68 483.50,111.68" fill="#fff" fill-opacity="0.6" stroke="#f2cf2c" stroke-width="0.9"/>
<text x="491.8" y="112.65" font-family="Liberation Serif" font-size="6.05" fill="#333" stroke="#333" stroke-width="0.15">structure 13</text>
<line x1="480.5" y1="117.80" x2="490.3" y2="117.80" stroke="#dfc08a" stroke-width="0.7" stroke-opacity="0.8"/>
<polygon points="485.40,119.89 487.30,116.47 483.50,116.47" fill="#fff" fill-opacity="0.6" stroke="#dfc08a" stroke-width="0.9"/>
<text x="491.8" y="120.10" font-family="Liberation Serif" font-size="6.05" fill="#333" stroke="#333" stroke-width="0.15">structure 14</text>
<line x1="480.5" y1="125.25" x2="490.3" y2="125.25" stroke="#b4b8c0" stroke-width="0.7" stroke-opacity="0.8"/>
<polygon points="485.40,123.16 487.49,125.25 485.40,127.34 483.31,125.25" fill="#fff" fill-opacity="0.6" stroke="#b4b8c0" stroke-width="0.9"/>
<text x="491.8" y="127.55" font-family="Liberation Serif" font-size="6.05" fill="#333" stroke="#333" stroke-width="0.15">structure 15</text>
<line x1="480.5" y1="132.70" x2="490.3" y2="132.70" stroke="#ee7c52" stroke-width="0.7" stroke-opacity="0.8"/>
<polygon points="483.31,132.70 486.73,130.80 486.73,134.60" fill="#fff" fill-opacity="0.6" stroke="#ee7c52" stroke-width="0.9"/>
<text x="491.8" y="135.00" font-family="Liberation Serif" font-size="6.05" fill="#333" stroke="#333" stroke-width="0.15">structure 16</text>
<line x1="480.5" y1="140.15" x2="490.3" y2="140.15" stroke="#4fb98f" stroke-width="0.7" stroke-opacity="0.8"/>
<polygon points="487.49,140.15 484.07,138.25 484.07,142.05" fill="#fff" fill-opacity="0.6" stroke="#4fb98f" stroke-width="0.9"/>
<text x="491.8" y="142.45" font-family="Liberation Serif" font-size="6.05" fill="#333" stroke="#333" stroke-width="0.15">structure 17</text>
<line x1="480.5" y1="147.60" x2="490.3" y2="147.60" stroke="#98a3d6" stroke-width="0.7" stroke-opacity="0.8"/>
<polygon points="487.30,147.60 486.35,149.25 484.45,149.25 483.50,147.60 484.45,145.95 486.35,145.95" fill="#fff" fill-opacity="0.6" stroke="#98a3d6" stroke-width="0.9"/>
<text x="491.8" y="149.90" font-family="Liberation Serif" font-size="6.05" fill="#333" stroke="#333" stroke-width="0.15">structure 18</text>
<line x1="480.5" y1="155.05" x2="490.3" y2="155.05" stroke="#e46fb0" stroke-width="0.7" stroke-opacity="0.8"/>
<polygon points="485.40,152.77 485.96,154.28 487.57,154.35 486.30,155.34 486.74,156.89 485.40,156.00 484.06,156.89 484.50,155.34 483.23,154.35 484.84,154.28" fill="#e46fb0" stroke="none"/>
<text x="491.8" y="157.35" font-family="Liberation Serif" font-size="6.05" fill="#333" stroke="#333" stroke-width="0.15">structure 19</text>
<path d="M33.10,241.30H59.90V286.30H33.10Z M40.60,241.30V261.30A5.90,5.90 0 0 0 52.40,261.30V241.30Z" fill="rgb(8,8,145)" fill-opacity="0.58" fill-rule="evenodd"/>
<path d="M40.60,241.30V261.30A5.90,5.90 0 0 0 52.40,261.30V241.30" fill="none" stroke="#c0c0e0" stroke-width="0.6" stroke-opacity="0.80"/>
<rect x="43.50" y="238.30" width="6.00" height="23.00" rx="3" ry="1.8" fill="rgb(8,8,145)" fill-opacity="0.5"/>
<line x1="46.50" y1="260.80" x2="46.50" y2="286.30" stroke="#a8a8d8" stroke-width="1.7" stroke-opacity="0.6"/>
<g fill="none" stroke="#8c8c9c" stroke-width="0.5">
<polyline points="33.10,246.05 33.10,237.55 46.50,233.30 59.90,237.55 59.90,246.05"/>
<polyline points="33.10,246.05 46.50,250.30 59.90,246.05" stroke="#202070" stroke-opacity="0.35"/>
<polyline points="33.10,280.55 33.10,289.05 46.50,293.30 59.90,289.05"/>
<polyline points="33.10,289.05 33.10,280.55 46.50,276.30 59.90,280.55" stroke="#202070" stroke-opacity="0.35"/>
<polyline points="59.90,280.55 59.90,289.05"/>
<line x1="33.10" y1="237.55" x2="33.10" y2="280.55"/>
<line x1="59.90" y1="237.55" x2="59.90" y2="280.55"/>
<line x1="46.50" y1="250.30" x2="46.50" y2="293.30"/>
</g>
<path d="M62.60,241.30H89.40V286.30H62.60Z M70.10,241.30V261.30A5.90,5.90 0 0 0 81.90,261.30V241.30Z" fill="rgb(8,8,145)" fill-opacity="0.58" fill-rule="evenodd"/>
<path d="M70.10,241.30V261.30A5.90,5.90 0 0 0 81.90,261.30V241.30" fill="none" stroke="#c0c0e0" stroke-width="0.6" stroke-opacity="0.80"/>
<rect x="73.00" y="238.30" width="6.00" height="23.00" rx="3" ry="1.8" fill="rgb(8,8,145)" fill-opacity="0.5"/>
<line x1="76.00" y1="260.80" x2="76.00" y2="286.30" stroke="#a8a8d8" stroke-width="1.7" stroke-opacity="0.6"/>
<g fill="none" stroke="#8c8c9c" stroke-width="0.5">
<polyline points="62.60,246.05 62.60,237.55 76.00,233.30 89.40,237.55 89.40,246.05"/>
<polyline points="62.60,246.05 76.00,250.30 89.40,246.05" stroke="#202070" stroke-opacity="0.35"/>
<polyline points="62.60,280.55 62.60,289.05 76.00,293.30 89.40,289.05"/>
<polyline points="62.60,289.05 62.60,280.55 76.00,276.30 89.40,280.55" stroke="#202070" stroke-opacity="0.35"/>
<polyline points="89.40,280.55 89.40,289.05"/>
<line x1="62.60" y1="237.55" x2="62.60" y2="280.55"/>
<line x1="89.40" y1="237.55" x2="89.40" y2="280.55"/>
<line x1="76.00" y1="250.30" x2="76.00" y2="293.30"/>
</g>
<path d="M92.10,241.30H118.90V286.30H92.10Z M99.60,241.30V261.30A5.90,5.90 0 0 0 111.40,261.30V241.30Z" fill="rgb(8,8,145)" fill-opacity="0.58" fill-rule="evenodd"/>
<path d="M99.60,241.30V261.30A5.90,5.90 0 0 0 111.40,261.30V241.30" fill="none" stroke="#c0c0e0" stroke-width="0.6" stroke-opacity="0.80"/>
<rect x="102.50" y="238.30" width="6.00" height="23.00" rx="3" ry="1.8" fill="rgb(8,8,145)" fill-opacity="0.5"/>
<line x1="105.50" y1="260.80" x2="105.50" y2="286.30" stroke="#a8a8d8" stroke-width="1.7" stroke-opacity="0.6"/>
<g fill="none" stroke="#8c8c9c" stroke-width="0.5">
<polyline points="92.10,246.05 92.10,237.55 105.50,233.30 118.90,237.55 118.90,246.05"/>
<polyline points="92.10,246.05 105.50,250.30 118.90,246.05" stroke="#202070" stroke-opacity="0.35"/>
<polyline points="92.10,280.55 92.10,289.05 105.50,293.30 118.90,289.05"/>
<polyline points="92.10,289.05 92.10,280.55 105.50,276.30 118.90,280.55" stroke="#202070" stroke-opacity="0.35"/>
<polyline points="118.90,280.55 118.90,289.05"/>
<line x1="92.10" y1="237.55" x2="92.10" y2="280.55"/>
<line x1="118.90" y1="237.55" x2="118.90" y2="280.55"/>
<line x1="105.50" y1="250.30" x2="105.50" y2="293.30"/>
</g>
<path d="M18.35,256.60H45.15V301.60H18.35Z M25.85,256.60V276.60A5.90,5.90 0 0 0 37.65,276.60V256.60Z" fill="rgb(8,8,145)" fill-opacity="0.58" fill-rule="evenodd"/>
<path d="M25.85,256.60V276.60A5.90,5.90 0 0 0 37.65,276.60V256.60" fill="none" stroke="#c0c0e0" stroke-width="0.6" stroke-opacity="0.80"/>
<defs><linearGradient id="cga1" x1="0" y1="0" x2="0" y2="1"><stop offset="0" stop-color="#73deb4"/><stop offset="0.84" stop-color="#5fdec8"/><stop offset="0.9" stop-color="#39eddc"/><stop offset="1" stop-color="#2535f1"/></linearGradient></defs>
<rect x="27.45" y="253.10" width="8.60" height="24.20" rx="4.4" ry="3" fill="#eeeef6" fill-opacity="0.9"/>
<rect x="29.05" y="253.60" width="5.40" height="22.00" rx="3" ry="1.5" fill="url(#cga1)" stroke="#404060" stroke-width="0.4" stroke-opacity="0.6"/>
<line x1="31.75" y1="276.10" x2="31.75" y2="301.60" stroke="#a8a8d8" stroke-width="1.7" stroke-opacity="0.6"/>
<g fill="none" stroke="#8c8c9c" stroke-width="0.5">
<polyline points="18.35,261.35 18.35,252.85 31.75,248.60 45.15,252.85 45.15,261.35"/>
<polyline points="18.35,261.35 31.75,265.60 45.15,261.35" stroke="#202070" stroke-opacity="0.35"/>
<polyline points="18.35,295.85 18.35,304.35 31.75,308.60 45.15,304.35"/>
<polyline points="18.35,304.35 18.35,295.85 31.75,291.60 45.15,295.85" stroke="#202070" stroke-opacity="0.35"/>
<polyline points="45.15,295.85 45.15,304.35"/>
<line x1="18.35" y1="252.85" x2="18.35" y2="295.85"/>
<line x1="45.15" y1="252.85" x2="45.15" y2="295.85"/>
<line x1="31.75" y1="265.60" x2="31.75" y2="308.60"/>
</g>
<path d="M47.85,256.60H74.65V301.60H47.85Z M55.35,256.60V276.60A5.90,5.90 0 0 0 67.15,276.60V256.60Z" fill="rgb(8,8,145)" fill-opacity="0.58" fill-rule="evenodd"/>
<path d="M55.35,256.60V276.60A5.90,5.90 0 0 0 67.15,276.60V256.60" fill="none" stroke="#c0c0e0" stroke-width="0.6" stroke-opacity="0.80"/>
<defs><linearGradient id="cga2" x1="0" y1="0" x2="0" y2="1"><stop offset="0" stop-color="#e5ce42"/><stop offset="0.84" stop-color="#e2de45"/><stop offset="0.9" stop-color="#39eddc"/><stop offset="1" stop-color="#2535f1"/></linearGradient></defs>
<rect x="56.95" y="253.10" width="8.60" height="24.20" rx="4.4" ry="3" fill="#eeeef6" fill-opacity="0.9"/>
<rect x="58.55" y="253.60" width="5.40" height="22.00" rx="3" ry="1.5" fill="url(#cga2)" stroke="#404060" stroke-width="0.4" stroke-opacity="0.6"/>
<line x1="61.25" y1="276.10" x2="61.25" y2="301.60" stroke="#a8a8d8" stroke-width="1.7" stroke-opacity="0.6"/>
<g fill="none" stroke="#8c8c9c" stroke-width="0.5">
<polyline points="47.85,261.35 47.85,252.85 61.25,248.60 74.65,252.85 74.65,261.35"/>
<polyline points="47.85,261.35 61.25,265.60 74.65,261.35" stroke="#202070" stroke-opacity="0.35"/>
<polyline points="47.85,295.85 47.85,304.35 61.25,308.60 74.65,304.35"/>
<polyline points="47.85,304.35 47.85,295.85 61.25,291.60 74.65,295.85" stroke="#202070" stroke-opacity="0.35"/>
<polyline points="74.65,295.85 74.65,304.35"/>
<line x1="47.85" y1="252.85" x2="47.85" y2="295.85"/>
<line x1="74.65" y1="252.85" x2="74.65" y2="295.85"/>
<line x1="61.25" y1="265.60" x2="61.25" y2="308.60"/>
</g>
<path d="M77.35,256.60H104.15V301.60H77.35Z M84.85,256.60V276.60A5.90,5.90 0 0 0 96.65,276.60V256.60Z" fill="rgb(8,8,145)" fill-opacity="0.58" fill-rule="evenodd"/>
<path d="M84.85,256.60V276.60A5.90,5.90 0 0 0 96.65,276.60V256.60" fill="none" stroke="#c0c0e0" stroke-width="0.6" stroke-opacity="0.80"/>
<defs><linearGradient id="cga3" x1="0" y1="0" x2="0" y2="1"><stop offset="0" stop-color="#e54b42"/><stop offset="0.84" stop-color="#e55f42"/><stop offset="0.9" stop-color="#39eddc"/><stop offset="1" stop-color="#2535f1"/></linearGradient></defs>
<rect x="86.45" y="253.10" width="8.60" height="24.20" rx="4.4" ry="3" fill="#eeeef6" fill-opacity="0.9"/>
<rect x="88.05" y="253.60" width="5.40" height="22.00" rx="3" ry="1.5" fill="url(#cga3)" stroke="#404060" stroke-width="0.4" stroke-opacity="0.6"/>
<line x1="90.75" y1="276.10" x2="90.75" y2="301.60" stroke="#a8a8d8" stroke-width="1.7" stroke-opacity="0.6"/>
<g fill="none" stroke="#8c8c9c" stroke-width="0.5">
<polyline points="77.35,261.35 77.35,252.85 90.75,248.60 104.15,252.85 104.15,261.35"/>
<polyline points="77.35,261.35 90.75,265.60 104.15,261.35" stroke="#202070" stroke-opacity="0.35"/>
<polyline points="77.35,295.85 77.35,304.35 90.75,308.60 104.15,304.35"/>
<polyline points="77.35,304.35 77.35,295.85 90.75,291.60 104.15,295.85" stroke="#202070" stroke-opacity="0.35"/>
<polyline points="104.15,295.85 104.15,304.35"/>
<line x1="77.35" y1="252.85" x2="77.35" y2="295.85"/>
<line x1="104.15" y1="252.85" x2="104.15" y2="295.85"/>
<line x1="90.75" y1="265.60" x2="90.75" y2="308.60"/>
</g>
<path d="M106.85,256.60H133.65V301.60H106.85Z M114.35,256.60V276.60A5.90,5.90 0 0 0 126.15,276.60V256.60Z" fill="rgb(8,8,145)" fill-opacity="0.58" fill-rule="evenodd"/>
<path d="M114.35,256.60V276.60A5.90,5.90 0 0 0 126.15,276.60V256.60" fill="none" stroke="#c0c0e0" stroke-width="0.6" stroke-opacity="0.80"/>
<defs><linearGradient id="cga4" x1="0" y1="0" x2="0" y2="1"><stop offset="0" stop-color="#ce3b42"/><stop offset="0.84" stop-color="#e23b42"/><stop offset="0.9" stop-color="#39eddc"/><stop offset="1" stop-color="#2535f1"/></linearGradient></defs>
<rect x="115.95" y="253.10" width="8.60" height="24.20" rx="4.4" ry="3" fill="#eeeef6" fill-opacity="0.9"/>
<rect x="117.55" y="253.60" width="5.40" height="22.00" rx="3" ry="1.5" fill="url(#cga4)" stroke="#404060" stroke-width="0.4" stroke-opacity="0.6"/>
<line x1="120.25" y1="276.10" x2="120.25" y2="301.60" stroke="#a8a8d8" stroke-width="1.7" stroke-opacity="0.6"/>
<g fill="none" stroke="#8c8c9c" stroke-width="0.5">
<polyline points="106.85,261.35 106.85,252.85 120.25,248.60 133.65,252.85 133.65,261.35"/>
<polyline points="106.85,261.35 120.25,265.60 133.65,261.35" stroke="#202070" stroke-opacity="0.35"/>
<polyline points="106.85,295.85 106.85,304.35 120.25,308.60 133.65,304.35"/>
<polyline points="106.85,304.35 106.85,295.85 120.25,291.60 133.65,295.85" stroke="#202070" stroke-opacity="0.35"/>
<polyline points="133.65,295.85 133.65,304.35"/>
<line x1="106.85" y1="252.85" x2="106.85" y2="295.85"/>
<line x1="133.65" y1="252.85" x2="133.65" y2="295.85"/>
<line x1="120.25" y1="265.60" x2="120.25" y2="308.60"/>
</g>
<path d="M3.60,271.90H30.40V316.90H3.60Z M11.10,271.90V291.90A5.90,5.90 0 0 0 22.90,291.90V271.90Z" fill="rgb(8,8,145)" fill-opacity="0.58" fill-rule="evenodd"/>
<path d="M11.10,271.90V291.90A5.90,5.90 0 0 0 22.90,291.90V271.90" fill="none" stroke="#c0c0e0" stroke-width="0.6" stroke-opacity="0.80"/>
<defs><linearGradient id="cga5" x1="0" y1="0" x2="0" y2="1"><stop offset="0" stop-color="#e23b42"/><stop offset="0.84" stop-color="#e54b42"/><stop offset="0.9" stop-color="#39eddc"/><stop offset="1" stop-color="#2535f1"/></linearGradient></defs>
<rect x="12.70" y="268.40" width="8.60" height="24.20" rx="4.4" ry="3" fill="#eeeef6" fill-opacity="0.9"/>
<rect x="14.30" y="268.90" width="5.40" height="22.00" rx="3" ry="1.5" fill="url(#cga5)" stroke="#404060" stroke-width="0.4" stroke-opacity="0.6"/>
<line x1="17.00" y1="291.40" x2="17.00" y2="316.90" stroke="#a8a8d8" stroke-width="1.7" stroke-opacity="0.6"/>
<g fill="none" stroke="#8c8c9c" stroke-width="0.5">
<polyline points="3.60,276.65 3.60,268.15 17.00,263.90 30.40,268.15 30.40,276.65"/>
<polyline points="3.60,276.65 17.00,280.90 30.40,276.65" stroke="#202070" stroke-opacity="0.35"/>
<polyline points="3.60,311.15 3.60,319.65 17.00,323.90 30.40,319.65"/>
<polyline points="3.60,319.65 3.60,311.15 17.00,306.90 30.40,311.15" stroke="#202070" stroke-opacity="0.35"/>
<polyline points="30.40,311.15 30.40,319.65"/>
<line x1="3.60" y1="268.15" x2="3.60" y2="311.15"/>
<line x1="30.40" y1="268.15" x2="30.40" y2="311.15"/>
<line x1="17.00" y1="280.90" x2="17.00" y2="323.90"/>
</g>
<path d="M33.10,271.90H59.90V316.90H33.10Z" fill="rgb(8,8,145)" fill-opacity="0.58" fill-rule="evenodd"/>
<path d="M40.60,271.90V291.90A5.90,5.90 0 0 0 52.40,291.90V271.90" fill="none" stroke="#c0c0e0" stroke-width="0.6" stroke-opacity="0.30"/>
<defs><linearGradient id="cga6" x1="0" y1="0" x2="0" y2="1"><stop offset="0" stop-color="#e5c742"/><stop offset="0.84" stop-color="#e5db42"/><stop offset="0.9" stop-color="#39eddc"/><stop offset="1" stop-color="#2535f1"/></linearGradient></defs>
<rect x="42.20" y="268.40" width="8.60" height="24.20" rx="4.4" ry="3" fill="#eeeef6" fill-opacity="0.9"/>
<rect x="43.80" y="268.90" width="5.40" height="22.00" rx="3" ry="1.5" fill="url(#cga6)" stroke="#404060" stroke-width="0.4" stroke-opacity="0.6"/>
<line x1="46.50" y1="291.40" x2="46.50" y2="316.90" stroke="#a8a8d8" stroke-width="1.7" stroke-opacity="0.6"/>
<g fill="none" stroke="#8c8c9c" stroke-width="0.5">
<polyline points="33.10,276.65 33.10,268.15 46.50,263.90 59.90,268.15 59.90,276.65"/>
<polyline points="33.10,276.65 46.50,280.90 59.90,276.65" stroke="#202070" stroke-opacity="0.35"/>
<polyline points="33.10,311.15 33.10,319.65 46.50,323.90 59.90,319.65"/>
<polyline points="33.10,319.65 33.10,311.15 46.50,306.90 59.90,311.15" stroke="#202070" stroke-opacity="0.35"/>
<polyline points="59.90,311.15 59.90,319.65"/>
<line x1="33.10" y1="268.15" x2="33.10" y2="311.15"/>
<line x1="59.90" y1="268.15" x2="59.90" y2="311.15"/>
<line x1="46.50" y1="280.90" x2="46.50" y2="323.90"/>
</g>
<path d="M62.60,271.90H89.40V316.90H62.60Z" fill="rgb(8,8,145)" fill-opacity="0.58" fill-rule="evenodd"/>
<path d="M70.10,271.90V291.90A5.90,5.90 0 0 0 81.90,291.90V271.90" fill="none" stroke="#c0c0e0" stroke-width="0.6" stroke-opacity="0.30"/>
<defs><linearGradient id="cga7" x1="0" y1="0" x2="0" y2="1"><stop offset="0" stop-color="#42a0e5"/><stop offset="0.84" stop-color="#428de5"/><stop offset="0.9" stop-color="#39eddc"/><stop offset="1" stop-color="#2535f1"/></linearGradient></defs>
<rect x="73.30" y="268.90" width="5.40" height="22.00" rx="3" ry="1.5" fill="url(#cga7)" stroke="#404060" stroke-width="0.4" stroke-opacity="0.6"/>
<line x1="76.00" y1="291.40" x2="76.00" y2="316.90" stroke="#a8a8d8" stroke-width="1.7" stroke-opacity="0.6"/>
<g fill="none" stroke="#8c8c9c" stroke-width="0.5">
<polyline points="62.60,276.65 62.60,268.15 76.00,263.90 89.40,268.15 89.40,276.65"/>
<polyline points="62.60,276.65 76.00,280.90 89.40,276.65" stroke="#202070" stroke-opacity="0.35"/>
<polyline points="62.60,311.15 62.60,319.65 76.00,323.90 89.40,319.65"/>
<polyline points="62.60,319.65 62.60,311.15 76.00,306.90 89.40,311.15" stroke="#202070" stroke-opacity="0.35"/>
<polyline points="89.40,311.15 89.40,319.65"/>
<line x1="62.60" y1="268.15" x2="62.60" y2="311.15"/>
<line x1="89.40" y1="268.15" x2="89.40" y2="311.15"/>
<line x1="76.00" y1="280.90" x2="76.00" y2="323.90"/>
</g>
<path d="M92.10,271.90H118.90V316.90H92.10Z" fill="rgb(8,8,145)" fill-opacity="0.58" fill-rule="evenodd"/>
<path d="M99.60,271.90V291.90A5.90,5.90 0 0 0 111.40,291.90V271.90" fill="none" stroke="#c0c0e0" stroke-width="0.6" stroke-opacity="0.30"/>
<rect x="102.50" y="268.90" width="6.00" height="23.00" rx="3" ry="1.8" fill="rgb(8,8,145)" fill-opacity="0.5"/>
<line x1="105.50" y1="291.40" x2="105.50" y2="316.90" stroke="#a8a8d8" stroke-width="1.7" stroke-opacity="0.6"/>
<g fill="none" stroke="#8c8c9c" stroke-width="0.5">
<polyline points="92.10,276.65 92.10,268.15 105.50,263.90 118.90,268.15 118.90,276.65"/>
<polyline points="92.10,276.65 105.50,280.90 118.90,276.65" stroke="#202070" stroke-opacity="0.35"/>
<polyline points="92.10,311.15 92.10,319.65 105.50,323.90 118.90,319.65"/>
<polyline points="92.10,319.65 92.10,311.15 105.50,306.90 118.90,311.15" stroke="#202070" stroke-opacity="0.35"/>
<polyline points="118.90,311.15 118.90,319.65"/>
<line x1="92.10" y1="268.15" x2="92.10" y2="311.15"/>
<line x1="118.90" y1="268.15" x2="118.90" y2="311.15"/>
<line x1="105.50" y1="280.90" x2="105.50" y2="323.90"/>
</g>
<path d="M121.60,271.90H148.40V316.90H121.60Z M129.10,271.90V291.90A5.90,5.90 0 0 0 140.90,291.90V271.90Z" fill="rgb(8,8,145)" fill-opacity="0.58" fill-rule="evenodd"/>
<path d="M129.10,271.90V291.90A5.90,5.90 0 0 0 140.90,291.90V271.90" fill="none" stroke="#c0c0e0" stroke-width="0.6" stroke-opacity="0.80"/>
<rect x="132.00" y="268.90" width="6.00" height="23.00" rx="3" ry="1.8" fill="rgb(8,8,145)" fill-opacity="0.5"/>
<line x1="135.00" y1="291.40" x2="135.00" y2="316.90" stroke="#a8a8d8" stroke-width="1.7" stroke-opacity="0.6"/>
<g fill="none" stroke="#8c8c9c" stroke-width="0.5">
<polyline points="121.60,276.65 121.60,268.15 135.00,263.90 148.40,268.15 148.40,276.65"/>
<polyline points="121.60,276.65 135.00,280.90 148.40,276.65" stroke="#202070" stroke-opacity="0.35"/>
<polyline points="121.60,311.15 121.60,319.65 135.00,323.90 148.40,319.65"/>
<polyline points="121.60,319.65 121.60,311.15 135.00,306.90 148.40,311.15" stroke="#202070" stroke-opacity="0.35"/>
<polyline points="148.40,311.15 148.40,319.65"/>
<line x1="121.60" y1="268.15" x2="121.60" y2="311.15"/>
<line x1="148.40" y1="268.15" x2="148.40" y2="311.15"/>
<line x1="135.00" y1="280.90" x2="135.00" y2="323.90"/>
</g>
<path d="M18.35,287.20H45.15V332.20H18.35Z" fill="rgb(8,8,145)" fill-opacity="0.58" fill-rule="evenodd"/>
<path d="M25.85,287.20V307.20A5.90,5.90 0 0 0 37.65,307.20V287.20" fill="none" stroke="#c0c0e0" stroke-width="0.6" stroke-opacity="0.30"/>
<line x1="31.75" y1="287.70" x2="31.75" y2="332.20" stroke="#a8a8d8" stroke-width="1.7" stroke-opacity="0.6"/>
<g fill="none" stroke="#8c8c9c" stroke-width="0.5">
<polyline points="18.35,291.95 18.35,283.45 31.75,279.20 45.15,283.45 45.15,291.95"/>
<polyline points="18.35,291.95 31.75,296.20 45.15,291.95" stroke="#202070" stroke-opacity="0.35"/>
<polyline points="18.35,326.45 18.35,334.95 31.75,339.20 45.15,334.95"/>
<polyline points="18.35,334.95 18.35,326.45 31.75,322.20 45.15,326.45" stroke="#202070" stroke-opacity="0.35"/>
<polyline points="45.15,326.45 45.15,334.95"/>
<line x1="18.35" y1="283.45" x2="18.35" y2="326.45"/>
<line x1="45.15" y1="283.45" x2="45.15" y2="326.45"/>
<line x1="31.75" y1="296.20" x2="31.75" y2="339.20"/>
</g>
<path d="M47.85,287.20H74.65V332.20H47.85Z" fill="rgb(8,8,145)" fill-opacity="0.58" fill-rule="evenodd"/>
<path d="M55.35,287.20V307.20A5.90,5.90 0 0 0 67.15,307.20V287.20" fill="none" stroke="#c0c0e0" stroke-width="0.6" stroke-opacity="0.30"/>
<line x1="61.25" y1="287.70" x2="61.25" y2="332.20" stroke="#a8a8d8" stroke-width="1.7" stroke-opacity="0.6"/>
<g fill="none" stroke="#8c8c9c" stroke-width="0.5">
<polyline points="47.85,291.95 47.85,283.45 61.25,279.20 74.65,283.45 74.65,291.95"/>
<polyline points="47.85,291.95 61.25,296.20 74.65,291.95" stroke="#202070" stroke-opacity="0.35"/>
<polyline points="47.85,326.45 47.85,334.95 61.25,339.20 74.65,334.95"/>
<polyline points="47.85,334.95 47.85,326.45 61.25,322.20 74.65,326.45" stroke="#202070" stroke-opacity="0.35"/>
<polyline points="74.65,326.45 74.65,334.95"/>
<line x1="47.85" y1="283.45" x2="47.85" y2="326.45"/>
<line x1="74.65" y1="283.45" x2="74.65" y2="326.45"/>
<line x1="61.25" y1="296.20" x2="61.25" y2="339.20"/>
</g>
<path d="M77.35,287.20H104.15V332.20H77.35Z" fill="rgb(8,8,145)" fill-opacity="0.58" fill-rule="evenodd"/>
<path d="M84.85,287.20V307.20A5.90,5.90 0 0 0 96.65,307.20V287.20" fill="none" stroke="#c0c0e0" stroke-width="0.6" stroke-opacity="0.30"/>
<line x1="90.75" y1="287.70" x2="90.75" y2="332.20" stroke="#a8a8d8" stroke-width="1.7" stroke-opacity="0.6"/>
<g fill="none" stroke="#8c8c9c" stroke-width="0.5">
<polyline points="77.35,291.95 77.35,283.45 90.75,279.20 104.15,283.45 104.15,291.95"/>
<polyline points="77.35,291.95 90.75,296.20 104.15,291.95" stroke="#202070" stroke-opacity="0.35"/>
<polyline points="77.35,326.45 77.35,334.95 90.75,339.20 104.15,334.95"/>
<polyline points="77.35,334.95 77.35,326.45 90.75,322.20 104.15,326.45" stroke="#202070" stroke-opacity="0.35"/>
<polyline points="104.15,326.45 104.15,334.95"/>
<line x1="77.35" y1="283.45" x2="77.35" y2="326.45"/>
<line x1="104.15" y1="283.45" x2="104.15" y2="326.45"/>
<line x1="90.75" y1="296.20" x2="90.75" y2="339.20"/>
</g>
<path d="M106.85,287.20H133.65V332.20H106.85Z" fill="rgb(8,8,145)" fill-opacity="0.58" fill-rule="evenodd"/>
<path d="M114.35,287.20V307.20A5.90,5.90 0 0 0 126.15,307.20V287.20" fill="none" stroke="#c0c0e0" stroke-width="0.6" stroke-opacity="0.30"/>
<line x1="120.25" y1="287.70" x2="120.25" y2="332.20" stroke="#a8a8d8" stroke-width="1.7" stroke-opacity="0.6"/>
<g fill="none" stroke="#8c8c9c" stroke-width="0.5">
<polyline points="106.85,291.95 106.85,283.45 120.25,279.20 133.65,283.45 133.65,291.95"/>
<polyline points="106.85,291.95 120.25,296.20 133.65,291.95" stroke="#202070" stroke-opacity="0.35"/>
<polyline points="106.85,326.45 106.85,334.95 120.25,339.20 133.65,334.95"/>
<polyline points="106.85,334.95 106.85,326.45 120.25,322.20 133.65,326.45" stroke="#202070" stroke-opacity="0.35"/>
<polyline points="133.65,326.45 133.65,334.95"/>
<line x1="106.85" y1="283.45" x2="106.85" y2="326.45"/>
<line x1="133.65" y1="283.45" x2="133.65" y2="326.45"/>
<line x1="120.25" y1="296.20" x2="120.25" y2="339.20"/>
</g>
<path d="M33.10,302.50H59.90V347.50H33.10Z" fill="rgb(8,8,145)" fill-opacity="0.58" fill-rule="evenodd"/>
<path d="M40.60,302.50V322.50A5.90,5.90 0 0 0 52.40,322.50V302.50" fill="none" stroke="#c0c0e0" stroke-width="0.6" stroke-opacity="0.30"/>
<line x1="46.50" y1="303.00" x2="46.50" y2="347.50" stroke="#a8a8d8" stroke-width="1.7" stroke-opacity="0.6"/>
<g fill="none" stroke="#8c8c9c" stroke-width="0.5">
<polyline points="33.10,307.25 33.10,298.75 46.50,294.50 59.90,298.75 59.90,307.25"/>
<polyline points="33.10,307.25 46.50,311.50 59.90,307.25" stroke="#202070" stroke-opacity="0.35"/>
<polyline points="33.10,341.75 33.10,350.25 46.50,354.50 59.90,350.25"/>
<polyline points="33.10,350.25 33.10,341.75 46.50,337.50 59.90,341.75" stroke="#202070" stroke-opacity="0.35"/>
<polyline points="59.90,341.75 59.90,350.25"/>
<line x1="33.10" y1="298.75" x2="33.10" y2="341.75"/>
<line x1="59.90" y1="298.75" x2="59.90" y2="341.75"/>
<line x1="46.50" y1="311.50" x2="46.50" y2="354.50"/>
</g>
<path d="M62.60,302.50H89.40V347.50H62.60Z" fill="rgb(8,8,145)" fill-opacity="0.58" fill-rule="evenodd"/>
<path d="M70.10,302.50V322.50A5.90,5.90 0 0 0 81.90,322.50V302.50" fill="none" stroke="#c0c0e0" stroke-width="0.6" stroke-opacity="0.30"/>
<line x1="76.00" y1="303.00" x2="76.00" y2="347.50" stroke="#a8a8d8" stroke-width="1.7" stroke-opacity="0.6"/>
<g fill="none" stroke="#8c8c9c" stroke-width="0.5">
<polyline points="62.60,307.25 62.60,298.75 76.00,294.50 89.40,298.75 89.40,307.25"/>
<polyline points="62.60,307.25 76.00,311.50 89.40,307.25" stroke="#202070" stroke-opacity="0.35"/>
<polyline points="62.60,341.75 62.60,350.25 76.00,354.50 89.40,350.25"/>
<polyline points="62.60,350.25 62.60,341.75 76.00,337.50 89.40,341.75" stroke="#202070" stroke-opacity="0.35"/>
<polyline points="89.40,341.75 89.40,350.25"/>
<line x1="62.60" y1="298.75" x2="62.60" y2="341.75"/>
<line x1="89.40" y1="298.75" x2="89.40" y2="341.75"/>
<line x1="76.00" y1="311.50" x2="76.00" y2="354.50"/>
</g>
<path d="M92.10,302.50H118.90V347.50H92.10Z" fill="rgb(8,8,145)" fill-opacity="0.58" fill-rule="evenodd"/>
<path d="M99.60,302.50V322.50A5.90,5.90 0 0 0 111.40,322.50V302.50" fill="none" stroke="#c0c0e0" stroke-width="0.6" stroke-opacity="0.30"/>
<line x1="105.50" y1="303.00" x2="105.50" y2="347.50" stroke="#a8a8d8" stroke-width="1.7" stroke-opacity="0.6"/>
<g fill="none" stroke="#8c8c9c" stroke-width="0.5">
<polyline points="92.10,307.25 92.10,298.75 105.50,294.50 118.90,298.75 118.90,307.25"/>
<polyline points="92.10,307.25 105.50,311.50 118.90,307.25" stroke="#202070" stroke-opacity="0.35"/>
<polyline points="92.10,341.75 92.10,350.25 105.50,354.50 118.90,350.25"/>
<polyline points="92.10,350.25 92.10,341.75 105.50,337.50 118.90,341.75" stroke="#202070" stroke-opacity="0.35"/>
<polyline points="118.90,341.75 118.90,350.25"/>
<line x1="92.10" y1="298.75" x2="92.10" y2="341.75"/>
<line x1="118.90" y1="298.75" x2="118.90" y2="341.75"/>
<line x1="105.50" y1="311.50" x2="105.50" y2="354.50"/>
</g>
<path d="M219.30,242.80H246.10V287.80H219.30Z M226.80,242.80V262.80A5.90,5.90 0 0 0 238.60,262.80V242.80Z" fill="rgb(8,8,145)" fill-opacity="0.58" fill-rule="evenodd"/>
<path d="M226.80,242.80V262.80A5.90,5.90 0 0 0 238.60,262.80V242.80" fill="none" stroke="#c0c0e0" stroke-width="0.6" stroke-opacity="0.80"/>
<rect x="229.70" y="239.80" width="6.00" height="23.00" rx="3" ry="1.8" fill="rgb(8,8,145)" fill-opacity="0.5"/>
<line x1="232.70" y1="262.30" x2="232.70" y2="287.80" stroke="#a8a8d8" stroke-width="1.7" stroke-opacity="0.6"/>
<g fill="none" stroke="#8c8c9c" stroke-width="0.5">
<polyline points="219.30,247.55 219.30,239.05 232.70,234.80 246.10,239.05 246.10,247.55"/>
<polyline points="219.30,247.55 232.70,251.80 246.10,247.55" stroke="#202070" stroke-opacity="0.35"/>
<polyline points="219.30,282.05 219.30,290.55 232.70,294.80 246.10,290.55"/>
<polyline points="219.30,290.55 219.30,282.05 232.70,277.80 246.10,282.05" stroke="#202070" stroke-opacity="0.35"/>
<polyline points="246.10,282.05 246.10,290.55"/>
<line x1="219.30" y1="239.05" x2="219.30" y2="282.05"/>
<line x1="246.10" y1="239.05" x2="246.10" y2="282.05"/>
<line x1="232.70" y1="251.80" x2="232.70" y2="294.80"/>
</g>
<path d="M248.80,242.80H275.60V287.80H248.80Z M256.30,242.80V262.80A5.90,5.90 0 0 0 268.10,262.80V242.80Z" fill="rgb(8,8,145)" fill-opacity="0.58" fill-rule="evenodd"/>
<path d="M256.30,242.80V262.80A5.90,5.90 0 0 0 268.10,262.80V242.80" fill="none" stroke="#c0c0e0" stroke-width="0.6" stroke-opacity="0.80"/>
<rect x="259.20" y="239.80" width="6.00" height="23.00" rx="3" ry="1.8" fill="rgb(8,8,145)" fill-opacity="0.5"/>
<line x1="262.20" y1="262.30" x2="262.20" y2="287.80" stroke="#a8a8d8" stroke-width="1.7" stroke-opacity="0.6"/>
<g fill="none" stroke="#8c8c9c" stroke-width="0.5">
<polyline points="248.80,247.55 248.80,239.05 262.20,234.80 275.60,239.05 275.60,247.55"/>
<polyline points="248.80,247.55 262.20,251.80 275.60,247.55" stroke="#202070" stroke-opacity="0.35"/>
<polyline points="248.80,282.05 248.80,290.55 262.20,294.80 275.60,290.55"/>
<polyline points="248.80,290.55 248.80,282.05 262.20,277.80 275.60,282.05" stroke="#202070" stroke-opacity="0.35"/>
<polyline points="275.60,282.05 275.60,290.55"/>
<line x1="248.80" y1="239.05" x2="248.80" y2="282.05"/>
<line x1="275.60" y1="239.05" x2="275.60" y2="282.05"/>
<line x1="262.20" y1="251.80" x2="262.20" y2="294.80"/>
</g>
<path d="M278.30,242.80H305.10V287.80H278.30Z M285.80,242.80V262.80A5.90,5.90 0 0 0 297.60,262.80V242.80Z" fill="rgb(8,8,145)" fill-opacity="0.58" fill-rule="evenodd"/>
<path d="M285.80,242.80V262.80A5.90,5.90 0 0 0 297.60,262.80V242.80" fill="none" stroke="#c0c0e0" stroke-width="0.6" stroke-opacity="0.80"/>
<rect x="288.70" y="239.80" width="6.00" height="23.00" rx="3" ry="1.8" fill="rgb(8,8,145)" fill-opacity="0.5"/>
<line x1="291.70" y1="262.30" x2="291.70" y2="287.80" stroke="#a8a8d8" stroke-width="1.7" stroke-opacity="0.6"/>
<g fill="none" stroke="#8c8c9c" stroke-width="0.5">
<polyline points="278.30,247.55 278.30,239.05 291.70,234.80 305.10,239.05 305.10,247.55"/>
<polyline points="278.30,247.55 291.70,251.80 305.10,247.55" stroke="#202070" stroke-opacity="0.35"/>
<polyline points="278.30,282.05 278.30,290.55 291.70,294.80 305.10,290.55"/>
<polyline points="278.30,290.55 278.30,282.05 291.70,277.80 305.10,282.05" stroke="#202070" stroke-opacity="0.35"/>
<polyline points="305.10,282.05 305.10,290.55"/>
<line x1="278.30" y1="239.05" x2="278.30" y2="282.05"/>
<line x1="305.10" y1="239.05" x2="305.10" y2="282.05"/>
<line x1="291.70" y1="251.80" x2="291.70" y2="294.80"/>
</g>
<path d="M204.55,258.10H231.35V303.10H204.55Z M212.05,258.10V278.10A5.90,5.90 0 0 0 223.85,278.10V258.10Z" fill="rgb(8,8,145)" fill-opacity="0.58" fill-rule="evenodd"/>
<path d="M212.05,258.10V278.10A5.90,5.90 0 0 0 223.85,278.10V258.10" fill="none" stroke="#c0c0e0" stroke-width="0.6" stroke-opacity="0.80"/>
<defs><linearGradient id="cgb1" x1="0" y1="0" x2="0" y2="1"><stop offset="0" stop-color="#42ade5"/><stop offset="0.84" stop-color="#429ae5"/><stop offset="0.9" stop-color="#39eddc"/><stop offset="1" stop-color="#2535f1"/></linearGradient></defs>
<rect x="213.65" y="254.60" width="8.60" height="24.20" rx="4.4" ry="3" fill="#eeeef6" fill-opacity="0.9"/>
<rect x="215.25" y="255.10" width="5.40" height="22.00" rx="3" ry="1.5" fill="url(#cgb1)" stroke="#404060" stroke-width="0.4" stroke-opacity="0.6"/>
<line x1="217.95" y1="277.60" x2="217.95" y2="303.10" stroke="#a8a8d8" stroke-width="1.7" stroke-opacity="0.6"/>
<g fill="none" stroke="#8c8c9c" stroke-width="0.5">
<polyline points="204.55,262.85 204.55,254.35 217.95,250.10 231.35,254.35 231.35,262.85"/>
<polyline points="204.55,262.85 217.95,267.10 231.35,262.85" stroke="#202070" stroke-opacity="0.35"/>
<polyline points="204.55,297.35 204.55,305.85 217.95,310.10 231.35,305.85"/>
<polyline points="204.55,305.85 204.55,297.35 217.95,293.10 231.35,297.35" stroke="#202070" stroke-opacity="0.35"/>
<polyline points="231.35,297.35 231.35,305.85"/>
<line x1="204.55" y1="254.35" x2="204.55" y2="297.35"/>
<line x1="231.35" y1="254.35" x2="231.35" y2="297.35"/>
<line x1="217.95" y1="267.10" x2="217.95" y2="310.10"/>
</g>
<path d="M234.05,258.10H260.85V303.10H234.05Z M241.55,258.10V278.10A5.90,5.90 0 0 0 253.35,278.10V258.10Z" fill="rgb(8,8,145)" fill-opacity="0.58" fill-rule="evenodd"/>
<path d="M241.55,258.10V278.10A5.90,5.90 0 0 0 253.35,278.10V258.10" fill="none" stroke="#c0c0e0" stroke-width="0.6" stroke-opacity="0.80"/>
<defs><linearGradient id="cgb2" x1="0" y1="0" x2="0" y2="1"><stop offset="0" stop-color="#42c7e5"/><stop offset="0.84" stop-color="#42b4e5"/><stop offset="0.9" stop-color="#39eddc"/><stop offset="1" stop-color="#2535f1"/></linearGradient></defs>
<rect x="243.15" y="254.60" width="8.60" height="24.20" rx="4.4" ry="3" fill="#eeeef6" fill-opacity="0.9"/>
<rect x="244.75" y="255.10" width="5.40" height="22.00" rx="3" ry="1.5" fill="url(#cgb2)" stroke="#404060" stroke-width="0.4" stroke-opacity="0.6"/>
<line x1="247.45" y1="277.60" x2="247.45" y2="303.10" stroke="#a8a8d8" stroke-width="1.7" stroke-opacity="0.6"/>
<g fill="none" stroke="#8c8c9c" stroke-width="0.5">
<polyline points="234.05,262.85 234.05,254.35 247.45,250.10 260.85,254.35 260.85,262.85"/>
<polyline points="234.05,262.85 247.45,267.10 260.85,262.85" stroke="#202070" stroke-opacity="0.35"/>
<polyline points="234.05,297.35 234.05,305.85 247.45,310.10 260.85,305.85"/>
<polyline points="234.05,305.85 234.05,297.35 247.45,293.10 260.85,297.35" stroke="#202070" stroke-opacity="0.35"/>
<polyline points="260.85,297.35 260.85,305.85"/>
<line x1="234.05" y1="254.35" x2="234.05" y2="297.35"/>
<line x1="260.85" y1="254.35" x2="260.85" y2="297.35"/>
<line x1="247.45" y1="267.10" x2="247.45" y2="310.10"/>
</g>
<path d="M263.55,258.10H290.35V303.10H263.55Z M271.05,258.10V278.10A5.90,5.90 0 0 0 282.85,278.10V258.10Z" fill="rgb(8,8,145)" fill-opacity="0.58" fill-rule="evenodd"/>
<path d="M271.05,258.10V278.10A5.90,5.90 0 0 0 282.85,278.10V258.10" fill="none" stroke="#c0c0e0" stroke-width="0.6" stroke-opacity="0.80"/>
<defs><linearGradient id="cgb3" x1="0" y1="0" x2="0" y2="1"><stop offset="0" stop-color="#45dee2"/><stop offset="0.84" stop-color="#42cee5"/><stop offset="0.9" stop-color="#39eddc"/><stop offset="1" stop-color="#2535f1"/></linearGradient></defs>
<rect x="272.65" y="254.60" width="8.60" height="24.20" rx="4.4" ry="3" fill="#eeeef6" fill-opacity="0.9"/>
<rect x="274.25" y="255.10" width="5.40" height="22.00" rx="3" ry="1.5" fill="url(#cgb3)" stroke="#404060" stroke-width="0.4" stroke-opacity="0.6"/>
<line x1="276.95" y1="277.60" x2="276.95" y2="303.10" stroke="#a8a8d8" stroke-width="1.7" stroke-opacity="0.6"/>
<g fill="none" stroke="#8c8c9c" stroke-width="0.5">
<polyline points="263.55,262.85 263.55,254.35 276.95,250.10 290.35,254.35 290.35,262.85"/>
<polyline points="263.55,262.85 276.95,267.10 290.35,262.85" stroke="#202070" stroke-opacity="0.35"/>
<polyline points="263.55,297.35 263.55,305.85 276.95,310.10 290.35,305.85"/>
<polyline points="263.55,305.85 263.55,297.35 276.95,293.10 290.35,297.35" stroke="#202070" stroke-opacity="0.35"/>
<polyline points="290.35,297.35 290.35,305.85"/>
<line x1="263.55" y1="254.35" x2="263.55" y2="297.35"/>
<line x1="290.35" y1="254.35" x2="290.35" y2="297.35"/>
<line x1="276.95" y1="267.10" x2="276.95" y2="310.10"/>
</g>
<path d="M293.05,258.10H319.85V303.10H293.05Z M300.55,258.10V278.10A5.90,5.90 0 0 0 312.35,278.10V258.10Z" fill="rgb(8,8,145)" fill-opacity="0.58" fill-rule="evenodd"/>
<path d="M300.55,258.10V278.10A5.90,5.90 0 0 0 312.35,278.10V258.10" fill="none" stroke="#c0c0e0" stroke-width="0.6" stroke-opacity="0.80"/>
<defs><linearGradient id="cgb4" x1="0" y1="0" x2="0" y2="1"><stop offset="0" stop-color="#59dece"/><stop offset="0.84" stop-color="#45dee2"/><stop offset="0.9" stop-color="#39eddc"/><stop offset="1" stop-color="#2535f1"/></linearGradient></defs>
<rect x="302.15" y="254.60" width="8.60" height="24.20" rx="4.4" ry="3" fill="#eeeef6" fill-opacity="0.9"/>
<rect x="303.75" y="255.10" width="5.40" height="22.00" rx="3" ry="1.5" fill="url(#cgb4)" stroke="#404060" stroke-width="0.4" stroke-opacity="0.6"/>
<line x1="306.45" y1="277.60" x2="306.45" y2="303.10" stroke="#a8a8d8" stroke-width="1.7" stroke-opacity="0.6"/>
<g fill="none" stroke="#8c8c9c" stroke-width="0.5">
<polyline points="293.05,262.85 293.05,254.35 306.45,250.10 319.85,254.35 319.85,262.85"/>
<polyline points="293.05,262.85 306.45,267.10 319.85,262.85" stroke="#202070" stroke-opacity="0.35"/>
<polyline points="293.05,297.35 293.05,305.85 306.45,310.10 319.85,305.85"/>
<polyline points="293.05,305.85 293.05,297.35 306.45,293.10 319.85,297.35" stroke="#202070" stroke-opacity="0.35"/>
<polyline points="319.85,297.35 319.85,305.85"/>
<line x1="293.05" y1="254.35" x2="293.05" y2="297.35"/>
<line x1="319.85" y1="254.35" x2="319.85" y2="297.35"/>
<line x1="306.45" y1="267.10" x2="306.45" y2="310.10"/>
</g>
<path d="M189.80,273.40H216.60V318.40H189.80Z M197.30,273.40V293.40A5.90,5.90 0 0 0 209.10,293.40V273.40Z" fill="rgb(8,8,145)" fill-opacity="0.58" fill-rule="evenodd"/>
<path d="M197.30,273.40V293.40A5.90,5.90 0 0 0 209.10,293.40V273.40" fill="none" stroke="#c0c0e0" stroke-width="0.6" stroke-opacity="0.80"/>
<defs><linearGradient id="cgb5" x1="0" y1="0" x2="0" y2="1"><stop offset="0" stop-color="#42c7e5"/><stop offset="0.84" stop-color="#42b4e5"/><stop offset="0.9" stop-color="#39eddc"/><stop offset="1" stop-color="#2535f1"/></linearGradient></defs>
<rect x="198.90" y="269.90" width="8.60" height="24.20" rx="4.4" ry="3" fill="#eeeef6" fill-opacity="0.9"/>
<rect x="200.50" y="270.40" width="5.40" height="22.00" rx="3" ry="1.5" fill="url(#cgb5)" stroke="#404060" stroke-width="0.4" stroke-opacity="0.6"/>
<line x1="203.20" y1="292.90" x2="203.20" y2="318.40" stroke="#a8a8d8" stroke-width="1.7" stroke-opacity="0.6"/>
<g fill="none" stroke="#8c8c9c" stroke-width="0.5">
<polyline points="189.80,278.15 189.80,269.65 203.20,265.40 216.60,269.65 216.60,278.15"/>
<polyline points="189.80,278.15 203.20,282.40 216.60,278.15" stroke="#202070" stroke-opacity="0.35"/>
<polyline points="189.80,312.65 189.80,321.15 203.20,325.40 216.60,321.15"/>
<polyline points="189.80,321.15 189.80,312.65 203.20,308.40 216.60,312.65" stroke="#202070" stroke-opacity="0.35"/>
<polyline points="216.60,312.65 216.60,321.15"/>
<line x1="189.80" y1="269.65" x2="189.80" y2="312.65"/>
<line x1="216.60" y1="269.65" x2="216.60" y2="312.65"/>
<line x1="203.20" y1="282.40" x2="203.20" y2="325.40"/>
</g>
<path d="M219.30,273.40H246.10V318.40H219.30Z" fill="rgb(8,8,145)" fill-opacity="0.58" fill-rule="evenodd"/>
<path d="M226.80,273.40V293.40A5.90,5.90 0 0 0 238.60,293.40V273.40" fill="none" stroke="#c0c0e0" stroke-width="0.6" stroke-opacity="0.30"/>
<defs><linearGradient id="cgb6" x1="0" y1="0" x2="0" y2="1"><stop offset="0" stop-color="#c8de5f"/><stop offset="0.84" stop-color="#b4de73"/><stop offset="0.9" stop-color="#39eddc"/><stop offset="1" stop-color="#2535f1"/></linearGradient></defs>
<rect x="228.40" y="269.90" width="8.60" height="24.20" rx="4.4" ry="3" fill="#eeeef6" fill-opacity="0.9"/>
<rect x="230.00" y="270.40" width="5.40" height="22.00" rx="3" ry="1.5" fill="url(#cgb6)" stroke="#404060" stroke-width="0.4" stroke-opacity="0.6"/>
<line x1="232.70" y1="292.90" x2="232.70" y2="318.40" stroke="#a8a8d8" stroke-width="1.7" stroke-opacity="0.6"/>
<g fill="none" stroke="#8c8c9c" stroke-width="0.5">
<polyline points="219.30,278.15 219.30,269.65 232.70,265.40 246.10,269.65 246.10,278.15"/>
<polyline points="219.30,278.15 232.70,282.40 246.10,278.15" stroke="#202070" stroke-opacity="0.35"/>
<polyline points="219.30,312.65 219.30,321.15 232.70,325.40 246.10,321.15"/>
<polyline points="219.30,321.15 219.30,312.65 232.70,308.40 246.10,312.65" stroke="#202070" stroke-opacity="0.35"/>
<polyline points="246.10,312.65 246.10,321.15"/>
<line x1="219.30" y1="269.65" x2="219.30" y2="312.65"/>
<line x1="246.10" y1="269.65" x2="246.10" y2="312.65"/>
<line x1="232.70" y1="282.40" x2="232.70" y2="325.40"/>
</g>
<path d="M248.80,273.40H275.60V318.40H248.80Z" fill="rgb(8,8,145)" fill-opacity="0.58" fill-rule="evenodd"/>
<path d="M256.30,273.40V293.40A5.90,5.90 0 0 0 268.10,293.40V273.40" fill="none" stroke="#c0c0e0" stroke-width="0.6" stroke-opacity="0.30"/>
<defs><linearGradient id="cgb7" x1="0" y1="0" x2="0" y2="1"><stop offset="0" stop-color="#a13b42"/><stop offset="0.84" stop-color="#b43b42"/><stop offset="0.9" stop-color="#39eddc"/><stop offset="1" stop-color="#2535f1"/></linearGradient></defs>
<rect x="257.90" y="269.90" width="8.60" height="24.20" rx="4.4" ry="3" fill="#eeeef6" fill-opacity="0.9"/>
<rect x="259.50" y="270.40" width="5.40" height="22.00" rx="3" ry="1.5" fill="url(#cgb7)" stroke="#404060" stroke-width="0.4" stroke-opacity="0.6"/>
<line x1="262.20" y1="292.90" x2="262.20" y2="318.40" stroke="#a8a8d8" stroke-width="1.7" stroke-opacity="0.6"/>
<g fill="none" stroke="#8c8c9c" stroke-width="0.5">
<polyline points="248.80,278.15 248.80,269.65 262.20,265.40 275.60,269.65 275.60,278.15"/>
<polyline points="248.80,278.15 262.20,282.40 275.60,278.15" stroke="#202070" stroke-opacity="0.35"/>
<polyline points="248.80,312.65 248.80,321.15 262.20,325.40 275.60,321.15"/>
<polyline points="248.80,321.15 248.80,312.65 262.20,308.40 275.60,312.65" stroke="#202070" stroke-opacity="0.35"/>
<polyline points="275.60,312.65 275.60,321.15"/>
<line x1="248.80" y1="269.65" x2="248.80" y2="312.65"/>
<line x1="275.60" y1="269.65" x2="275.60" y2="312.65"/>
<line x1="262.20" y1="282.40" x2="262.20" y2="325.40"/>
</g>
<path d="M278.30,273.40H305.10V318.40H278.30Z" fill="rgb(8,8,145)" fill-opacity="0.58" fill-rule="evenodd"/>
<path d="M285.80,273.40V293.40A5.90,5.90 0 0 0 297.60,293.40V273.40" fill="none" stroke="#c0c0e0" stroke-width="0.6" stroke-opacity="0.30"/>
<defs><linearGradient id="cgb8" x1="0" y1="0" x2="0" y2="1"><stop offset="0" stop-color="#a13b42"/><stop offset="0.84" stop-color="#b43b42"/><stop offset="0.9" stop-color="#39eddc"/><stop offset="1" stop-color="#2535f1"/></linearGradient></defs>
<rect x="287.40" y="269.90" width="8.60" height="24.20" rx="4.4" ry="3" fill="#eeeef6" fill-opacity="0.9"/>
<rect x="289.00" y="270.40" width="5.40" height="22.00" rx="3" ry="1.5" fill="url(#cgb8)" stroke="#404060" stroke-width="0.4" stroke-opacity="0.6"/>
<line x1="291.70" y1="292.90" x2="291.70" y2="318.40" stroke="#a8a8d8" stroke-width="1.7" stroke-opacity="0.6"/>
<g fill="none" stroke="#8c8c9c" stroke-width="0.5">
<polyline points="278.30,278.15 278.30,269.65 291.70,265.40 305.10,269.65 305.10,278.15"/>
<polyline points="278.30,278.15 291.70,282.40 305.10,278.15" stroke="#202070" stroke-opacity="0.35"/>
<polyline points="278.30,312.65 278.30,321.15 291.70,325.40 305.10,321.15"/>
<polyline points="278.30,321.15 278.30,312.65 291.70,308.40 305.10,312.65" stroke="#202070" stroke-opacity="0.35"/>
<polyline points="305.10,312.65 305.10,321.15"/>
<line x1="278.30" y1="269.65" x2="278.30" y2="312.65"/>
<line x1="305.10" y1="269.65" x2="305.10" y2="312.65"/>
<line x1="291.70" y1="282.40" x2="291.70" y2="325.40"/>
</g>
<path d="M307.80,273.40H334.60V318.40H307.80Z M315.30,273.40V293.40A5.90,5.90 0 0 0 327.10,293.40V273.40Z" fill="rgb(8,8,145)" fill-opacity="0.58" fill-rule="evenodd"/>
<path d="M315.30,273.40V293.40A5.90,5.90 0 0 0 327.10,293.40V273.40" fill="none" stroke="#c0c0e0" stroke-width="0.6" stroke-opacity="0.80"/>
<defs><linearGradient id="cgb9" x1="0" y1="0" x2="0" y2="1"><stop offset="0" stop-color="#42c1e5"/><stop offset="0.84" stop-color="#42ade5"/><stop offset="0.9" stop-color="#39eddc"/><stop offset="1" stop-color="#2535f1"/></linearGradient></defs>
<rect x="316.90" y="269.90" width="8.60" height="24.20" rx="4.4" ry="3" fill="#eeeef6" fill-opacity="0.9"/>
<rect x="318.50" y="270.40" width="5.40" height="22.00" rx="3" ry="1.5" fill="url(#cgb9)" stroke="#404060" stroke-width="0.4" stroke-opacity="0.6"/>
<line x1="321.20" y1="292.90" x2="321.20" y2="318.40" stroke="#a8a8d8" stroke-width="1.7" stroke-opacity="0.6"/>
<g fill="none" stroke="#8c8c9c" stroke-width="0.5">
<polyline points="307.80,278.15 307.80,269.65 321.20,265.40 334.60,269.65 334.60,278.15"/>
<polyline points="307.80,278.15 321.20,282.40 334.60,278.15" stroke="#202070" stroke-opacity="0.35"/>
<polyline points="307.80,312.65 307.80,321.15 321.20,325.40 334.60,321.15"/>
<polyline points="307.80,321.15 307.80,312.65 321.20,308.40 334.60,312.65" stroke="#202070" stroke-opacity="0.35"/>
<polyline points="334.60,312.65 334.60,321.15"/>
<line x1="307.80" y1="269.65" x2="307.80" y2="312.65"/>
<line x1="334.60" y1="269.65" x2="334.60" y2="312.65"/>
<line x1="321.20" y1="282.40" x2="321.20" y2="325.40"/>
</g>
<path d="M204.55,288.70H231.35V333.70H204.55Z" fill="rgb(8,8,145)" fill-opacity="0.58" fill-rule="evenodd"/>
<path d="M212.05,288.70V308.70A5.90,5.90 0 0 0 223.85,308.70V288.70" fill="none" stroke="#c0c0e0" stroke-width="0.6" stroke-opacity="0.30"/>
<line x1="217.95" y1="289.20" x2="217.95" y2="333.70" stroke="#a8a8d8" stroke-width="1.7" stroke-opacity="0.6"/>
<g fill="none" stroke="#8c8c9c" stroke-width="0.5">
<polyline points="204.55,293.45 204.55,284.95 217.95,280.70 231.35,284.95 231.35,293.45"/>
<polyline points="204.55,293.45 217.95,297.70 231.35,293.45" stroke="#202070" stroke-opacity="0.35"/>
<polyline points="204.55,327.95 204.55,336.45 217.95,340.70 231.35,336.45"/>
<polyline points="204.55,336.45 204.55,327.95 217.95,323.70 231.35,327.95" stroke="#202070" stroke-opacity="0.35"/>
<polyline points="231.35,327.95 231.35,336.45"/>
<line x1="204.55" y1="284.95" x2="204.55" y2="327.95"/>
<line x1="231.35" y1="284.95" x2="231.35" y2="327.95"/>
<line x1="217.95" y1="297.70" x2="217.95" y2="340.70"/>
</g>
<path d="M234.05,288.70H260.85V333.70H234.05Z" fill="rgb(8,8,145)" fill-opacity="0.58" fill-rule="evenodd"/>
<path d="M241.55,288.70V308.70A5.90,5.90 0 0 0 253.35,308.70V288.70" fill="none" stroke="#c0c0e0" stroke-width="0.6" stroke-opacity="0.30"/>
<line x1="247.45" y1="289.20" x2="247.45" y2="333.70" stroke="#a8a8d8" stroke-width="1.7" stroke-opacity="0.6"/>
<g fill="none" stroke="#8c8c9c" stroke-width="0.5">
<polyline points="234.05,293.45 234.05,284.95 247.45,280.70 260.85,284.95 260.85,293.45"/>
<polyline points="234.05,293.45 247.45,297.70 260.85,293.45" stroke="#202070" stroke-opacity="0.35"/>
<polyline points="234.05,327.95 234.05,336.45 247.45,340.70 260.85,336.45"/>
<polyline points="234.05,336.45 234.05,327.95 247.45,323.70 260.85,327.95" stroke="#202070" stroke-opacity="0.35"/>
<polyline points="260.85,327.95 260.85,336.45"/>
<line x1="234.05" y1="284.95" x2="234.05" y2="327.95"/>
<line x1="260.85" y1="284.95" x2="260.85" y2="327.95"/>
<line x1="247.45" y1="297.70" x2="247.45" y2="340.70"/>
</g>
<path d="M263.55,288.70H290.35V333.70H263.55Z" fill="rgb(8,8,145)" fill-opacity="0.58" fill-rule="evenodd"/>
<path d="M271.05,288.70V308.70A5.90,5.90 0 0 0 282.85,308.70V288.70" fill="none" stroke="#c0c0e0" stroke-width="0.6" stroke-opacity="0.30"/>
<line x1="276.95" y1="289.20" x2="276.95" y2="333.70" stroke="#a8a8d8" stroke-width="1.7" stroke-opacity="0.6"/>
<g fill="none" stroke="#8c8c9c" stroke-width="0.5">
<polyline points="263.55,293.45 263.55,284.95 276.95,280.70 290.35,284.95 290.35,293.45"/>
<polyline points="263.55,293.45 276.95,297.70 290.35,293.45" stroke="#202070" stroke-opacity="0.35"/>
<polyline points="263.55,327.95 263.55,336.45 276.95,340.70 290.35,336.45"/>
<polyline points="263.55,336.45 263.55,327.95 276.95,323.70 290.35,327.95" stroke="#202070" stroke-opacity="0.35"/>
<polyline points="290.35,327.95 290.35,336.45"/>
<line x1="263.55" y1="284.95" x2="263.55" y2="327.95"/>
<line x1="290.35" y1="284.95" x2="290.35" y2="327.95"/>
<line x1="276.95" y1="297.70" x2="276.95" y2="340.70"/>
</g>
<path d="M293.05,288.70H319.85V333.70H293.05Z" fill="rgb(8,8,145)" fill-opacity="0.58" fill-rule="evenodd"/>
<path d="M300.55,288.70V308.70A5.90,5.90 0 0 0 312.35,308.70V288.70" fill="none" stroke="#c0c0e0" stroke-width="0.6" stroke-opacity="0.30"/>
<line x1="306.45" y1="289.20" x2="306.45" y2="333.70" stroke="#a8a8d8" stroke-width="1.7" stroke-opacity="0.6"/>
<g fill="none" stroke="#8c8c9c" stroke-width="0.5">
<polyline points="293.05,293.45 293.05,284.95 306.45,280.70 319.85,284.95 319.85,293.45"/>
<polyline points="293.05,293.45 306.45,297.70 319.85,293.45" stroke="#202070" stroke-opacity="0.35"/>
<polyline points="293.05,327.95 293.05,336.45 306.45,340.70 319.85,336.45"/>
<polyline points="293.05,336.45 293.05,327.95 306.45,323.70 319.85,327.95" stroke="#202070" stroke-opacity="0.35"/>
<polyline points="319.85,327.95 319.85,336.45"/>
<line x1="293.05" y1="284.95" x2="293.05" y2="327.95"/>
<line x1="319.85" y1="284.95" x2="319.85" y2="327.95"/>
<line x1="306.45" y1="297.70" x2="306.45" y2="340.70"/>
</g>
<path d="M219.30,304.00H246.10V349.00H219.30Z" fill="rgb(8,8,145)" fill-opacity="0.58" fill-rule="evenodd"/>
<path d="M226.80,304.00V324.00A5.90,5.90 0 0 0 238.60,324.00V304.00" fill="none" stroke="#c0c0e0" stroke-width="0.6" stroke-opacity="0.30"/>
<line x1="232.70" y1="304.50" x2="232.70" y2="349.00" stroke="#a8a8d8" stroke-width="1.7" stroke-opacity="0.6"/>
<g fill="none" stroke="#8c8c9c" stroke-width="0.5">
<polyline points="219.30,308.75 219.30,300.25 232.70,296.00 246.10,300.25 246.10,308.75"/>
<polyline points="219.30,308.75 232.70,313.00 246.10,308.75" stroke="#202070" stroke-opacity="0.35"/>
<polyline points="219.30,343.25 219.30,351.75 232.70,356.00 246.10,351.75"/>
<polyline points="219.30,351.75 219.30,343.25 232.70,339.00 246.10,343.25" stroke="#202070" stroke-opacity="0.35"/>
<polyline points="246.10,343.25 246.10,351.75"/>
<line x1="219.30" y1="300.25" x2="219.30" y2="343.25"/>
<line x1="246.10" y1="300.25" x2="246.10" y2="343.25"/>
<line x1="232.70" y1="313.00" x2="232.70" y2="356.00"/>
</g>
<path d="M248.80,304.00H275.60V349.00H248.80Z" fill="rgb(8,8,145)" fill-opacity="0.58" fill-rule="evenodd"/>
<path d="M256.30,304.00V324.00A5.90,5.90 0 0 0 268.10,324.00V304.00" fill="none" stroke="#c0c0e0" stroke-width="0.6" stroke-opacity="0.30"/>
<line x1="262.20" y1="304.50" x2="262.20" y2="349.00" stroke="#a8a8d8" stroke-width="1.7" stroke-opacity="0.6"/>
<g fill="none" stroke="#8c8c9c" stroke-width="0.5">
<polyline points="248.80,308.75 248.80,300.25 262.20,296.00 275.60,300.25 275.60,308.75"/>
<polyline points="248.80,308.75 262.20,313.00 275.60,308.75" stroke="#202070" stroke-opacity="0.35"/>
<polyline points="248.80,343.25 248.80,351.75 262.20,356.00 275.60,351.75"/>
<polyline points="248.80,351.75 248.80,343.25 262.20,339.00 275.60,343.25" stroke="#202070" stroke-opacity="0.35"/>
<polyline points="275.60,343.25 275.60,351.75"/>
<line x1="248.80" y1="300.25" x2="248.80" y2="343.25"/>
<line x1="275.60" y1="300.25" x2="275.60" y2="343.25"/>
<line x1="262.20" y1="313.00" x2="262.20" y2="356.00"/>
</g>
<path d="M278.30,304.00H305.10V349.00H278.30Z" fill="rgb(8,8,145)" fill-opacity="0.58" fill-rule="evenodd"/>
<path d="M285.80,304.00V324.00A5.90,5.90 0 0 0 297.60,324.00V304.00" fill="none" stroke="#c0c0e0" stroke-width="0.6" stroke-opacity="0.30"/>
<line x1="291.70" y1="304.50" x2="291.70" y2="349.00" stroke="#a8a8d8" stroke-width="1.7" stroke-opacity="0.6"/>
<g fill="none" stroke="#8c8c9c" stroke-width="0.5">
<polyline points="278.30,308.75 278.30,300.25 291.70,296.00 305.10,300.25 305.10,308.75"/>
<polyline points="278.30,308.75 291.70,313.00 305.10,308.75" stroke="#202070" stroke-opacity="0.35"/>
<polyline points="278.30,343.25 278.30,351.75 291.70,356.00 305.10,351.75"/>
<polyline points="278.30,351.75 278.30,343.25 291.70,339.00 305.10,343.25" stroke="#202070" stroke-opacity="0.35"/>
<polyline points="305.10,343.25 305.10,351.75"/>
<line x1="278.30" y1="300.25" x2="278.30" y2="343.25"/>
<line x1="305.10" y1="300.25" x2="305.10" y2="343.25"/>
<line x1="291.70" y1="313.00" x2="291.70" y2="356.00"/>
</g>
<path d="M401.50,241.30H428.30V286.30H401.50Z M409.00,241.30V261.30A5.90,5.90 0 0 0 420.80,261.30V241.30Z" fill="rgb(8,8,145)" fill-opacity="0.58" fill-rule="evenodd"/>
<path d="M409.00,241.30V261.30A5.90,5.90 0 0 0 420.80,261.30V241.30" fill="none" stroke="#c0c0e0" stroke-width="0.6" stroke-opacity="0.80"/>
<defs><linearGradient id="cgc1" x1="0" y1="0" x2="0" y2="1"><stop offset="0" stop-color="#a7de80"/><stop offset="0.84" stop-color="#94de94"/><stop offset="0.9" stop-color="#39eddc"/><stop offset="1" stop-color="#2535f1"/></linearGradient></defs>
<rect x="410.60" y="237.80" width="8.60" height="24.20" rx="4.4" ry="3" fill="#eeeef6" fill-opacity="0.9"/>
<rect x="412.20" y="238.30" width="5.40" height="22.00" rx="3" ry="1.5" fill="url(#cgc1)" stroke="#404060" stroke-width="0.4" stroke-opacity="0.6"/>
<line x1="414.90" y1="260.80" x2="414.90" y2="286.30" stroke="#a8a8d8" stroke-width="1.7" stroke-opacity="0.6"/>
<g fill="none" stroke="#8c8c9c" stroke-width="0.5">
<polyline points="401.50,246.05 401.50,237.55 414.90,233.30 428.30,237.55 428.30,246.05"/>
<polyline points="401.50,246.05 414.90,250.30 428.30,246.05" stroke="#202070" stroke-opacity="0.35"/>
<polyline points="401.50,280.55 401.50,289.05 414.90,293.30 428.30,289.05"/>
<polyline points="401.50,289.05 401.50,280.55 414.90,276.30 428.30,280.55" stroke="#202070" stroke-opacity="0.35"/>
<polyline points="428.30,280.55 428.30,289.05"/>
<line x1="401.50" y1="237.55" x2="401.50" y2="280.55"/>
<line x1="428.30" y1="237.55" x2="428.30" y2="280.55"/>
<line x1="414.90" y1="250.30" x2="414.90" y2="293.30"/>
</g>
<path d="M431.00,241.30H457.80V286.30H431.00Z M438.50,241.30V261.30A5.90,5.90 0 0 0 450.30,261.30V241.30Z" fill="rgb(8,8,145)" fill-opacity="0.58" fill-rule="evenodd"/>
<path d="M438.50,241.30V261.30A5.90,5.90 0 0 0 450.30,261.30V241.30" fill="none" stroke="#c0c0e0" stroke-width="0.6" stroke-opacity="0.80"/>
<defs><linearGradient id="cgc2" x1="0" y1="0" x2="0" y2="1"><stop offset="0" stop-color="#e55842"/><stop offset="0.84" stop-color="#e56c42"/><stop offset="0.9" stop-color="#39eddc"/><stop offset="1" stop-color="#2535f1"/></linearGradient></defs>
<rect x="440.10" y="237.80" width="8.60" height="24.20" rx="4.4" ry="3" fill="#eeeef6" fill-opacity="0.9"/>
<rect x="441.70" y="238.30" width="5.40" height="22.00" rx="3" ry="1.5" fill="url(#cgc2)" stroke="#404060" stroke-width="0.4" stroke-opacity="0.6"/>
<line x1="444.40" y1="260.80" x2="444.40" y2="286.30" stroke="#a8a8d8" stroke-width="1.7" stroke-opacity="0.6"/>
<g fill="none" stroke="#8c8c9c" stroke-width="0.5">
<polyline points="431.00,246.05 431.00,237.55 444.40,233.30 457.80,237.55 457.80,246.05"/>
<polyline points="431.00,246.05 444.40,250.30 457.80,246.05" stroke="#202070" stroke-opacity="0.35"/>
<polyline points="431.00,280.55 431.00,289.05 444.40,293.30 457.80,289.05"/>
<polyline points="431.00,289.05 431.00,280.55 444.40,276.30 457.80,280.55" stroke="#202070" stroke-opacity="0.35"/>
<polyline points="457.80,280.55 457.80,289.05"/>
<line x1="431.00" y1="237.55" x2="431.00" y2="280.55"/>
<line x1="457.80" y1="237.55" x2="457.80" y2="280.55"/>
<line x1="444.40" y1="250.30" x2="444.40" y2="293.30"/>
</g>
<path d="M460.50,241.30H487.30V286.30H460.50Z M468.00,241.30V261.30A5.90,5.90 0 0 0 479.80,261.30V241.30Z" fill="rgb(8,8,145)" fill-opacity="0.58" fill-rule="evenodd"/>
<path d="M468.00,241.30V261.30A5.90,5.90 0 0 0 479.80,261.30V241.30" fill="none" stroke="#c0c0e0" stroke-width="0.6" stroke-opacity="0.80"/>
<defs><linearGradient id="cgc3" x1="0" y1="0" x2="0" y2="1"><stop offset="0" stop-color="#e23b42"/><stop offset="0.84" stop-color="#e54b42"/><stop offset="0.9" stop-color="#39eddc"/><stop offset="1" stop-color="#2535f1"/></linearGradient></defs>
<rect x="469.60" y="237.80" width="8.60" height="24.20" rx="4.4" ry="3" fill="#eeeef6" fill-opacity="0.9"/>
<rect x="471.20" y="238.30" width="5.40" height="22.00" rx="3" ry="1.5" fill="url(#cgc3)" stroke="#404060" stroke-width="0.4" stroke-opacity="0.6"/>
<line x1="473.90" y1="260.80" x2="473.90" y2="286.30" stroke="#a8a8d8" stroke-width="1.7" stroke-opacity="0.6"/>
<g fill="none" stroke="#8c8c9c" stroke-width="0.5">
<polyline points="460.50,246.05 460.50,237.55 473.90,233.30 487.30,237.55 487.30,246.05"/>
<polyline points="460.50,246.05 473.90,250.30 487.30,246.05" stroke="#202070" stroke-opacity="0.35"/>
<polyline points="460.50,280.55 460.50,289.05 473.90,293.30 487.30,289.05"/>
<polyline points="460.50,289.05 460.50,280.55 473.90,276.30 487.30,280.55" stroke="#202070" stroke-opacity="0.35"/>
<polyline points="487.30,280.55 487.30,289.05"/>
<line x1="460.50" y1="237.55" x2="460.50" y2="280.55"/>
<line x1="487.30" y1="237.55" x2="487.30" y2="280.55"/>
<line x1="473.90" y1="250.30" x2="473.90" y2="293.30"/>
</g>
<path d="M386.75,256.60H413.55V301.60H386.75Z M394.25,256.60V276.60A5.90,5.90 0 0 0 406.05,276.60V256.60Z" fill="rgb(8,8,145)" fill-opacity="0.58" fill-rule="evenodd"/>
<path d="M394.25,256.60V276.60A5.90,5.90 0 0 0 406.05,276.60V256.60" fill="none" stroke="#c0c0e0" stroke-width="0.6" stroke-opacity="0.80"/>
<rect x="397.15" y="253.60" width="6.00" height="23.00" rx="3" ry="1.8" fill="rgb(8,8,145)" fill-opacity="0.5"/>
<line x1="400.15" y1="276.10" x2="400.15" y2="301.60" stroke="#a8a8d8" stroke-width="1.7" stroke-opacity="0.6"/>
<g fill="none" stroke="#8c8c9c" stroke-width="0.5">
<polyline points="386.75,261.35 386.75,252.85 400.15,248.60 413.55,252.85 413.55,261.35"/>
<polyline points="386.75,261.35 400.15,265.60 413.55,261.35" stroke="#202070" stroke-opacity="0.35"/>
<polyline points="386.75,295.85 386.75,304.35 400.15,308.60 413.55,304.35"/>
<polyline points="386.75,304.35 386.75,295.85 400.15,291.60 413.55,295.85" stroke="#202070" stroke-opacity="0.35"/>
<polyline points="413.55,295.85 413.55,304.35"/>
<line x1="386.75" y1="252.85" x2="386.75" y2="295.85"/>
<line x1="413.55" y1="252.85" x2="413.55" y2="295.85"/>
<line x1="400.15" y1="265.60" x2="400.15" y2="308.60"/>
</g>
<path d="M416.25,256.60H443.05V301.60H416.25Z M423.75,256.60V276.60A5.90,5.90 0 0 0 435.55,276.60V256.60Z" fill="rgb(8,8,145)" fill-opacity="0.58" fill-rule="evenodd"/>
<path d="M423.75,256.60V276.60A5.90,5.90 0 0 0 435.55,276.60V256.60" fill="none" stroke="#c0c0e0" stroke-width="0.6" stroke-opacity="0.80"/>
<rect x="426.65" y="253.60" width="6.00" height="23.00" rx="3" ry="1.8" fill="rgb(8,8,145)" fill-opacity="0.5"/>
<line x1="429.65" y1="276.10" x2="429.65" y2="301.60" stroke="#a8a8d8" stroke-width="1.7" stroke-opacity="0.6"/>
<g fill="none" stroke="#8c8c9c" stroke-width="0.5">
<polyline points="416.25,261.35 416.25,252.85 429.65,248.60 443.05,252.85 443.05,261.35"/>
<polyline points="416.25,261.35 429.65,265.60 443.05,261.35" stroke="#202070" stroke-opacity="0.35"/>
<polyline points="416.25,295.85 416.25,304.35 429.65,308.60 443.05,304.35"/>
<polyline points="416.25,304.35 416.25,295.85 429.65,291.60 443.05,295.85" stroke="#202070" stroke-opacity="0.35"/>
<polyline points="443.05,295.85 443.05,304.35"/>
<line x1="416.25" y1="252.85" x2="416.25" y2="295.85"/>
<line x1="443.05" y1="252.85" x2="443.05" y2="295.85"/>
<line x1="429.65" y1="265.60" x2="429.65" y2="308.60"/>
</g>
<path d="M445.75,256.60H472.55V301.60H445.75Z M453.25,256.60V276.60A5.90,5.90 0 0 0 465.05,276.60V256.60Z" fill="rgb(8,8,145)" fill-opacity="0.58" fill-rule="evenodd"/>
<path d="M453.25,256.60V276.60A5.90,5.90 0 0 0 465.05,276.60V256.60" fill="none" stroke="#c0c0e0" stroke-width="0.6" stroke-opacity="0.80"/>
<rect x="456.15" y="253.60" width="6.00" height="23.00" rx="3" ry="1.8" fill="rgb(8,8,145)" fill-opacity="0.5"/>
<line x1="459.15" y1="276.10" x2="459.15" y2="301.60" stroke="#a8a8d8" stroke-width="1.7" stroke-opacity="0.6"/>
<g fill="none" stroke="#8c8c9c" stroke-width="0.5">
<polyline points="445.75,261.35 445.75,252.85 459.15,248.60 472.55,252.85 472.55,261.35"/>
<polyline points="445.75,261.35 459.15,265.60 472.55,261.35" stroke="#202070" stroke-opacity="0.35"/>
<polyline points="445.75,295.85 445.75,304.35 459.15,308.60 472.55,304.35"/>
<polyline points="445.75,304.35 445.75,295.85 459.15,291.60 472.55,295.85" stroke="#202070" stroke-opacity="0.35"/>
<polyline points="472.55,295.85 472.55,304.35"/>
<line x1="445.75" y1="252.85" x2="445.75" y2="295.85"/>
<line x1="472.55" y1="252.85" x2="472.55" y2="295.85"/>
<line x1="459.15" y1="265.60" x2="459.15" y2="308.60"/>
</g>
<path d="M475.25,256.60H502.05V301.60H475.25Z M482.75,256.60V276.60A5.90,5.90 0 0 0 494.55,276.60V256.60Z" fill="rgb(8,8,145)" fill-opacity="0.58" fill-rule="evenodd"/>
<path d="M482.75,256.60V276.60A5.90,5.90 0 0 0 494.55,276.60V256.60" fill="none" stroke="#c0c0e0" stroke-width="0.6" stroke-opacity="0.80"/>
<rect x="485.65" y="253.60" width="6.00" height="23.00" rx="3" ry="1.8" fill="rgb(8,8,145)" fill-opacity="0.5"/>
<line x1="488.65" y1="276.10" x2="488.65" y2="301.60" stroke="#a8a8d8" stroke-width="1.7" stroke-opacity="0.6"/>
<g fill="none" stroke="#8c8c9c" stroke-width="0.5">
<polyline points="475.25,261.35 475.25,252.85 488.65,248.60 502.05,252.85 502.05,261.35"/>
<polyline points="475.25,261.35 488.65,265.60 502.05,261.35" stroke="#202070" stroke-opacity="0.35"/>
<polyline points="475.25,295.85 475.25,304.35 488.65,308.60 502.05,304.35"/>
<polyline points="475.25,304.35 475.25,295.85 488.65,291.60 502.05,295.85" stroke="#202070" stroke-opacity="0.35"/>
<polyline points="502.05,295.85 502.05,304.35"/>
<line x1="475.25" y1="252.85" x2="475.25" y2="295.85"/>
<line x1="502.05" y1="252.85" x2="502.05" y2="295.85"/>
<line x1="488.65" y1="265.60" x2="488.65" y2="308.60"/>
</g>
<path d="M372.00,271.90H398.80V316.90H372.00Z M379.50,271.90V291.90A5.90,5.90 0 0 0 391.30,291.90V271.90Z" fill="rgb(8,8,145)" fill-opacity="0.58" fill-rule="evenodd"/>
<path d="M379.50,271.90V291.90A5.90,5.90 0 0 0 391.30,291.90V271.90" fill="none" stroke="#c0c0e0" stroke-width="0.6" stroke-opacity="0.80"/>
<rect x="382.40" y="268.90" width="6.00" height="23.00" rx="3" ry="1.8" fill="rgb(8,8,145)" fill-opacity="0.5"/>
<line x1="385.40" y1="291.40" x2="385.40" y2="316.90" stroke="#a8a8d8" stroke-width="1.7" stroke-opacity="0.6"/>
<g fill="none" stroke="#8c8c9c" stroke-width="0.5">
<polyline points="372.00,276.65 372.00,268.15 385.40,263.90 398.80,268.15 398.80,276.65"/>
<polyline points="372.00,276.65 385.40,280.90 398.80,276.65" stroke="#202070" stroke-opacity="0.35"/>
<polyline points="372.00,311.15 372.00,319.65 385.40,323.90 398.80,319.65"/>
<polyline points="372.00,319.65 372.00,311.15 385.40,306.90 398.80,311.15" stroke="#202070" stroke-opacity="0.35"/>
<polyline points="398.80,311.15 398.80,319.65"/>
<line x1="372.00" y1="268.15" x2="372.00" y2="311.15"/>
<line x1="398.80" y1="268.15" x2="398.80" y2="311.15"/>
<line x1="385.40" y1="280.90" x2="385.40" y2="323.90"/>
</g>
<path d="M401.50,271.90H428.30V316.90H401.50Z" fill="rgb(8,8,145)" fill-opacity="0.58" fill-rule="evenodd"/>
<path d="M409.00,271.90V291.90A5.90,5.90 0 0 0 420.80,291.90V271.90" fill="none" stroke="#c0c0e0" stroke-width="0.6" stroke-opacity="0.30"/>
<rect x="411.90" y="268.90" width="6.00" height="23.00" rx="3" ry="1.8" fill="rgb(8,8,145)" fill-opacity="0.5"/>
<line x1="414.90" y1="291.40" x2="414.90" y2="316.90" stroke="#a8a8d8" stroke-width="1.7" stroke-opacity="0.6"/>
<g fill="none" stroke="#8c8c9c" stroke-width="0.5">
<polyline points="401.50,276.65 401.50,268.15 414.90,263.90 428.30,268.15 428.30,276.65"/>
<polyline points="401.50,276.65 414.90,280.90 428.30,276.65" stroke="#202070" stroke-opacity="0.35"/>
<polyline points="401.50,311.15 401.50,319.65 414.90,323.90 428.30,319.65"/>
<polyline points="401.50,319.65 401.50,311.15 414.90,306.90 428.30,311.15" stroke="#202070" stroke-opacity="0.35"/>
<polyline points="428.30,311.15 428.30,319.65"/>
<line x1="401.50" y1="268.15" x2="401.50" y2="311.15"/>
<line x1="428.30" y1="268.15" x2="428.30" y2="311.15"/>
<line x1="414.90" y1="280.90" x2="414.90" y2="323.90"/>
</g>
<path d="M431.00,271.90H457.80V316.90H431.00Z" fill="rgb(8,8,145)" fill-opacity="0.58" fill-rule="evenodd"/>
<path d="M438.50,271.90V291.90A5.90,5.90 0 0 0 450.30,291.90V271.90" fill="none" stroke="#c0c0e0" stroke-width="0.6" stroke-opacity="0.30"/>
<rect x="441.40" y="268.90" width="6.00" height="23.00" rx="3" ry="1.8" fill="rgb(8,8,145)" fill-opacity="0.5"/>
<line x1="444.40" y1="291.40" x2="444.40" y2="316.90" stroke="#a8a8d8" stroke-width="1.7" stroke-opacity="0.6"/>
<g fill="none" stroke="#8c8c9c" stroke-width="0.5">
<polyline points="431.00,276.65 431.00,268.15 444.40,263.90 457.80,268.15 457.80,276.65"/>
<polyline points="431.00,276.65 444.40,280.90 457.80,276.65" stroke="#202070" stroke-opacity="0.35"/>
<polyline points="431.00,311.15 431.00,319.65 444.40,323.90 457.80,319.65"/>
<polyline points="431.00,319.65 431.00,311.15 444.40,306.90 457.80,311.15" stroke="#202070" stroke-opacity="0.35"/>
<polyline points="457.80,311.15 457.80,319.65"/>
<line x1="431.00" y1="268.15" x2="431.00" y2="311.15"/>
<line x1="457.80" y1="268.15" x2="457.80" y2="311.15"/>
<line x1="444.40" y1="280.90" x2="444.40" y2="323.90"/>
</g>
<path d="M460.50,271.90H487.30V316.90H460.50Z" fill="rgb(8,8,145)" fill-opacity="0.58" fill-rule="evenodd"/>
<path d="M468.00,271.90V291.90A5.90,5.90 0 0 0 479.80,291.90V271.90" fill="none" stroke="#c0c0e0" stroke-width="0.6" stroke-opacity="0.30"/>
<defs><linearGradient id="cgc4" x1="0" y1="0" x2="0" y2="1"><stop offset="0" stop-color="#426ce5"/><stop offset="0.84" stop-color="#4258e5"/><stop offset="0.9" stop-color="#39eddc"/><stop offset="1" stop-color="#2535f1"/></linearGradient></defs>
<rect x="471.20" y="268.90" width="5.40" height="22.00" rx="3" ry="1.5" fill="url(#cgc4)" stroke="#404060" stroke-width="0.4" stroke-opacity="0.6"/>
<line x1="473.90" y1="291.40" x2="473.90" y2="316.90" stroke="#a8a8d8" stroke-width="1.7" stroke-opacity="0.6"/>
<g fill="none" stroke="#8c8c9c" stroke-width="0.5">
<polyline points="460.50,276.65 460.50,268.15 473.90,263.90 487.30,268.15 487.30,276.65"/>
<polyline points="460.50,276.65 473.90,280.90 487.30,276.65" stroke="#202070" stroke-opacity="0.35"/>
<polyline points="460.50,311.15 460.50,319.65 473.90,323.90 487.30,319.65"/>
<polyline points="460.50,319.65 460.50,311.15 473.90,306.90 487.30,311.15" stroke="#202070" stroke-opacity="0.35"/>
<polyline points="487.30,311.15 487.30,319.65"/>
<line x1="460.50" y1="268.15" x2="460.50" y2="311.15"/>
<line x1="487.30" y1="268.15" x2="487.30" y2="311.15"/>
<line x1="473.90" y1="280.90" x2="473.90" y2="323.90"/>
</g>
<path d="M490.00,271.90H516.80V316.90H490.00Z M497.50,271.90V291.90A5.90,5.90 0 0 0 509.30,291.90V271.90Z" fill="rgb(8,8,145)" fill-opacity="0.58" fill-rule="evenodd"/>
<path d="M497.50,271.90V291.90A5.90,5.90 0 0 0 509.30,291.90V271.90" fill="none" stroke="#c0c0e0" stroke-width="0.6" stroke-opacity="0.80"/>
<defs><linearGradient id="cgc5" x1="0" y1="0" x2="0" y2="1"><stop offset="0" stop-color="#42c1e5"/><stop offset="0.84" stop-color="#42ade5"/><stop offset="0.9" stop-color="#39eddc"/><stop offset="1" stop-color="#2535f1"/></linearGradient></defs>
<rect x="499.10" y="268.40" width="8.60" height="24.20" rx="4.4" ry="3" fill="#eeeef6" fill-opacity="0.9"/>
<rect x="500.70" y="268.90" width="5.40" height="22.00" rx="3" ry="1.5" fill="url(#cgc5)" stroke="#404060" stroke-width="0.4" stroke-opacity="0.6"/>
<line x1="503.40" y1="291.40" x2="503.40" y2="316.90" stroke="#a8a8d8" stroke-width="1.7" stroke-opacity="0.6"/>
<g fill="none" stroke="#8c8c9c" stroke-width="0.5">
<polyline points="490.00,276.65 490.00,268.15 503.40,263.90 516.80,268.15 516.80,276.65"/>
<polyline points="490.00,276.65 503.40,280.90 516.80,276.65" stroke="#202070" stroke-opacity="0.35"/>
<polyline points="490.00,311.15 490.00,319.65 503.40,323.90 516.80,319.65"/>
<polyline points="490.00,319.65 490.00,311.15 503.40,306.90 516.80,311.15" stroke="#202070" stroke-opacity="0.35"/>
<polyline points="516.80,311.15 516.80,319.65"/>
<line x1="490.00" y1="268.15" x2="490.00" y2="311.15"/>
<line x1="516.80" y1="268.15" x2="516.80" y2="311.15"/>
<line x1="503.40" y1="280.90" x2="503.40" y2="323.90"/>
</g>
<path d="M386.75,287.20H413.55V332.20H386.75Z" fill="rgb(8,8,145)" fill-opacity="0.58" fill-rule="evenodd"/>
<path d="M394.25,287.20V307.20A5.90,5.90 0 0 0 406.05,307.20V287.20" fill="none" stroke="#c0c0e0" stroke-width="0.6" stroke-opacity="0.30"/>
<defs><linearGradient id="cgc6" x1="0" y1="0" x2="0" y2="1"><stop offset="0" stop-color="#73deb4"/><stop offset="0.84" stop-color="#5fdec8"/><stop offset="0.9" stop-color="#39eddc"/><stop offset="1" stop-color="#2535f1"/></linearGradient></defs>
<rect x="395.85" y="283.70" width="8.60" height="24.20" rx="4.4" ry="3" fill="#eeeef6" fill-opacity="0.9"/>
<rect x="397.45" y="284.20" width="5.40" height="22.00" rx="3" ry="1.5" fill="url(#cgc6)" stroke="#404060" stroke-width="0.4" stroke-opacity="0.6"/>
<line x1="400.15" y1="306.70" x2="400.15" y2="332.20" stroke="#a8a8d8" stroke-width="1.7" stroke-opacity="0.6"/>
<g fill="none" stroke="#8c8c9c" stroke-width="0.5">
<polyline points="386.75,291.95 386.75,283.45 400.15,279.20 413.55,283.45 413.55,291.95"/>
<polyline points="386.75,291.95 400.15,296.20 413.55,291.95" stroke="#202070" stroke-opacity="0.35"/>
<polyline points="386.75,326.45 386.75,334.95 400.15,339.20 413.55,334.95"/>
<polyline points="386.75,334.95 386.75,326.45 400.15,322.20 413.55,326.45" stroke="#202070" stroke-opacity="0.35"/>
<polyline points="413.55,326.45 413.55,334.95"/>
<line x1="386.75" y1="283.45" x2="386.75" y2="326.45"/>
<line x1="413.55" y1="283.45" x2="413.55" y2="326.45"/>
<line x1="400.15" y1="296.20" x2="400.15" y2="339.20"/>
</g>
<path d="M416.25,287.20H443.05V332.20H416.25Z" fill="rgb(8,8,145)" fill-opacity="0.58" fill-rule="evenodd"/>
<path d="M423.75,287.20V307.20A5.90,5.90 0 0 0 435.55,307.20V287.20" fill="none" stroke="#c0c0e0" stroke-width="0.6" stroke-opacity="0.30"/>
<line x1="429.65" y1="287.70" x2="429.65" y2="332.20" stroke="#a8a8d8" stroke-width="1.7" stroke-opacity="0.6"/>
<g fill="none" stroke="#8c8c9c" stroke-width="0.5">
<polyline points="416.25,291.95 416.25,283.45 429.65,279.20 443.05,283.45 443.05,291.95"/>
<polyline points="416.25,291.95 429.65,296.20 443.05,291.95" stroke="#202070" stroke-opacity="0.35"/>
<polyline points="416.25,326.45 416.25,334.95 429.65,339.20 443.05,334.95"/>
<polyline points="416.25,334.95 416.25,326.45 429.65,322.20 443.05,326.45" stroke="#202070" stroke-opacity="0.35"/>
<polyline points="443.05,326.45 443.05,334.95"/>
<line x1="416.25" y1="283.45" x2="416.25" y2="326.45"/>
<line x1="443.05" y1="283.45" x2="443.05" y2="326.45"/>
<line x1="429.65" y1="296.20" x2="429.65" y2="339.20"/>
</g>
<path d="M445.75,287.20H472.55V332.20H445.75Z" fill="rgb(8,8,145)" fill-opacity="0.58" fill-rule="evenodd"/>
<path d="M453.25,287.20V307.20A5.90,5.90 0 0 0 465.05,307.20V287.20" fill="none" stroke="#c0c0e0" stroke-width="0.6" stroke-opacity="0.30"/>
<line x1="459.15" y1="287.70" x2="459.15" y2="332.20" stroke="#a8a8d8" stroke-width="1.7" stroke-opacity="0.6"/>
<g fill="none" stroke="#8c8c9c" stroke-width="0.5">
<polyline points="445.75,291.95 445.75,283.45 459.15,279.20 472.55,283.45 472.55,291.95"/>
<polyline points="445.75,291.95 459.15,296.20 472.55,291.95" stroke="#202070" stroke-opacity="0.35"/>
<polyline points="445.75,326.45 445.75,334.95 459.15,339.20 472.55,334.95"/>
<polyline points="445.75,334.95 445.75,326.45 459.15,322.20 472.55,326.45" stroke="#202070" stroke-opacity="0.35"/>
<polyline points="472.55,326.45 472.55,334.95"/>
<line x1="445.75" y1="283.45" x2="445.75" y2="326.45"/>
<line x1="472.55" y1="283.45" x2="472.55" y2="326.45"/>
<line x1="459.15" y1="296.20" x2="459.15" y2="339.20"/>
</g>
<path d="M475.25,287.20H502.05V332.20H475.25Z" fill="rgb(8,8,145)" fill-opacity="0.58" fill-rule="evenodd"/>
<path d="M482.75,287.20V307.20A5.90,5.90 0 0 0 494.55,307.20V287.20" fill="none" stroke="#c0c0e0" stroke-width="0.6" stroke-opacity="0.30"/>
<line x1="488.65" y1="287.70" x2="488.65" y2="332.20" stroke="#a8a8d8" stroke-width="1.7" stroke-opacity="0.6"/>
<g fill="none" stroke="#8c8c9c" stroke-width="0.5">
<polyline points="475.25,291.95 475.25,283.45 488.65,279.20 502.05,283.45 502.05,291.95"/>
<polyline points="475.25,291.95 488.65,296.20 502.05,291.95" stroke="#202070" stroke-opacity="0.35"/>
<polyline points="475.25,326.45 475.25,334.95 488.65,339.20 502.05,334.95"/>
<polyline points="475.25,334.95 475.25,326.45 488.65,322.20 502.05,326.45" stroke="#202070" stroke-opacity="0.35"/>
<polyline points="502.05,326.45 502.05,334.95"/>
<line x1="475.25" y1="283.45" x2="475.25" y2="326.45"/>
<line x1="502.05" y1="283.45" x2="502.05" y2="326.45"/>
<line x1="488.65" y1="296.20" x2="488.65" y2="339.20"/>
</g>
<path d="M401.50,302.50H428.30V347.50H401.50Z" fill="rgb(8,8,145)" fill-opacity="0.58" fill-rule="evenodd"/>
<path d="M409.00,302.50V322.50A5.90,5.90 0 0 0 420.80,322.50V302.50" fill="none" stroke="#c0c0e0" stroke-width="0.6" stroke-opacity="0.30"/>
<line x1="414.90" y1="303.00" x2="414.90" y2="347.50" stroke="#a8a8d8" stroke-width="1.7" stroke-opacity="0.6"/>
<g fill="none" stroke="#8c8c9c" stroke-width="0.5">
<polyline points="401.50,307.25 401.50,298.75 414.90,294.50 428.30,298.75 428.30,307.25"/>
<polyline points="401.50,307.25 414.90,311.50 428.30,307.25" stroke="#202070" stroke-opacity="0.35"/>
<polyline points="401.50,341.75 401.50,350.25 414.90,354.50 428.30,350.25"/>
<polyline points="401.50,350.25 401.50,341.75 414.90,337.50 428.30,341.75" stroke="#202070" stroke-opacity="0.35"/>
<polyline points="428.30,341.75 428.30,350.25"/>
<line x1="401.50" y1="298.75" x2="401.50" y2="341.75"/>
<line x1="428.30" y1="298.75" x2="428.30" y2="341.75"/>
<line x1="414.90" y1="311.50" x2="414.90" y2="354.50"/>
</g>
<path d="M431.00,302.50H457.80V347.50H431.00Z" fill="rgb(8,8,145)" fill-opacity="0.58" fill-rule="evenodd"/>
<path d="M438.50,302.50V322.50A5.90,5.90 0 0 0 450.30,322.50V302.50" fill="none" stroke="#c0c0e0" stroke-width="0.6" stroke-opacity="0.30"/>
<line x1="444.40" y1="303.00" x2="444.40" y2="347.50" stroke="#a8a8d8" stroke-width="1.7" stroke-opacity="0.6"/>
<g fill="none" stroke="#8c8c9c" stroke-width="0.5">
<polyline points="431.00,307.25 431.00,298.75 444.40,294.50 457.80,298.75 457.80,307.25"/>
<polyline points="431.00,307.25 444.40,311.50 457.80,307.25" stroke="#202070" stroke-opacity="0.35"/>
<polyline points="431.00,341.75 431.00,350.25 444.40,354.50 457.80,350.25"/>
<polyline points="431.00,350.25 431.00,341.75 444.40,337.50 457.80,341.75" stroke="#202070" stroke-opacity="0.35"/>
<polyline points="457.80,341.75 457.80,350.25"/>
<line x1="431.00" y1="298.75" x2="431.00" y2="341.75"/>
<line x1="457.80" y1="298.75" x2="457.80" y2="341.75"/>
<line x1="444.40" y1="311.50" x2="444.40" y2="354.50"/>
</g>
<path d="M460.50,302.50H487.30V347.50H460.50Z" fill="rgb(8,8,145)" fill-opacity="0.58" fill-rule="evenodd"/>
<path d="M468.00,302.50V322.50A5.90,5.90 0 0 0 479.80,322.50V302.50" fill="none" stroke="#c0c0e0" stroke-width="0.6" stroke-opacity="0.30"/>
<line x1="473.90" y1="303.00" x2="473.90" y2="347.50" stroke="#a8a8d8" stroke-width="1.7" stroke-opacity="0.6"/>
<g fill="none" stroke="#8c8c9c" stroke-width="0.5">
<polyline points="460.50,307.25 460.50,298.75 473.90,294.50 487.30,298.75 487.30,307.25"/>
<polyline points="460.50,307.25 473.90,311.50 487.30,307.25" stroke="#202070" stroke-opacity="0.35"/>
<polyline points="460.50,341.75 460.50,350.25 473.90,354.50 487.30,350.25"/>
<polyline points="460.50,350.25 460.50,341.75 473.90,337.50 487.30,341.75" stroke="#202070" stroke-opacity="0.35"/>
<polyline points="487.30,341.75 487.30,350.25"/>
<line x1="460.50" y1="298.75" x2="460.50" y2="341.75"/>
<line x1="487.30" y1="298.75" x2="487.30" y2="341.75"/>
<line x1="473.90" y1="311.50" x2="473.90" y2="354.50"/>
</g>
<defs><linearGradient id="jeta" x1="0" y1="1" x2="0" y2="0">
<stop offset="0.00" stop-color="#00007f"/>
<stop offset="0.05" stop-color="#0000b2"/>
<stop offset="0.10" stop-color="#0000e5"/>
<stop offset="0.15" stop-color="#0019ff"/>
<stop offset="0.20" stop-color="#004cff"/>
<stop offset="0.25" stop-color="#007fff"/>
<stop offset="0.30" stop-color="#00b2ff"/>
<stop offset="0.35" stop-color="#00e5ff"/>
<stop offset="0.40" stop-color="#19ffe5"/>
<stop offset="0.45" stop-color="#4cffb2"/>
<stop offset="0.50" stop-color="#7fff7f"/>
<stop offset="0.55" stop-color="#b2ff4c"/>
<stop offset="0.60" stop-color="#e5ff19"/>
<stop offset="0.65" stop-color="#ffe500"/>
<stop offset="0.70" stop-color="#ffb200"/>
<stop offset="0.75" stop-color="#ff7f00"/>
<stop offset="0.80" stop-color="#ff4c00"/>
<stop offset="0.85" stop-color="#ff1900"/>
<stop offset="0.90" stop-color="#e50000"/>
<stop offset="0.95" stop-color="#b20000"/>
<stop offset="1.00" stop-color="#7f0000"/>
</linearGradient></defs>
<rect x="158.00" y="220.00" width="6" height="151.00" fill="url(#jeta)"/>
<text x="167.00" y="247.50" font-family="Liberation Sans" font-size="5.6" fill="#444">0.25</text>
<text x="167.00" y="272.40" font-family="Liberation Sans" font-size="5.6" fill="#444">0.2</text>
<text x="167.00" y="297.30" font-family="Liberation Sans" font-size="5.6" fill="#444">0.15</text>
<text x="167.00" y="322.20" font-family="Liberation Sans" font-size="5.6" fill="#444">0.1</text>
<text x="167.00" y="347.10" font-family="Liberation Sans" font-size="5.6" fill="#444">0.05</text>
<text x="167.00" y="372.00" font-family="Liberation Sans" font-size="5.6" fill="#444">0</text>
<defs><linearGradient id="jetb" x1="0" y1="1" x2="0" y2="0">
<stop offset="0.00" stop-color="#00007f"/>
<stop offset="0.05" stop-color="#0000b2"/>
<stop offset="0.10" stop-color="#0000e5"/>
<stop offset="0.15" stop-color="#0019ff"/>
<stop offset="0.20" stop-color="#004cff"/>
<stop offset="0.25" stop-color="#007fff"/>
<stop offset="0.30" stop-color="#00b2ff"/>
<stop offset="0.35" stop-color="#00e5ff"/>
<stop offset="0.40" stop-color="#19ffe5"/>
<stop offset="0.45" stop-color="#4cffb2"/>
<stop offset="0.50" stop-color="#7fff7f"/>
<stop offset="0.55" stop-color="#b2ff4c"/>
<stop offset="0.60" stop-color="#e5ff19"/>
<stop offset="0.65" stop-color="#ffe500"/>
<stop offset="0.70" stop-color="#ffb200"/>
<stop offset="0.75" stop-color="#ff7f00"/>
<stop offset="0.80" stop-color="#ff4c00"/>
<stop offset="0.85" stop-color="#ff1900"/>
<stop offset="0.90" stop-color="#e50000"/>
<stop offset="0.95" stop-color="#b20000"/>
<stop offset="1.00" stop-color="#7f0000"/>
</linearGradient></defs>
<rect x="343.00" y="221.80" width="6" height="149.50" fill="url(#jetb)"/>
<text x="352.00" y="224.30" font-family="Liberation Sans" font-size="5.6" fill="#444">0.25</text>
<text x="352.00" y="254.00" font-family="Liberation Sans" font-size="5.6" fill="#444">0.2</text>
<text x="352.00" y="283.70" font-family="Liberation Sans" font-size="5.6" fill="#444">0.15</text>
<text x="352.00" y="313.40" font-family="Liberation Sans" font-size="5.6" fill="#444">0.1</text>
<text x="352.00" y="343.10" font-family="Liberation Sans" font-size="5.6" fill="#444">0.05</text>
<text x="352.00" y="372.80" font-family="Liberation Sans" font-size="5.6" fill="#444">0</text>
<defs><linearGradient id="jetc" x1="0" y1="1" x2="0" y2="0">
<stop offset="0.00" stop-color="#00007f"/>
<stop offset="0.05" stop-color="#0000b2"/>
<stop offset="0.10" stop-color="#0000e5"/>
<stop offset="0.15" stop-color="#0019ff"/>
<stop offset="0.20" stop-color="#004cff"/>
<stop offset="0.25" stop-color="#007fff"/>
<stop offset="0.30" stop-color="#00b2ff"/>
<stop offset="0.35" stop-color="#00e5ff"/>
<stop offset="0.40" stop-color="#19ffe5"/>
<stop offset="0.45" stop-color="#4cffb2"/>
<stop offset="0.50" stop-color="#7fff7f"/>
<stop offset="0.55" stop-color="#b2ff4c"/>
<stop offset="0.60" stop-color="#e5ff19"/>
<stop offset="0.65" stop-color="#ffe500"/>
<stop offset="0.70" stop-color="#ffb200"/>
<stop offset="0.75" stop-color="#ff7f00"/>
<stop offset="0.80" stop-color="#ff4c00"/>
<stop offset="0.85" stop-color="#ff1900"/>
<stop offset="0.90" stop-color="#e50000"/>
<stop offset="0.95" stop-color="#b20000"/>
<stop offset="1.00" stop-color="#7f0000"/>
</linearGradient></defs>
<rect x="526.20" y="220.00" width="6" height="151.00" fill="url(#jetc)"/>
<text x="535.20" y="247.50" font-family="Liberation Sans" font-size="5.6" fill="#444">0.25</text>
<text x="535.20" y="272.40" font-family="Liberation Sans" font-size="5.6" fill="#444">0.2</text>
<text x="535.20" y="297.30" font-family="Liberation Sans" font-size="5.6" fill="#444">0.15</text>
<text x="535.20" y="322.20" font-family="Liberation Sans" font-size="5.6" fill="#444">0.1</text>
<text x="535.20" y="347.10" font-family="Liberation Sans" font-size="5.6" fill="#444">0.05</text>
<text x="535.20" y="372.00" font-family="Liberation Sans" font-size="5.6" fill="#444">0</text>
<g font-family="Liberation Serif" font-size="11" fill="#111" text-anchor="middle">
<text x="91" y="386.2">432 Hz</text>
<text x="276.5" y="386.2">463 Hz</text>
<text x="458.8" y="386.2">538 Hz</text>
</g>
</svg>
</body></html>
